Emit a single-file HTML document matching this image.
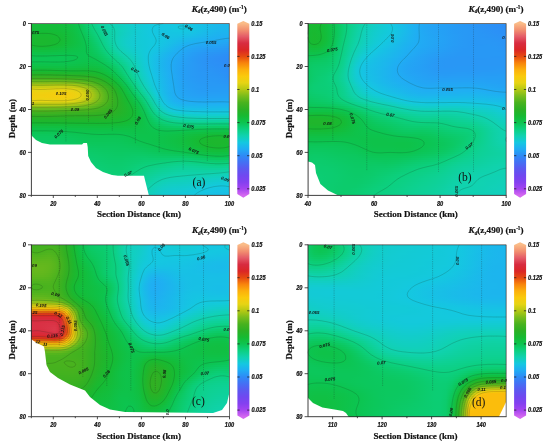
<!DOCTYPE html>
<html><head><meta charset="utf-8"><title>Kd(z,490) sections</title>
<style>
html,body{margin:0;padding:0;background:#fff}
#fig{position:relative;width:550px;height:445px;background:#fff;overflow:hidden}
.f{position:absolute;overflow:hidden}
.f i{display:block;height:2px}
svg{position:absolute;left:0;top:0}
.ct{fill:none;stroke:#143014;stroke-width:.45;stroke-opacity:.42}
.st{fill:none;stroke:#222;stroke-width:.5;stroke-dasharray:.8 1;stroke-opacity:.6}
.fr{fill:none;stroke:#333;stroke-width:.7}
.ax{fill:none;stroke:#2a2a2a;stroke-width:.9}
.tk{fill:none;stroke:#222;stroke-width:.8}
.tl{font:italic bold 6.5px "Liberation Sans",sans-serif;fill:#111;stroke:#111;stroke-width:.2px}
.cl{font:italic bold 4.3px "Liberation Sans",sans-serif;fill:#111}
.al{font:bold 9.0px "Liberation Serif",serif;fill:#111;stroke:#111;stroke-width:.2px}
.ti{font:bold 9.1px "Liberation Serif",serif;fill:#111;stroke:#111;stroke-width:.2px}
.pl{font:11.5px "Liberation Serif",serif;fill:#111}
</style></head><body>
<div id="fig">
<div class="f" style="left:31.3px;top:23.5px;width:198.1px;height:171.9px"><i style="background:linear-gradient(90deg,#14bc39,#14bc39,#14bc39,#14bc38,#14bc39,#13bd3b,#12be3f,#0fc147,#0cc452,#0cca67,#0ccf7d,#0dd191,#0fd1a1,#10d2ad,#11d1b7,#11cfbf,#12cdc7,#13ccce,#13cad4,#13c9d9,#14c9dd,#14c8e0,#14c7e1,#14c7e1,#14c7e1,#14c7e1,#15c6e1,#16c4e3,#17c1e5,#18bee7,#19bbe9,#1ab9eb,#1bb7ec,#1bb7ec)"></i><i style="background:linear-gradient(90deg,#14bc39,#14bc39,#14bc39,#14bc39,#14bc39,#13bd3b,#12be3f,#0fc146,#0cc450,#0cc964,#0ccf7a,#0dd18e,#0ed19e,#0fd2aa,#10d1b4,#11cfbd,#12cec5,#12cccd,#13cbd4,#13c9da,#14c8df,#14c7e1,#15c6e1,#15c7e1,#14c8e0,#14c8e0,#14c8e0,#15c5e2,#17c2e4,#18bee7,#1abbe9,#1bb8eb,#1bb7ec,#1bb8ec)"></i><i style="background:linear-gradient(90deg,#14bc38,#14bc38,#14bc38,#14bc38,#14bc38,#13bd3a,#12be3e,#10c045,#0cc44f,#0cc862,#0cce77,#0dd08a,#0ed19a,#0fd2a7,#10d2b2,#11d0bc,#12cec4,#12cccd,#13cbd4,#14c9da,#14c8df,#15c6e1,#15c6e2,#15c6e1,#14c7e0,#14c8e0,#14c8e0,#15c5e2,#17c2e5,#18bee7,#1abaea,#1bb7ec,#1cb6ed,#1bb7ec)"></i><i style="background:linear-gradient(90deg,#15bb36,#15bb36,#15bb36,#15bb36,#14bc37,#14bc39,#12be3d,#10c043,#0dc34d,#0cc85f,#0ccd73,#0dd087,#0ed197,#0fd2a5,#10d2b1,#11d0bc,#12cec5,#12cccd,#13cbd4,#14c9da,#14c8df,#15c6e1,#15c5e2,#15c6e2,#15c7e1,#14c7e1,#15c6e1,#16c4e3,#17c0e5,#19bce8,#1bb9eb,#1cb6ed,#1cb5ee,#1cb5ed)"></i><i style="background:linear-gradient(90deg,#15bb34,#15bb34,#16ba33,#16ba33,#15bb34,#14bc37,#13bd3b,#11bf42,#0dc34c,#0cc75c,#0ccc70,#0cd083,#0ed195,#0fd1a4,#10d2b1,#11cfbc,#12cdc6,#12cccd,#13cad4,#14c9da,#14c8df,#15c6e1,#15c5e2,#15c5e2,#15c5e2,#15c5e2,#16c4e3,#17c2e4,#18bee7,#1abaea,#1bb7ec,#1cb4ee,#1db3ef,#1db4ef)"></i><i style="background:linear-gradient(90deg,#16ba32,#17ba31,#17b931,#17ba31,#16ba32,#15bb35,#13bd3a,#11bf41,#0ec24a,#0cc659,#0ccb6c,#0cd080,#0dd192,#0fd1a3,#10d2b1,#11cfbd,#12cdc7,#13ccce,#13cad5,#13c9da,#14c8df,#15c7e1,#15c5e2,#16c4e3,#16c4e3,#16c3e4,#17c1e5,#18bfe7,#19bbe9,#1bb8eb,#1cb5ee,#1db2ef,#1eb1f0,#1eb1f0)"></i><i style="background:linear-gradient(90deg,#18b931,#19b930,#19b930,#19b930,#17ba31,#15bb34,#14bc39,#11bf40,#0ec249,#0cc556,#0cca68,#0ccf7c,#0dd18f,#0fd1a2,#10d2b2,#11cfbf,#12cdc8,#13cbd0,#13cad5,#13c9da,#14c8de,#14c7e1,#15c5e2,#16c4e3,#17c2e4,#17c0e6,#18bee7,#1abbe9,#1bb8eb,#1cb5ed,#1db2ef,#1eb0f1,#1faff2,#1faff2)"></i><i style="background:linear-gradient(90deg,#19b930,#1ab82f,#1ab82f,#1ab830,#18b931,#16ba33,#14bc39,#11bf40,#0fc148,#0cc553,#0cc965,#0cce78,#0dd18c,#0fd1a0,#10d2b2,#11cfc0,#12cdca,#13cbd0,#13cad5,#13c9d9,#14c9dd,#14c7e0,#15c5e2,#16c2e4,#18c0e6,#19bde8,#1abaea,#1bb7ec,#1cb4ee,#1db2f0,#1eb0f1,#1faef3,#20acf4,#20abf4)"></i><i style="background:linear-gradient(90deg,#19b930,#1bb82f,#1bb82f,#1ab82f,#18b931,#16ba33,#14bc39,#11bf40,#0fc148,#0cc451,#0cc862,#0ccd75,#0dd08a,#0fd19e,#10d2b2,#11cfc0,#12cccb,#13cbd1,#13cad6,#13c9d9,#14c9dd,#14c7e0,#15c5e2,#17c1e5,#19bde8,#1ab9ea,#1cb6ed,#1db3ef,#1eb1f1,#1faff2,#20adf3,#20abf4,#21a9f4,#22a8f4)"></i><i style="background:linear-gradient(90deg,#18b930,#1ab82f,#1bb82f,#1ab830,#18b931,#15bb34,#13bd3a,#11bf40,#0fc147,#0cc450,#0cc85f,#0ccc71,#0dd086,#0ed19c,#10d2b0,#11cfc0,#12cccb,#13cbd1,#13cad6,#13c9d9,#14c9dd,#14c7e0,#16c4e3,#18c0e6,#1abbe9,#1cb6ed,#1db2f0,#1faff2,#20adf3,#20abf4,#21a9f4,#22a8f4,#23a6f4,#23a4f4)"></i><i style="background:linear-gradient(90deg,#17ba32,#19b930,#19b930,#18b931,#16ba32,#15bb36,#13bd3c,#11bf42,#0fc148,#0cc44f,#0cc75c,#0ccb6e,#0cd083,#0ed199,#10d2ae,#11cfbf,#12cdca,#13cbd1,#13cad5,#13c9d9,#14c9dd,#15c7e1,#16c3e4,#18bee7,#1bb8eb,#1db3ef,#1faef2,#20abf4,#21a8f4,#22a7f4,#23a5f4,#23a4f4,#24a2f5,#259ff5)"></i><i style="background:linear-gradient(90deg,#15bb35,#16ba33,#16ba33,#15bb34,#14bc37,#13bd3a,#12be3f,#10c044,#0ec249,#0cc44f,#0cc75a,#0ccb6a,#0cd07f,#0ed195,#10d2ab,#11cfbc,#12cdc8,#13cbcf,#13cad5,#13c9d9,#14c8de,#15c6e2,#17c1e5,#19bce9,#1cb5ed,#1eb0f1,#20abf4,#22a7f4,#23a4f4,#24a3f5,#24a1f5,#25a0f5,#269ef5,#279bf5)"></i><i style="background:linear-gradient(90deg,#13bd3b,#14bc39,#14bc39,#13bd3a,#13bd3c,#12be3f,#10c043,#0fc147,#0ec24b,#0cc44f,#0cc658,#0cca67,#0ccf7a,#0dd191,#0fd2a7,#11d0b8,#12cec5,#12cccd,#13cbd4,#13c9d9,#14c8e0,#16c4e3,#18bfe6,#1ab9eb,#1db3ef,#20adf3,#22a8f4,#23a4f4,#25a1f5,#259ff5,#269df5,#279cf5,#279af5,#2897f5)"></i><i style="background:linear-gradient(90deg,#11bf42,#11bf40,#11bf40,#11bf41,#11bf42,#10c045,#0fc147,#0ec24a,#0dc34c,#0cc44f,#0cc657,#0cc963,#0ccd76,#0dd08b,#0fd1a1,#10d1b3,#11cfc1,#12cdca,#13cbd2,#13c9da,#14c7e1,#16c2e4,#19bde8,#1bb7ec,#1eb1f1,#21abf4,#23a5f4,#25a1f5,#269ef5,#279bf5,#289af5,#2898f5,#2996f5,#2a94f5)"></i><i style="background:linear-gradient(90deg,#0fc148,#0fc147,#0fc147,#0fc147,#0ec249,#0ec24a,#0ec24b,#0dc34d,#0dc34e,#0cc450,#0cc555,#0cc860,#0ccc71,#0cd085,#0ed19b,#10d2ae,#11d0bc,#12cdc7,#13cbd1,#13c9da,#15c6e1,#17c0e5,#1abaea,#1cb4ee,#1faef2,#22a8f4,#24a3f5,#269ef5,#279bf5,#2898f5,#2996f5,#2a95f5,#2a93f5,#2b91f6)"></i><i style="background:linear-gradient(90deg,#0dc34e,#0dc34d,#0dc34d,#0dc34d,#0dc34e,#0dc34e,#0cc44f,#0cc44f,#0cc44f,#0cc450,#0cc553,#0cc75c,#0ccb6b,#0cd07f,#0ed194,#0fd2a7,#11d1b6,#12cec3,#13cccf,#13c9da,#15c5e2,#18bfe7,#1bb8eb,#1db2f0,#20adf4,#22a6f4,#25a1f5,#269df5,#2899f5,#2996f5,#2a94f5,#2b92f6,#2b90f6,#2c8ef6)"></i><i style="background:linear-gradient(90deg,#0cc452,#0cc451,#0cc451,#0cc452,#0cc452,#0cc552,#0cc452,#0cc451,#0cc450,#0cc44f,#0cc451,#0cc658,#0cca66,#0cce79,#0dd18d,#0fd1a0,#10d2b1,#11cfbf,#12cccd,#13c9da,#16c4e3,#19bde8,#1bb7ec,#1eb1f1,#21abf4,#23a5f4,#25a0f5,#279bf5,#2898f5,#2a95f5,#2b92f6,#2c90f6,#2c8ef6,#2d8df6)"></i><i style="background:linear-gradient(90deg,#0cc554,#0cc554,#0cc554,#0cc554,#0cc554,#0cc554,#0cc553,#0cc452,#0cc44f,#0dc34e,#0cc44f,#0cc554,#0cc861,#0ccc72,#0cd086,#0ed199,#10d2ab,#11d0bb,#12cccb,#13c9d9,#16c4e3,#19bce8,#1cb5ed,#1faff2,#21a9f4,#23a4f4,#259ff5,#279af5,#2997f5,#2a94f5,#2b91f6,#2c8ff6,#2d8df6,#2d8cf6)"></i><i style="background:linear-gradient(90deg,#0cc553,#0cc553,#0cc553,#0cc553,#0cc553,#0cc553,#0cc452,#0cc450,#0dc34e,#0dc34d,#0dc34d,#0cc450,#0cc75b,#0ccb6b,#0cd07e,#0dd192,#0fd2a5,#11d1b7,#12cdc8,#13cad8,#16c4e3,#19bce9,#1cb5ee,#1faef2,#21a8f4,#24a3f5,#269ef5,#279af5,#2996f5,#2a94f5,#2b91f6,#2c8ff6,#2d8df6,#2d8cf6)"></i><i style="background:linear-gradient(90deg,#0cc44f,#0cc44f,#0cc44f,#0cc44f,#0cc44f,#0cc44f,#0cc44f,#0dc34e,#0dc34c,#0ec24a,#0ec24a,#0dc34c,#0cc555,#0cc964,#0cce77,#0dd08b,#0fd19f,#10d1b3,#12cdc6,#13cad7,#16c4e3,#19bce9,#1cb4ee,#1faef3,#22a8f4,#24a2f5,#269ef5,#289af5,#2996f5,#2a94f5,#2b91f6,#2c90f6,#2c8ef6,#2d8cf6)"></i><i style="background:linear-gradient(90deg,#0ec24a,#0ec24a,#0ec24a,#0ec24a,#0ec24b,#0ec24b,#0ec24b,#0ec24a,#0fc148,#0fc146,#0fc146,#0ec249,#0cc44f,#0cc75d,#0ccc6f,#0cd084,#0ed19a,#10d2af,#12cec4,#13cad6,#16c4e3,#19bce9,#1cb4ee,#1faef3,#22a7f4,#24a2f5,#269df5,#289af5,#2997f5,#2a94f5,#2b92f6,#2b90f6,#2c8ff6,#2d8df6)"></i><i style="background:linear-gradient(90deg,#10c044,#10c043,#10c043,#10c044,#10c044,#10c045,#10c045,#10c044,#10c043,#11bf42,#11bf41,#10c044,#0ec24a,#0cc555,#0cca68,#0ccf7e,#0ed194,#10d2ab,#11cec1,#13cad5,#15c5e2,#19bce9,#1cb4ee,#1faef3,#22a7f4,#24a2f5,#269df5,#289af5,#2997f5,#2a95f5,#2a93f5,#2b91f6,#2c90f6,#2d8df6)"></i><i style="background:linear-gradient(90deg,#13bd3c,#13bd3b,#13bd3b,#13bd3b,#13bd3c,#12be3d,#12be3d,#12be3d,#13bd3c,#13bd3b,#13bd3c,#12be3e,#10c045,#0cc44f,#0cc861,#0cce78,#0dd190,#0fd2a8,#11cfbf,#13cbd3,#15c5e2,#19bce8,#1cb5ee,#1faef3,#22a7f4,#24a1f5,#269df5,#289af5,#2997f5,#2995f5,#2a94f5,#2b92f6,#2b91f6,#2c8ef6)"></i><i style="background:linear-gradient(90deg,#16ba32,#17b931,#17b931,#17ba31,#16ba32,#16ba33,#15bb34,#15bb34,#15bb34,#16ba33,#15bb34,#14bc38,#12be3f,#0ec249,#0cc75a,#0ccc72,#0dd08b,#0fd2a4,#11cfbc,#13cbd1,#15c6e1,#19bde8,#1cb5ed,#1faef2,#22a7f4,#24a1f5,#269df5,#289af5,#2897f5,#2996f5,#2a95f5,#2a93f5,#2b91f6,#2c8ef6)"></i><i style="background:linear-gradient(90deg,#1fb62c,#20b52c,#20b52c,#20b62c,#1fb62c,#1eb62d,#1db72e,#1cb72e,#1cb72e,#1cb72e,#1bb82f,#17b931,#14bc38,#10c044,#0cc553,#0ccb6c,#0dd086,#0fd1a0,#11d0b9,#13cccf,#14c7e1,#18bee7,#1cb6ed,#1faff2,#22a7f4,#24a1f5,#269df5,#289af5,#2898f5,#2997f5,#2996f5,#2a94f5,#2b92f6,#2c8ff6)"></i><i style="background:linear-gradient(90deg,#29b126,#2ab125,#2ab125,#2ab125,#29b126,#28b227,#27b227,#26b328,#25b328,#24b429,#22b52b,#1eb72d,#17ba32,#12be3d,#0dc34c,#0cc965,#0cd081,#0ed19c,#11d1b6,#12cccd,#14c8e0,#18bfe7,#1cb6ed,#1faff2,#22a8f4,#24a1f5,#269df5,#289af5,#2898f5,#2997f5,#2996f5,#2995f5,#2a93f5,#2c8ff6)"></i><i style="background:linear-gradient(90deg,#37b122,#38b121,#38b121,#38b122,#37b122,#36b122,#34b122,#32b023,#30b023,#2eb024,#2ab125,#25b329,#1db72e,#15bb36,#0fc146,#0cc75d,#0ccf7a,#0ed198,#10d1b3,#12cdca,#14c8de,#18c0e6,#1bb7ec,#1faff2,#22a8f4,#24a2f5,#269df5,#279af5,#2898f5,#2898f5,#2997f5,#2996f5,#2a94f5,#2b90f6)"></i><i style="background:linear-gradient(90deg,#47b21e,#48b21e,#48b21e,#48b21e,#47b21e,#46b21e,#45b21f,#43b21f,#40b120,#3cb121,#36b122,#2db024,#24b429,#19b930,#11bf40,#0cc554,#0ccd73,#0dd192,#10d2ae,#12cdc7,#14c9dc,#17c0e6,#1bb8ec,#1eb0f1,#21a8f4,#24a2f5,#269df5,#279bf5,#2899f5,#2898f5,#2898f5,#2997f5,#2a95f5,#2b92f6)"></i><i style="background:linear-gradient(90deg,#65b81d,#65b81d,#65b81d,#65b81d,#65b81d,#64b81d,#62b71d,#5db61d,#56b51d,#4cb31e,#43b21f,#38b121,#2bb024,#1fb62c,#14bc38,#0dc34c,#0ccb6b,#0dd08c,#0fd2aa,#12cec4,#13c9da,#17c1e5,#1bb8eb,#1eb0f1,#21a9f4,#24a3f5,#269ef5,#279bf5,#2899f5,#2899f5,#2898f5,#2897f5,#2996f5,#2a94f5)"></i><i style="background:linear-gradient(90deg,#87bf1a,#85bf1a,#85bf1a,#86bf1a,#87bf1a,#87bf1a,#84be1a,#7ebd1b,#74bb1c,#67b81d,#55b51d,#43b21f,#35b122,#26b328,#17b931,#10c045,#0cc862,#0cd084,#0fd2a4,#11cfc0,#13cad7,#17c2e4,#1bb8eb,#1eb0f1,#21a9f4,#24a3f5,#259ff5,#279cf5,#279af5,#2899f5,#2899f5,#2898f5,#2997f5,#2996f5)"></i><i style="background:linear-gradient(90deg,#acc615,#a8c616,#a8c616,#aac615,#adc715,#adc715,#abc615,#a4c516,#96c218,#82be1b,#6bb91d,#53b41e,#3eb120,#2cb024,#1db72e,#12be3f,#0cc659,#0ccf7d,#0fd19e,#11d0bb,#13cad4,#16c3e4,#1ab9eb,#1eb1f1,#21aaf4,#23a4f4,#259ff5,#269df5,#279bf5,#279af5,#2899f5,#2899f5,#2899f5,#2898f5)"></i><i style="background:linear-gradient(90deg,#cacd14,#c6cc14,#c6cc14,#c8cd14,#cbcd14,#ccce14,#cacd14,#c3cc14,#b6c914,#9fc417,#81be1b,#64b81d,#47b21e,#34b122,#22b42a,#14bc38,#0cc450,#0ccd74,#0ed197,#11d1b6,#13cbd1,#16c4e3,#1ab9ea,#1eb1f0,#21aaf4,#23a4f4,#25a0f5,#269df5,#279cf5,#279bf5,#279af5,#279af5,#279af5,#289af5)"></i><i style="background:linear-gradient(90deg,#e2d314,#ddd214,#ddd214,#e0d314,#e3d314,#e5d414,#e3d314,#dcd214,#cdce14,#b7c914,#96c218,#72bb1c,#52b41e,#3ab121,#27b227,#16ba32,#0ec24a,#0ccb6c,#0dd190,#10d2b0,#12cccc,#15c6e2,#1abaea,#1eb1f0,#21abf4,#23a5f4,#25a1f5,#269ef5,#269cf5,#279bf5,#279bf5,#279bf5,#279bf5,#279bf5)"></i><i style="background:linear-gradient(90deg,#ecd112,#ead212,#ead212,#ebd112,#ecd111,#edd011,#edd111,#e9d213,#ded214,#c6cc14,#a6c516,#7ebd1b,#5bb61d,#3fb120,#2ab125,#19b830,#10c045,#0cc963,#0dd087,#0fd2a8,#12cdc7,#14c8e0,#19bbe9,#1eb2f0,#20abf4,#23a5f4,#24a1f5,#259ff5,#269df5,#269cf5,#269cf5,#269cf5,#269df5,#269df5)"></i><i style="background:linear-gradient(90deg,#f1ce10,#efd010,#efd010,#f0cf10,#f2ce0f,#f2ce0f,#f2ce0f,#eed011,#e7d313,#d0cf14,#b0c715,#86bf1a,#61b71d,#42b21f,#2db024,#1cb72e,#11bf40,#0cc75b,#0cd07e,#0fd1a0,#11cfc0,#14c9dd,#19bce8,#1db2ef,#20abf4,#23a6f4,#24a2f5,#25a0f5,#269ef5,#269ef5,#269ef5,#269ef5,#269ef5,#269ef5)"></i><i style="background:linear-gradient(90deg,#f3cd0f,#f1ce0f,#f1ce0f,#f2ce0f,#f4cd0e,#f5cd0e,#f4cd0f,#f0cf10,#e9d213,#d4d014,#b4c814,#8bc01a,#64b81d,#44b21f,#30b023,#1fb62c,#13bd3b,#0cc452,#0ccd75,#0ed198,#11d0b9,#13cad8,#18bee7,#1db3ef,#20acf4,#22a7f4,#24a3f5,#25a1f5,#25a0f5,#259ff5,#25a0f5,#25a0f5,#25a0f5,#25a0f5)"></i><i style="background:linear-gradient(90deg,#f3ce0f,#f1cf10,#f1cf10,#f2ce0f,#f3cd0f,#f4cd0f,#f3ce0f,#efd010,#e8d313,#d2cf14,#b3c814,#8ac01a,#65b81d,#45b21f,#32b023,#21b52b,#14bc37,#0dc34c,#0ccb6b,#0dd18f,#10d2b2,#13cbd3,#17c0e6,#1cb5ee,#1fadf3,#22a8f4,#23a5f4,#24a3f5,#24a2f5,#24a2f5,#24a2f5,#24a2f5,#24a2f5,#24a2f5)"></i><i style="background:linear-gradient(90deg,#efd011,#edd111,#edd111,#eed011,#efd010,#efcf10,#eed011,#ead212,#e1d314,#c9cd14,#abc615,#85bf1a,#63b81d,#45b21f,#32b023,#23b42a,#15bb34,#0fc147,#0cc962,#0cd086,#10d2ab,#12cccd,#17c2e4,#1cb6ed,#1faff2,#21aaf4,#22a7f4,#23a6f4,#23a5f4,#23a5f4,#23a5f4,#23a5f4,#23a5f4,#23a5f4)"></i><i style="background:linear-gradient(90deg,#e7d414,#e5d414,#e5d414,#e6d414,#e7d314,#e7d314,#e6d414,#ded214,#cfce14,#bac914,#9dc317,#7bbd1c,#5eb71d,#44b21f,#33b023,#24b429,#17b931,#11bf42,#0cc659,#0ccf7d,#0fd1a3,#12cdc7,#15c5e2,#1ab9eb,#1eb1f0,#1fadf3,#20abf4,#21a9f4,#21a9f4,#21a9f4,#21a9f4,#21a9f4,#21a9f4,#21a9f4)"></i><i style="background:linear-gradient(90deg,#cece14,#ccce14,#cdce14,#cece14,#cfce14,#cece14,#cbcd14,#c3cc14,#b7c914,#a3c516,#8ac01a,#6fba1c,#56b51d,#41b21f,#32b023,#25b328,#1ab830,#12be3e,#0cc451,#0ccd75,#0ed19c,#11cec1,#14c8e0,#19bce9,#1cb5ee,#1eb1f1,#1faff2,#1faef3,#1fadf3,#20adf3,#20adf3,#1fadf3,#1fadf3,#20adf3)"></i><i style="background:linear-gradient(90deg,#afc715,#aec715,#afc715,#afc715,#afc715,#aec715,#aac615,#a2c416,#97c218,#87bf1a,#74bb1c,#62b71d,#4eb31e,#3eb120,#31b023,#26b328,#1bb82f,#13bd3a,#0dc34c,#0ccb6d,#0ed194,#11d0ba,#13c9d9,#17c0e6,#1bb9eb,#1cb5ed,#1db3ef,#1db2ef,#1eb2f0,#1eb2f0,#1eb2f0,#1eb2f0,#1eb2f0,#1eb1f0)"></i><i style="background:linear-gradient(90deg,#89bf1a,#8ac01a,#8ac01a,#8ac01a,#89bf1a,#86bf1a,#82be1b,#7dbd1b,#75bb1c,#6dba1c,#61b71d,#54b41e,#45b21f,#3bb121,#30b023,#26b328,#1db72e,#14bc37,#0fc148,#0cca66,#0dd18d,#10d2b2,#13cbd1,#15c5e2,#18bee7,#1abaea,#1bb9eb,#1bb8ec,#1bb7ec,#1bb7ec,#1bb7ec,#1bb7ec,#1bb7ec,#1bb7ec)"></i><i style="background:linear-gradient(90deg,#68b91d,#69b91d,#6ab91d,#69b91d,#68b91d,#65b81d,#63b81d,#5fb71d,#5bb61d,#56b51d,#4fb31e,#46b21e,#3fb120,#37b122,#2db024,#26b328,#1db72d,#15bb35,#10c045,#0cc860,#0cd085,#0fd2aa,#12cdc8,#14c9dc,#16c4e3,#17c0e5,#18bfe7,#18bee7,#19bde8,#19bde8,#19bce8,#19bce8,#19bde8,#19bde8)"></i><i style="background:linear-gradient(90deg,#4eb31e,#50b41e,#50b41e,#4fb31e,#4db31e,#4bb31e,#49b21e,#47b21e,#46b21f,#44b21f,#42b21f,#3eb120,#39b121,#33b023,#2bb025,#25b329,#1eb72d,#16ba33,#10c043,#0cc65a,#0ccf7d,#0fd1a0,#11cfbd,#13cbd1,#14c9dc,#14c7e1,#15c6e2,#16c4e3,#16c4e3,#16c3e3,#16c3e4,#16c3e4,#16c3e4,#16c3e3)"></i><i style="background:linear-gradient(90deg,#3fb120,#40b120,#40b120,#3fb120,#3fb120,#3db120,#3cb121,#3bb121,#3ab121,#3ab121,#39b121,#36b122,#33b023,#2eb024,#29b126,#23b429,#1db72d,#16ba33,#11bf41,#0cc555,#0ccd76,#0ed196,#10d2b1,#12cec4,#13cccf,#13cad4,#13cad8,#13c9da,#14c9db,#14c9dc,#14c9dc,#14c9dc,#14c9dc,#14c9dc)"></i><i style="background:linear-gradient(90deg,#34b122,#35b122,#35b122,#35b122,#34b122,#33b023,#32b023,#31b023,#31b023,#31b023,#30b023,#2fb023,#2db024,#2ab125,#26b328,#22b52b,#1cb72e,#16ba33,#11bf40,#0cc450,#0ccc6e,#0dd08c,#0fd2a5,#10d1b6,#11cfc0,#12cdc6,#12cdca,#12cccc,#12ccce,#13ccce,#13cccf,#13cccf,#13cccf,#13cccf)"></i><i style="background:linear-gradient(90deg,#2bb025,#2bb024,#2bb024,#2bb024,#2bb125,#2ab125,#2ab125,#2ab125,#2ab126,#2ab126,#2ab126,#29b126,#28b227,#26b328,#23b42a,#1fb62c,#1bb82f,#15bb34,#11bf40,#0dc34e,#0cca67,#0cd081,#0ed198,#0fd2a7,#10d2b1,#11d0b7,#11d0bb,#11cfbe,#11cfbf,#11cfc0,#11cfc0,#11cfc0,#11cfc0,#11cfc0)"></i><i style="background:linear-gradient(90deg,#24b329,#25b329,#25b329,#24b329,#24b429,#24b429,#24b429,#24b429,#24b429,#24b429,#24b429,#23b429,#23b42a,#21b52b,#1fb62c,#1cb72e,#18b931,#15bb36,#11bf40,#0dc34c,#0cc861,#0cce77,#0dd08b,#0ed199,#0fd1a2,#0fd2a8,#10d2ac,#10d2ae,#10d2af,#10d2b0,#10d2b0,#10d2b0,#10d2b0,#10d2b0)"></i><i style="background:linear-gradient(90deg,#1eb62d,#1eb62d,#1eb62d,#1eb62d,#1eb62d,#1eb62d,#1eb62d,#1eb62d,#1eb62d,#1eb62d,#1eb62d,#1eb62d,#1eb72d,#1db72e,#1bb82f,#19b930,#16ba32,#14bc39,#11bf41,#0ec24b,#0cc75b,#0ccb6e,#0cd07e,#0dd08a,#0ed192,#0ed198,#0ed19b,#0ed19d,#0fd19e,#0fd19f,#0fd19f,#0fd19f,#0fd19f,#0fd19f)"></i><i style="background:linear-gradient(90deg,#17b931,#17b931,#17b931,#17b931,#17b931,#17b931,#18b931,#18b931,#18b931,#18b931,#18b931,#18b931,#18b931,#18b931,#17ba32,#16ba33,#14bc37,#13bd3c,#11bf42,#0ec24b,#0cc656,#0cc966,#0ccd73,#0ccf7d,#0cd083,#0dd088,#0dd08a,#0dd08c,#0dd18d,#0dd18d,#0dd18d,#0dd18c,#0dd18c,#0dd18d)"></i><i style="background:linear-gradient(90deg,#14bc39,#14bc39,#14bc39,#14bc39,#14bc39,#14bc39,#14bc38,#14bc38,#14bc37,#14bc37,#15bb36,#15bb36,#15bb36,#14bc37,#14bc37,#14bc39,#13bd3b,#12be3f,#10c044,#0ec24a,#0cc553,#0cc85e,#0cca68,#0ccc70,#0ccd75,#0cce78,#0cce79,#0ccf7a,#0ccf7a,#0ccf7a,#0cce7a,#0cce79,#0cce79,#0cce7a)"></i><i style="background:linear-gradient(90deg,#11bf41,#11bf42,#11bf42,#11bf42,#11bf41,#11bf41,#11bf40,#12be3f,#12be3f,#12be3e,#12be3e,#12be3d,#12be3d,#12be3d,#12be3e,#12be3f,#11bf40,#11bf42,#0fc146,#0ec24a,#0cc450,#0cc658,#0cc85f,#0cc964,#0cca67,#0cca69,#0cca69,#0cca69,#0cca68,#0cca67,#0cca67,#0cca66,#0cca67,#0cca67)"></i><i style="background:linear-gradient(90deg,#0ec249,#0ec249,#0ec249,#0ec249,#0ec249,#0fc148,#0fc147,#0fc146,#0fc146,#10c045,#10c044,#10c044,#10c044,#10c044,#10c044,#10c044,#10c045,#0fc146,#0fc148,#0ec24b,#0dc34e,#0cc553,#0cc658,#0cc75a,#0cc75b,#0cc75b,#0cc65a,#0cc659,#0cc657,#0cc556,#0cc555,#0cc554,#0cc554,#0cc555)"></i><i style="background:linear-gradient(90deg,#0cc44f,#0cc44f,#0cc44f,#0cc44f,#0cc44f,#0dc34e,#0dc34d,#0dc34c,#0ec24b,#0ec24a,#0ec249,#0ec249,#0ec249,#0ec249,#0ec249,#0ec249,#0ec249,#0ec249,#0ec249,#0ec24b,#0dc34d,#0cc44f,#0cc451,#0cc452,#0cc451,#0cc450,#0dc34e,#0dc34c,#0ec24b,#0ec249,#0fc148,#0fc148,#0fc148,#0ec249)"></i><i style="background:linear-gradient(90deg,#0cc556,#0cc656,#0cc656,#0cc656,#0cc555,#0cc554,#0cc553,#0cc451,#0cc450,#0dc34e,#0dc34e,#0dc34d,#0dc34d,#0dc34d,#0dc34d,#0dc34d,#0dc34c,#0ec24b,#0ec24b,#0ec24b,#0dc34c,#0dc34d,#0dc34e,#0dc34d,#0dc34c,#0ec24a,#0fc147,#10c045,#10c043,#11bf41,#12be3f,#12be3e,#12be3f,#11bf40)"></i><i style="background:linear-gradient(90deg,#0cc75b,#0cc75c,#0cc75c,#0cc75b,#0cc75a,#0cc659,#0cc658,#0cc556,#0cc554,#0cc552,#0cc451,#0cc450,#0cc450,#0cc450,#0cc450,#0cc450,#0cc44f,#0dc34d,#0dc34c,#0dc34c,#0dc34c,#0dc34c,#0dc34c,#0ec24a,#0fc148,#0fc146,#11bf42,#12be3f,#13bd3c,#14bc39,#14bc37,#15bb36,#14bc37,#14bc39)"></i><i style="background:linear-gradient(90deg,#0cc85e,#0cc85f,#0cc85f,#0cc85f,#0cc75e,#0cc75d,#0cc75b,#0cc659,#0cc657,#0cc556,#0cc554,#0cc553,#0cc554,#0cc554,#0cc554,#0cc553,#0cc451,#0cc44f,#0dc34d,#0dc34c,#0dc34c,#0ec24b,#0ec24a,#0fc148,#0fc146,#10c043,#12be3f,#13bd3b,#14bc37,#15bb34,#17ba32,#18b931,#17b931,#16ba33)"></i><i style="background:linear-gradient(90deg,#0cc861,#0cc861,#0cc862,#0cc861,#0cc860,#0cc85f,#0cc75e,#0cc75c,#0cc65a,#0cc658,#0cc657,#0cc656,#0cc656,#0cc657,#0cc657,#0cc556,#0cc553,#0cc450,#0dc34e,#0dc34d,#0dc34c,#0ec24b,#0ec24a,#0fc147,#10c045,#11bf41,#12be3d,#14bc38,#15bb34,#18b931,#1ab82f,#1bb82f,#1bb82f,#19b930)"></i><i style="background:linear-gradient(90deg,#0cc962,#0cc963,#0cc963,#0cc963,#0cc862,#0cc861,#0cc85f,#0cc75e,#0cc75c,#0cc75a,#0cc659,#0cc658,#0cc658,#0cc659,#0cc659,#0cc658,#0cc556,#0cc553,#0cc450,#0dc34e,#0dc34d,#0ec24b,#0ec24a,#0fc147,#10c044,#11bf41,#13bd3c,#14bc37,#16ba32,#19b930,#1cb72e,#1db72e,#1db72e,#1ab82f)"></i><i style="background:linear-gradient(90deg,#0cc964,#0cc964,#0cc965,#0cc964,#0cc964,#0cc963,#0cc861,#0cc860,#0cc85e,#0cc75d,#0cc75b,#0cc75b,#0cc75b,#0cc75b,#0cc75b,#0cc65a,#0cc658,#0cc555,#0cc552,#0cc450,#0dc34e,#0dc34c,#0ec24a,#0fc148,#10c045,#11bf41,#12be3d,#14bc38,#16ba32,#19b930,#1cb72e,#1db72d,#1db72e,#1ab82f)"></i><i style="background:linear-gradient(90deg,#0cc966,#0cc966,#0cca66,#0cc966,#0cc965,#0cc965,#0cc964,#0cc962,#0cc861,#0cc85f,#0cc85e,#0cc75d,#0cc75d,#0cc75d,#0cc75d,#0cc75c,#0cc75a,#0cc658,#0cc555,#0cc552,#0cc450,#0dc34e,#0dc34c,#0ec249,#0fc146,#10c043,#12be3e,#14bc39,#15bb34,#18b931,#1ab82f,#1cb72e,#1bb82f,#19b930)"></i><i style="background:linear-gradient(90deg,#0cca67,#0cca67,#0cca68,#0cca67,#0cca67,#0cca67,#0cca66,#0cc965,#0cc964,#0cc962,#0cc861,#0cc860,#0cc85f,#0cc85f,#0cc85e,#0cc75e,#0cc75c,#0cc75b,#0cc659,#0cc556,#0cc553,#0cc450,#0dc34d,#0ec24b,#0fc148,#10c045,#11bf41,#13bd3c,#14bc37,#16ba33,#18b931,#19b930,#19b930,#16ba32)"></i><i style="background:linear-gradient(90deg,#0cca69,#0cca69,#0cca69,#0cca69,#0cca69,#0cca69,#0cca69,#0cca68,#0cca67,#0cc966,#0cc964,#0cc963,#0cc862,#0cc861,#0cc860,#0cc85f,#0cc85f,#0cc75e,#0cc75c,#0cc65a,#0cc657,#0cc553,#0cc450,#0dc34e,#0ec24b,#0fc148,#10c045,#11bf41,#13bd3c,#14bc38,#15bb35,#16ba33,#15bb34,#14bc37)"></i><i style="background:linear-gradient(90deg,#0ccb6b,#0ccb6b,#0ccb6b,#0ccb6b,#0ccb6b,#0ccb6b,#0ccb6b,#0ccb6b,#0cca6a,#0cca69,#0cca67,#0cc966,#0cc964,#0cc963,#0cc862,#0cc861,#0cc861,#0cc861,#0cc860,#0cc75e,#0cc75b,#0cc658,#0cc554,#0cc451,#0cc44f,#0dc34d,#0ec24a,#0fc146,#11bf42,#12be3e,#13bd3b,#13bd3a,#13bd3a,#12be3d)"></i><i style="background:linear-gradient(90deg,#0ccb6d,#0ccb6c,#0ccb6c,#0ccb6d,#0ccb6d,#0ccb6d,#0ccb6d,#0ccb6d,#0ccb6c,#0ccb6b,#0cca6a,#0cca68,#0cca66,#0cc965,#0cc964,#0cc963,#0cc964,#0cc964,#0cc964,#0cc962,#0cc860,#0cc75d,#0cc65a,#0cc658,#0cc555,#0cc553,#0cc44f,#0dc34c,#0ec249,#10c045,#10c043,#11bf41,#11bf42,#10c044)"></i><i style="background:linear-gradient(90deg,#0ccc6f,#0ccc6e,#0ccc6e,#0ccc6e,#0ccc6f,#0ccc6f,#0ccc6f,#0ccc6f,#0ccc6f,#0ccb6d,#0ccb6c,#0ccb6a,#0cca68,#0cca67,#0cc965,#0cc965,#0cc966,#0cca67,#0cca67,#0cca66,#0cc965,#0cc962,#0cc860,#0cc85f,#0cc75e,#0cc75c,#0cc659,#0cc555,#0cc450,#0dc34d,#0ec24a,#0ec249,#0ec249,#0dc34c)"></i><i style="background:linear-gradient(90deg,#0ccc70,#0ccc70,#0ccc70,#0ccc70,#0ccc70,#0ccc71,#0ccc71,#0ccc71,#0ccc70,#0ccc6f,#0ccb6e,#0ccb6c,#0ccb6a,#0cca68,#0cca67,#0cca67,#0cca68,#0cca6a,#0ccb6b,#0ccb6b,#0cca69,#0cca68,#0cca67,#0cca67,#0cca67,#0cca67,#0cc965,#0cc861,#0cc75d,#0cc658,#0cc554,#0cc452,#0cc552,#0cc556)"></i><i style="background:linear-gradient(90deg,#0ccd72,#0ccc72,#0ccc72,#0ccc72,#0ccd72,#0ccd73,#0ccd73,#0ccd73,#0ccd72,#0ccc71,#0ccc70,#0ccb6e,#0ccb6c,#0cca6a,#0cca69,#0cca69,#0ccb6a,#0ccb6c,#0ccb6e,#0ccc6f,#0ccc6f,#0ccc6e,#0ccc6f,#0ccc70,#0ccc71,#0ccc72,#0ccc71,#0ccb6d,#0cca69,#0cc965,#0cc861,#0cc85f,#0cc85f,#0cc962)"></i><i style="background:linear-gradient(90deg,#0ccd74,#0ccd73,#0ccd73,#0ccd74,#0ccd74,#0ccd74,#0ccd74,#0ccd74,#0ccd74,#0ccd73,#0ccc71,#0ccc6f,#0ccb6d,#0ccb6c,#0ccb6b,#0ccb6b,#0ccb6d,#0ccc6f,#0ccc71,#0ccd73,#0ccd74,#0ccd75,#0cce76,#0cce78,#0ccf7b,#0ccf7c,#0ccf7c,#0cce79,#0ccd76,#0ccc71,#0ccb6e,#0ccb6c,#0ccb6c,#0ccc6f)"></i><i style="background:linear-gradient(90deg,#0ccd76,#0ccd75,#0ccd75,#0ccd76,#0ccd76,#0cce76,#0cce76,#0ccd76,#0ccd75,#0ccd74,#0ccd73,#0ccc71,#0ccc6f,#0ccb6d,#0ccb6c,#0ccb6d,#0ccc6f,#0ccc71,#0ccd74,#0cce77,#0cce79,#0ccf7b,#0ccf7e,#0cd081,#0cd084,#0dd086,#0dd086,#0cd084,#0cd081,#0ccf7d,#0ccf7a,#0cce78,#0cce78,#0ccf7c)"></i><i style="background:linear-gradient(90deg,#0cce78,#0cce77,#0cce77,#0cce78,#0cce78,#0cce78,#0cce78,#0cce78,#0cce77,#0cce76,#0ccd75,#0ccd73,#0ccc71,#0ccc6f,#0ccb6e,#0ccc6e,#0ccc70,#0ccd74,#0cce78,#0ccf7b,#0cd07e,#0cd081,#0cd085,#0dd088,#0dd18c,#0dd18f,#0dd18f,#0dd18e,#0dd08b,#0dd088,#0cd085,#0cd084,#0cd085,#0dd088)"></i><i style="background:linear-gradient(90deg,#0cce7a,#0cce7a,#0cce7a,#0cce7a,#0cce7a,#0ccf7a,#0ccf7a,#0cce7a,#0cce79,#0cce78,#0cce77,#0ccd75,#0ccd72,#0ccc70,#0ccc6f,#0ccc70,#0ccd72,#0cce76,#0ccf7b,#0cd07f,#0cd083,#0dd087,#0dd08b,#0dd18f,#0ed193,#0ed196,#0ed197,#0ed196,#0ed194,#0dd192,#0dd190,#0dd18f,#0dd190,#0ed194)"></i><i style="background:linear-gradient(90deg,#0ccf7c,#0ccf7c,#0ccf7c,#0ccf7c,#0ccf7c,#0ccf7c,#0ccf7c,#0ccf7c,#0ccf7b,#0ccf7a,#0cce79,#0cce77,#0ccd74,#0ccc72,#0ccc71,#0ccc71,#0ccd74,#0cce79,#0cd07e,#0cd083,#0dd088,#0dd18d,#0dd192,#0ed196,#0ed199,#0ed19c,#0ed19d,#0ed19d,#0ed19c,#0ed19a,#0ed19a,#0ed19a,#0ed19b,#0fd19f)"></i><i style="background:linear-gradient(90deg,#0ccf7e,#0ccf7d,#0ccf7d,#0ccf7e,#0ccf7e,#0ccf7e,#0ccf7e,#0ccf7e,#0ccf7d,#0ccf7c,#0ccf7b,#0cce78,#0ccd76,#0ccd73,#0ccd72,#0ccd73,#0cce76,#0ccf7b,#0cd081,#0dd088,#0dd18d,#0ed193,#0ed198,#0ed19c,#0fd19f,#0fd1a1,#0fd1a3,#0fd1a3,#0fd1a3,#0fd1a3,#0fd1a3,#0fd1a4,#0fd2a6,#0fd2aa)"></i><i style="background:linear-gradient(90deg,#0cd07f,#0cd07f,#0cd07f,#0cd07f,#0cd07f,#0cd07f,#0cd07f,#0cd07f,#0cd07f,#0ccf7e,#0ccf7c,#0ccf7a,#0cce78,#0ccd75,#0ccd74,#0ccd75,#0cce79,#0cd07e,#0cd085,#0dd08c,#0ed192,#0ed198,#0ed19e,#0fd1a2,#0fd2a5,#0fd2a7,#0fd2a8,#0fd2a9,#0fd2a9,#10d2aa,#10d2ab,#10d2ad,#10d2b0,#10d1b3)"></i><i style="background:linear-gradient(90deg,#0cd080,#0cd080,#0cd080,#0cd080,#0cd080,#0cd081,#0cd081,#0cd080,#0cd080,#0cd07f,#0ccf7d,#0ccf7c,#0cce79,#0cce77,#0cce77,#0cce78,#0ccf7c,#0cd081,#0dd088,#0dd190,#0ed197,#0ed19e,#0fd1a3,#0fd2a7,#0fd2aa,#10d2ac,#10d2ad,#10d2af,#10d2b0,#10d2b2,#10d1b4,#10d1b6,#11d0b9,#11cfbc)"></i><i style="background:linear-gradient(90deg,#0cd081,#0cd081,#0cd081,#0cd081,#0cd081,#0cd081,#0cd081,#0cd081,#0cd080,#0cd080,#0cd07e,#0ccf7d,#0ccf7b,#0cce7a,#0cce7a,#0ccf7b,#0cd07f,#0cd085,#0dd08c,#0ed194,#0ed19c,#0fd1a3,#0fd2a9,#10d2ad,#10d2af,#10d2b1,#10d1b3,#10d1b5,#11d1b7,#11d0b9,#11d0bc,#11cfbe,#11cec1,#12cec4)"></i><i style="background:linear-gradient(90deg,#0cd081,#0cd081,#0cd081,#0cd081,#0cd081,#0cd081,#0cd081,#0cd081,#0cd081,#0cd080,#0cd07f,#0ccf7e,#0ccf7d,#0ccf7c,#0ccf7d,#0cd07f,#0cd083,#0dd088,#0dd18f,#0ed197,#0fd1a0,#0fd2a8,#10d2af,#10d1b3,#10d1b5,#11d1b7,#11d0b8,#11d0bb,#11cfbd,#11cfc1,#12cec4,#12cdc6,#12cdc9,#12ccca)"></i><i style="background:linear-gradient(90deg,#0cd081,#0cd081,#0cd081,#0cd081,#0cd081,#0cd081,#0cd081,#0cd081,#0cd080,#0cd080,#0cd07f,#0cd07e,#0cd07e,#0cd07f,#0cd080,#0cd083,#0dd087,#0dd08c,#0ed193,#0ed19b,#0fd2a4,#10d2ad,#10d1b4,#11d0b8,#11d0ba,#11d0bc,#11cfbe,#11cfc1,#12cec4,#12cdc8,#12cccb,#12ccce,#13cbd0,#13cbd0)"></i><i style="background:linear-gradient(90deg,#0cd080,#0cd080,#0cd080,#0cd080,#0cd081,#0cd081,#0cd081,#0cd081,#0cd080,#0cd080,#0cd07f,#0cd07f,#0cd080,#0cd081,#0cd084,#0dd087,#0dd08b,#0dd190,#0ed196,#0fd19f,#0fd2a9,#10d2b2,#11d0b9,#11cfbe,#11cfc0,#11cec1,#12cec3,#12cdc6,#12cdca,#13ccce,#13cbd2,#13cad5,#13cad6,#13cad6)"></i><i style="background:linear-gradient(90deg,#0cd080,#0cd080,#0cd080,#0cd080,#0cd080,#0cd080,#0cd080,#0cd080,#0cd080,#0cd07f,#0cd07f,#0cd080,#0cd082,#0cd084,#0dd087,#0dd08a,#0dd18e,#0ed193,#0ed19a,#0fd1a3,#10d2ad,#11d1b6,#11cfbe,#12cec3,#12cec5,#12cdc6,#12cdc8,#12cccc,#13cbd0,#13cad5,#13cad8,#14c9db,#14c9dc,#14c9db)"></i><i style="background:linear-gradient(90deg,#0cd080,#0cd07f,#0cd07f,#0cd080,#0cd080,#0cd080,#0cd080,#0cd080,#0cd07f,#0cd07f,#0cd080,#0cd081,#0cd083,#0dd086,#0dd08a,#0dd18e,#0dd192,#0ed197,#0ed19d,#0fd2a6,#10d2b1,#11d0bb,#12cec3,#12cdc7,#12cdca,#12cccb,#12cccd,#13cbd1,#13cad6,#14c9da,#14c8de,#14c8e0,#14c7e1,#14c8df)"></i><i style="background:linear-gradient(90deg,#0cd07f,#0cd07f,#0cd07f,#0cd07f,#0cd07f,#0cd07f,#0cd07f,#0cd07f,#0cd07f,#0cd07f,#0cd080,#0cd082,#0cd085,#0dd089,#0dd18d,#0dd191,#0ed195,#0ed19a,#0fd1a1,#0fd2aa,#10d1b4,#11cfbf,#12cdc7,#12cccc,#12ccce,#13cbcf,#13cbd2,#13cad6,#14c9da,#14c8df,#15c6e1,#15c5e2,#16c4e3,#15c6e2)"></i><i style="background:linear-gradient(90deg,#0cd07f,#0cd07f,#0cd07f,#0cd07f,#0cd07f,#0cd07f,#0cd07f,#0cd07f,#0cd07f,#0cd080,#0cd081,#0cd084,#0dd087,#0dd08b,#0dd18f,#0ed193,#0ed198,#0ed19d,#0fd2a4,#10d2ae,#11d0b8,#12cec2,#12cccb,#13cbcf,#13cbd2,#13cbd3,#13cad6,#13c9da,#14c8de,#15c6e1,#16c4e3,#16c2e4,#17c2e4,#16c3e3)"></i><i style="background:linear-gradient(90deg,#0cd07f,#0cd080,#0cd080,#0cd07f,#0cd07f,#0cd07f,#0cd07f,#0cd07f,#0cd080,#0cd081,#0cd083,#0cd086,#0dd089,#0dd18c,#0dd190,#0ed195,#0ed19a,#0fd1a0,#0fd2a8,#10d2b1,#11d0bc,#12cdc6,#12ccce,#13cbd2,#13cad5,#13cad7,#13c9d9,#14c9dd,#14c7e0,#15c5e2,#17c2e4,#17c0e5,#18c0e6,#17c1e5)"></i><i style="background:linear-gradient(90deg,#0cd080,#0cd080,#0cd080,#0cd080,#0cd07f,#0cd07f,#0cd07f,#0cd07f,#0cd081,#0cd083,#0cd086,#0dd088,#0dd08b,#0dd18d,#0dd191,#0ed195,#0ed19b,#0fd1a2,#10d2ab,#10d1b5,#11cfc0,#12cdc9,#13cbd1,#13cad5,#13cad7,#13c9d9,#14c9db,#14c8df,#15c6e1,#16c4e3,#17c1e5,#18bfe6,#18bee7,#18bee7)"></i></div>
<div class="f" style="left:308.0px;top:23.5px;width:198.2px;height:171.9px"><i style="background:linear-gradient(90deg,#16ba32,#1ab830,#17ba31,#13bd3c,#0ec24a,#0cc860,#0cce77,#0dd08a,#0ed19a,#0fd2aa,#11d0b8,#12cec5,#13cccf,#13cad8,#14c7e1,#17c1e5,#1abbe9,#1cb5ee,#1faff2,#21a9f4,#23a6f4,#24a3f5,#24a1f5,#259ff5,#269df5,#279af5,#2898f5,#2996f5,#2a94f5,#2a93f5,#2b91f6,#2b90f6,#2c8ff6,#2c8ef6)"></i><i style="background:linear-gradient(90deg,#16ba33,#19b930,#16ba32,#13bd3c,#0ec24a,#0cc85f,#0cce76,#0dd08a,#0ed19c,#10d2ac,#11d0bb,#12cdc7,#13cbd0,#13cad8,#14c8e0,#16c2e4,#19bce9,#1cb5ee,#1faff2,#21a9f4,#23a5f4,#24a3f5,#24a1f5,#259ff5,#269cf5,#279af5,#2898f5,#2997f5,#2995f5,#2a93f5,#2b92f6,#2b90f6,#2c8ff6,#2c8ef6)"></i><i style="background:linear-gradient(90deg,#16ba33,#19b930,#16ba32,#13bd3c,#0ec24a,#0cc85f,#0cce76,#0dd08b,#0ed19e,#10d2af,#11cfbd,#12cdc9,#13cbd1,#13cad8,#14c8df,#16c3e4,#19bce9,#1cb5ee,#1faff2,#21a9f4,#23a5f4,#24a3f5,#24a1f5,#259ff5,#269cf5,#279af5,#2899f5,#2997f5,#2996f5,#2a94f5,#2b92f6,#2b91f6,#2c90f6,#2c8ff6)"></i><i style="background:linear-gradient(90deg,#16ba33,#19b930,#16ba32,#13bd3c,#0ec24a,#0cc85f,#0cce77,#0dd18c,#0fd19f,#10d2b0,#11cfbf,#12ccca,#13cbd2,#13cad8,#14c8e0,#16c2e4,#19bce9,#1cb5ee,#1faff2,#21a9f4,#23a5f4,#24a3f5,#24a1f5,#259ff5,#269cf5,#279af5,#2899f5,#2898f5,#2996f5,#2a95f5,#2a93f5,#2b92f6,#2b90f6,#2c90f6)"></i><i style="background:linear-gradient(90deg,#16ba32,#19b830,#17ba32,#13bd3b,#0ec24a,#0cc85f,#0cce78,#0dd18d,#0fd1a1,#10d2b2,#11cfc1,#12cccc,#13cbd3,#13c9d9,#14c8e0,#17c2e4,#1abbe9,#1cb5ee,#1faff2,#21a9f4,#23a6f4,#24a3f5,#24a1f5,#259ff5,#269cf5,#279af5,#2899f5,#2898f5,#2997f5,#2995f5,#2a94f5,#2b92f6,#2b91f6,#2b90f6)"></i><i style="background:linear-gradient(90deg,#16ba32,#1ab830,#17ba31,#13bd3b,#0ec24a,#0cc860,#0cce79,#0dd18f,#0fd1a2,#10d1b3,#11cec2,#12cccd,#13cad5,#14c9db,#15c7e1,#17c1e5,#1abaea,#1db4ee,#1faef2,#21aaf4,#22a6f4,#23a4f4,#24a2f5,#259ff5,#269df5,#279bf5,#2899f5,#2898f5,#2997f5,#2996f5,#2a95f5,#2a93f5,#2b92f6,#2b91f6)"></i><i style="background:linear-gradient(90deg,#16ba32,#1ab82f,#17b931,#13bd3b,#0ec24a,#0cc861,#0ccf7b,#0dd190,#0fd1a4,#10d1b4,#12cec3,#13ccce,#13cad6,#14c9dd,#15c5e2,#18c0e6,#1ab9eb,#1db3ef,#1faef2,#21aaf4,#22a7f4,#23a4f4,#24a2f5,#25a0f5,#269df5,#279bf5,#2899f5,#2898f5,#2997f5,#2996f5,#2995f5,#2a94f5,#2a93f5,#2b91f6)"></i><i style="background:linear-gradient(90deg,#16ba32,#1ab82f,#17b931,#13bd3b,#0ec24b,#0cc963,#0ccf7c,#0ed192,#0fd2a5,#10d1b6,#12cec4,#13cbd0,#13cad8,#14c8df,#16c4e3,#18bee7,#1bb8eb,#1db3ef,#1faef3,#21aaf4,#22a7f4,#23a5f4,#24a2f5,#25a0f5,#269df5,#279bf5,#2899f5,#2898f5,#2897f5,#2997f5,#2996f5,#2995f5,#2a94f5,#2b92f6)"></i><i style="background:linear-gradient(90deg,#16ba33,#19b830,#17ba32,#13bd3c,#0dc34c,#0cc965,#0cd07e,#0ed194,#0fd2a7,#11d0b7,#12cec6,#13cbd1,#14c9da,#14c7e1,#16c2e4,#19bde8,#1bb7ec,#1eb2f0,#1faef3,#21aaf4,#22a7f4,#23a5f4,#24a3f5,#25a0f5,#269df5,#279bf5,#2899f5,#2898f5,#2897f5,#2997f5,#2997f5,#2996f5,#2a95f5,#2a93f5)"></i><i style="background:linear-gradient(90deg,#15bb35,#18b931,#16ba33,#12be3e,#0dc34d,#0cca67,#0cd080,#0ed196,#0fd2a9,#11d0b9,#12cdc7,#13cbd3,#14c9dc,#15c5e2,#17c0e5,#1abbe9,#1cb5ed,#1eb1f1,#20adf3,#21aaf4,#22a7f4,#23a5f4,#24a2f5,#25a0f5,#269df5,#279bf5,#2899f5,#2898f5,#2897f5,#2997f5,#2997f5,#2997f5,#2996f5,#2a93f5)"></i><i style="background:linear-gradient(90deg,#14bc37,#16ba32,#15bb36,#11bf40,#0cc44f,#0cca69,#0cd082,#0ed198,#10d2ab,#11d0bc,#12cdca,#13cad6,#14c8df,#16c4e3,#18bfe7,#1ab9ea,#1cb4ee,#1eb0f1,#20adf4,#21a9f4,#22a7f4,#23a4f4,#24a2f5,#259ff5,#269df5,#279bf5,#2899f5,#2898f5,#2897f5,#2897f5,#2898f5,#2997f5,#2996f5,#2a94f5)"></i><i style="background:linear-gradient(90deg,#13bd3b,#15bb36,#13bd3a,#10c044,#0cc552,#0ccb6b,#0cd084,#0ed19a,#10d2ae,#11cfbf,#12cccd,#13c9d9,#15c7e1,#17c2e4,#19bde8,#1bb8eb,#1db3ef,#1faff2,#20acf4,#21a9f4,#22a6f4,#23a4f4,#24a1f5,#269ff5,#269cf5,#279af5,#2899f5,#2898f5,#2898f5,#2898f5,#2898f5,#2898f5,#2997f5,#2a95f5)"></i><i style="background:linear-gradient(90deg,#12be3f,#13bd3c,#12be3f,#0fc148,#0cc657,#0ccb6e,#0cd086,#0ed19c,#10d2b1,#12cec2,#13cbd1,#14c9dc,#15c5e2,#17c0e6,#19bbe9,#1bb7ec,#1db2f0,#1faef3,#21abf4,#22a7f4,#23a5f4,#24a2f5,#25a0f5,#269ef5,#279bf5,#289af5,#2898f5,#2898f5,#2898f5,#2898f5,#2898f5,#2898f5,#2997f5,#2996f5)"></i><i style="background:linear-gradient(90deg,#10c044,#11bf42,#10c045,#0dc34c,#0cc75b,#0ccc70,#0dd087,#0fd19e,#10d1b4,#12cdc6,#13cad5,#14c8e0,#16c3e4,#18bee7,#1abaea,#1cb5ed,#1eb1f1,#20adf3,#21a9f4,#22a6f4,#24a3f5,#25a1f5,#259ff5,#269cf5,#279bf5,#2899f5,#2898f5,#2898f5,#2898f5,#2898f5,#2898f5,#2898f5,#2897f5,#2996f5)"></i><i style="background:linear-gradient(90deg,#0ec249,#0fc148,#0ec24b,#0cc451,#0cc860,#0ccd73,#0dd089,#0fd1a1,#11d0b8,#12cdca,#13c9d9,#15c6e2,#17c1e5,#19bde8,#1bb8eb,#1db4ee,#1eb0f1,#20acf4,#22a8f4,#23a5f4,#24a2f5,#259ff5,#269df5,#279bf5,#289af5,#2898f5,#2898f5,#2898f5,#2898f5,#2898f5,#2898f5,#2898f5,#2898f5,#2997f5)"></i><i style="background:linear-gradient(90deg,#0dc34d,#0dc34e,#0cc450,#0cc658,#0cc964,#0ccd75,#0dd08a,#0fd1a3,#11d0bb,#13cccf,#14c9dd,#16c4e3,#18bfe7,#1abbe9,#1bb7ec,#1db3ef,#1faff2,#21abf4,#22a7f4,#24a3f5,#25a0f5,#269ef5,#279cf5,#279af5,#2899f5,#2898f5,#2898f5,#2898f5,#2898f5,#2898f5,#2898f5,#2898f5,#2898f5,#2897f5)"></i><i style="background:linear-gradient(90deg,#0cc552,#0cc554,#0cc658,#0cc75e,#0cca68,#0cce77,#0dd18c,#0fd2a6,#11cfbf,#13cbd3,#14c8e0,#17c2e4,#19bde8,#1abaea,#1cb6ed,#1eb2f0,#1fadf3,#21a9f4,#23a5f4,#24a2f5,#259ff5,#269df5,#279bf5,#2899f5,#2898f5,#2997f5,#2997f5,#2897f5,#2898f5,#2898f5,#2898f5,#2897f5,#2897f5,#2898f5)"></i><i style="background:linear-gradient(90deg,#0cc658,#0cc75b,#0cc75e,#0cc962,#0ccb6a,#0cce78,#0dd18e,#0fd2a9,#12cec3,#13cad7,#15c6e2,#17c0e6,#19bce9,#1bb8eb,#1cb4ee,#1eb0f1,#20acf4,#22a8f4,#23a4f4,#25a1f5,#269ef5,#279bf5,#2899f5,#2898f5,#2997f5,#2997f5,#2997f5,#2997f5,#2897f5,#2897f5,#2997f5,#2997f5,#2997f5,#2898f5)"></i><i style="background:linear-gradient(90deg,#0cc75c,#0cc860,#0cc963,#0cc966,#0ccb6d,#0ccf7a,#0dd190,#10d2ac,#12cdc7,#14c9db,#16c4e3,#18bfe6,#1abbe9,#1bb7ec,#1db3ef,#1faff2,#21abf4,#22a6f4,#24a3f5,#25a0f5,#269df5,#279bf5,#2898f5,#2997f5,#2997f5,#2997f5,#2997f5,#2997f5,#2997f5,#2997f5,#2997f5,#2997f5,#2997f5,#2997f5)"></i><i style="background:linear-gradient(90deg,#0cc860,#0cc964,#0cca66,#0cca69,#0ccc6f,#0ccf7c,#0dd192,#10d2af,#12cccb,#14c8de,#16c2e4,#18bee7,#1abaea,#1cb6ed,#1db2f0,#1faef3,#21a9f4,#23a5f4,#24a2f5,#25a0f5,#269df5,#279af5,#2898f5,#2997f5,#2997f5,#2997f5,#2997f5,#2997f5,#2997f5,#2997f5,#2997f5,#2997f5,#2997f5,#2997f5)"></i><i style="background:linear-gradient(90deg,#0cc862,#0cca67,#0cca69,#0ccb6b,#0ccc71,#0ccf7e,#0ed194,#10d2b2,#13ccce,#14c7e1,#17c1e5,#19bde8,#1abaea,#1cb6ed,#1eb1f0,#20adf3,#22a8f4,#23a4f4,#24a2f5,#259ff5,#269cf5,#289af5,#2898f5,#2997f5,#2997f5,#2997f5,#2997f5,#2997f5,#2997f5,#2997f5,#2997f5,#2997f5,#2997f5,#2997f5)"></i><i style="background:linear-gradient(90deg,#0cc963,#0cca69,#0ccb6b,#0ccb6e,#0ccd73,#0cd080,#0ed196,#10d1b4,#13cbd1,#15c6e1,#17c0e6,#19bde8,#1ab9eb,#1cb5ee,#1eb0f1,#20acf4,#22a7f4,#23a4f4,#24a1f5,#259ff5,#269cf5,#289af5,#2898f5,#2997f5,#2997f5,#2898f5,#2898f5,#2898f5,#2898f5,#2898f5,#2898f5,#2898f5,#2898f5,#2898f5)"></i><i style="background:linear-gradient(90deg,#0cc964,#0ccb6a,#0ccb6d,#0ccc70,#0ccd76,#0cd082,#0ed199,#11d1b6,#13cbd3,#15c5e2,#18c0e6,#19bce8,#1bb9eb,#1cb4ee,#1eb0f1,#20abf4,#22a7f4,#24a3f5,#24a1f5,#259ff5,#269df5,#279af5,#2898f5,#2898f5,#2898f5,#2898f5,#2898f5,#2898f5,#2898f5,#2898f5,#2898f5,#2898f5,#2899f5,#2898f5)"></i><i style="background:linear-gradient(90deg,#0cc963,#0ccb6b,#0ccc6f,#0ccd72,#0cce78,#0cd085,#0ed19b,#11d0b8,#13cbd4,#15c5e2,#18bfe6,#19bce9,#1bb8eb,#1db4ee,#1eb0f1,#20abf4,#22a7f4,#23a4f4,#24a1f5,#259ff5,#269df5,#279bf5,#2899f5,#2899f5,#2899f5,#2899f5,#2899f5,#2899f5,#2899f5,#2899f5,#2899f5,#289af5,#289af5,#289af5)"></i><i style="background:linear-gradient(90deg,#0cc963,#0ccb6c,#0ccc70,#0ccd74,#0ccf7b,#0dd087,#0ed19d,#11d0b9,#13cbd4,#15c5e2,#18bfe6,#19bce9,#1bb8eb,#1db4ee,#1eb0f1,#20acf4,#22a8f4,#23a4f4,#24a2f5,#25a0f5,#269ef5,#279cf5,#279af5,#279af5,#279af5,#279bf5,#279bf5,#279af5,#279af5,#279bf5,#279bf5,#279bf5,#279bf5,#279bf5)"></i><i style="background:linear-gradient(90deg,#0cc963,#0ccb6c,#0ccc71,#0ccd76,#0ccf7d,#0dd089,#0fd19e,#11d0b9,#13cbd3,#15c5e2,#18c0e6,#19bce8,#1bb8eb,#1db4ee,#1eb0f1,#20acf4,#21a9f4,#23a5f4,#24a3f5,#25a1f5,#259ff5,#269df5,#279cf5,#279bf5,#279cf5,#279cf5,#279cf5,#279cf5,#279cf5,#279cf5,#269cf5,#269cf5,#269df5,#269df5)"></i><i style="background:linear-gradient(90deg,#0cc963,#0ccb6d,#0ccd73,#0cce77,#0cd07e,#0dd08a,#0fd19e,#11d0b9,#13cbd2,#15c6e1,#17c0e5,#19bde8,#1bb9eb,#1cb4ee,#1eb0f1,#20adf3,#21aaf4,#22a7f4,#23a4f4,#24a2f5,#25a0f5,#269ff5,#269ef5,#269df5,#269ef5,#269ef5,#269ef5,#269ef5,#269ef5,#269ef5,#269ef5,#269ef5,#269ef5,#269ef5)"></i><i style="background:linear-gradient(90deg,#0cc964,#0ccb6e,#0ccd74,#0cce78,#0cd07f,#0dd08a,#0ed19e,#11d1b7,#13cbd0,#14c7e0,#17c1e5,#19bde8,#1ab9eb,#1cb5ee,#1eb1f0,#1faef3,#20abf4,#22a8f4,#23a5f4,#24a3f5,#24a1f5,#25a0f5,#25a0f5,#25a0f5,#25a0f5,#25a0f5,#25a0f5,#25a0f5,#25a0f5,#25a0f5,#259ff5,#259ff5,#259ff5,#259ff5)"></i><i style="background:linear-gradient(90deg,#0cc966,#0ccc6f,#0ccd74,#0cce78,#0cd07e,#0dd089,#0ed19c,#10d1b5,#12cccd,#14c8de,#16c3e4,#18bee7,#1abaea,#1cb6ed,#1db2ef,#1faff2,#20adf4,#21aaf4,#22a7f4,#23a5f4,#24a3f5,#24a2f5,#24a2f5,#24a2f5,#24a2f5,#24a2f5,#24a2f5,#24a2f5,#24a2f5,#24a2f5,#24a1f5,#25a1f5,#25a0f5,#25a0f5)"></i><i style="background:linear-gradient(90deg,#0cca68,#0ccc71,#0ccd75,#0cce78,#0ccf7d,#0dd087,#0ed199,#10d2b1,#12cdc9,#14c9db,#15c5e2,#18c0e6,#19bbe9,#1bb7ec,#1db4ee,#1eb1f1,#1faef3,#20abf4,#21a9f4,#22a6f4,#23a5f4,#23a5f4,#23a5f4,#23a5f4,#23a5f4,#23a5f4,#23a5f4,#23a5f4,#23a4f4,#23a4f4,#24a3f5,#24a2f5,#24a1f5,#25a1f5)"></i><i style="background:linear-gradient(90deg,#0ccb6a,#0ccd72,#0ccd76,#0cce78,#0ccf7c,#0cd086,#0ed197,#10d2ae,#12cec5,#13cad7,#15c7e1,#17c2e5,#19bde8,#1ab9eb,#1cb5ed,#1db2ef,#1eb0f1,#20adf3,#21abf4,#21a8f4,#22a7f4,#22a7f4,#22a7f4,#22a7f4,#22a7f4,#22a7f4,#22a7f4,#22a7f4,#22a7f4,#22a6f4,#23a5f4,#23a4f4,#24a3f5,#24a2f5)"></i><i style="background:linear-gradient(90deg,#0ccb6c,#0ccd73,#0ccd76,#0cce77,#0ccf7b,#0cd084,#0ed194,#10d2aa,#11cec1,#13cbd3,#14c8df,#16c4e3,#18bfe6,#1abbe9,#1bb7ec,#1cb4ee,#1eb2f0,#1faff2,#20adf4,#21abf4,#21aaf4,#21aaf4,#21aaf4,#21aaf4,#21aaf4,#21aaf4,#21aaf4,#21aaf4,#21aaf4,#21a9f4,#22a7f4,#23a6f4,#23a4f4,#23a4f4)"></i><i style="background:linear-gradient(90deg,#0ccb6d,#0ccd73,#0ccd75,#0cce77,#0ccf7a,#0cd082,#0ed192,#0fd2a7,#11cfbd,#13ccce,#14c9db,#15c6e2,#17c1e5,#19bde8,#1abaea,#1bb7ec,#1db4ef,#1eb1f1,#1faef2,#20adf3,#20acf4,#20acf4,#20adf4,#20adf4,#20adf4,#20adf4,#20adf3,#20adf3,#20acf4,#20abf4,#21aaf4,#22a8f4,#22a7f4,#23a6f4)"></i><i style="background:linear-gradient(90deg,#0ccb6c,#0ccc72,#0ccd74,#0ccd76,#0cce7a,#0cd082,#0dd191,#0fd2a5,#11d0b9,#12cdca,#13cad6,#14c8df,#16c4e3,#17c0e6,#19bce8,#1ab9eb,#1cb6ed,#1db3ef,#1eb1f1,#1faff2,#1faef2,#1faff2,#1faff2,#1faff2,#1faff2,#1faff2,#1faff2,#1faff2,#1faff2,#1faef3,#20acf4,#20abf4,#21aaf4,#21a9f4)"></i><i style="background:linear-gradient(90deg,#0ccb6b,#0ccc70,#0ccd73,#0ccd75,#0cce79,#0cd081,#0dd18f,#0fd1a2,#10d1b5,#12cec5,#13cbd1,#13c9da,#14c7e1,#16c3e3,#18bfe6,#19bce9,#1bb8eb,#1cb5ed,#1db3ef,#1eb1f0,#1eb1f0,#1eb1f0,#1eb1f0,#1eb1f0,#1eb1f0,#1eb1f0,#1eb2f0,#1db2f0,#1eb2f0,#1eb1f1,#1faff2,#1faef3,#20adf3,#20adf4)"></i><i style="background:linear-gradient(90deg,#0cca69,#0ccb6d,#0ccc70,#0ccd73,#0cce78,#0cd080,#0dd18e,#0fd19f,#10d2b1,#11cfbf,#12cccb,#13cbd4,#14c9db,#14c7e1,#16c3e4,#18bfe6,#19bce9,#1bb8eb,#1cb6ed,#1cb4ee,#1db4ee,#1db4ee,#1cb4ee,#1cb4ee,#1cb4ee,#1cb4ee,#1cb5ee,#1cb5ee,#1cb5ee,#1db4ef,#1db2ef,#1eb1f0,#1eb0f1,#1eb0f1)"></i><i style="background:linear-gradient(90deg,#0cca66,#0ccb6b,#0ccb6e,#0ccc71,#0cce76,#0cd07f,#0dd08b,#0ed19b,#10d2ab,#11d0b9,#12cec4,#12cccd,#13cbd4,#14c9db,#14c7e1,#16c3e3,#18bfe6,#19bce9,#1abaea,#1bb8eb,#1bb8ec,#1bb8ec,#1bb8eb,#1bb8eb,#1bb8ec,#1bb8ec,#1bb8eb,#1bb8eb,#1bb8eb,#1bb7ec,#1cb6ed,#1cb5ee,#1db4ef,#1db3ef)"></i><i style="background:linear-gradient(90deg,#0cc963,#0cca67,#0ccb6b,#0ccc6e,#0ccd73,#0ccf7b,#0dd087,#0ed195,#0fd1a4,#10d2b1,#11d0bb,#12cec4,#12cccc,#13cbd2,#13c9d9,#14c8e0,#16c4e3,#17c0e5,#18bee7,#19bde8,#19bce9,#19bce9,#19bce8,#19bce8,#19bce8,#19bce8,#19bce8,#19bce8,#19bce9,#1abbe9,#1abaea,#1bb9eb,#1bb8ec,#1bb7ec)"></i><i style="background:linear-gradient(90deg,#0cc861,#0cc964,#0cca67,#0ccb6a,#0ccc6f,#0cce76,#0cd080,#0dd18d,#0ed19b,#0fd2a7,#10d2b2,#11d0ba,#11cec2,#12cdc9,#13cbd0,#13cad7,#14c8de,#15c6e2,#16c3e3,#17c2e4,#17c1e5,#17c1e5,#17c2e5,#17c2e5,#17c2e4,#17c2e4,#17c2e5,#17c1e5,#17c1e5,#18c0e6,#18bee7,#19bde8,#19bce9,#1abaea)"></i><i style="background:linear-gradient(90deg,#0cc75d,#0cc860,#0cc962,#0cc965,#0cca69,#0ccc6f,#0cce78,#0cd084,#0dd191,#0ed19d,#0fd2a7,#10d2b0,#11d1b7,#11cfbe,#12cec5,#12cccd,#13cad4,#13c9da,#14c8de,#14c8e0,#14c7e0,#14c7e1,#14c8e0,#14c8e0,#14c8e0,#14c8e0,#14c7e0,#15c7e1,#15c6e2,#15c5e2,#16c3e3,#17c2e5,#18c0e6,#19bde8)"></i><i style="background:linear-gradient(90deg,#0cc659,#0cc75b,#0cc75c,#0cc85e,#0cc861,#0cca67,#0ccc6f,#0cce7a,#0cd086,#0dd191,#0ed19b,#0fd2a4,#10d2ac,#10d1b3,#11d0ba,#11cec2,#12cdc9,#13cccf,#13cbd3,#13cad5,#13cad6,#13cad6,#13cad6,#13cad5,#13cad5,#13cad5,#13cad7,#13cad9,#14c9db,#14c9dd,#14c8e0,#15c6e1,#16c4e3,#17c0e5)"></i><i style="background:linear-gradient(90deg,#0cc553,#0cc554,#0cc555,#0cc556,#0cc658,#0cc75d,#0cc965,#0ccc6f,#0ccf7a,#0cd086,#0dd190,#0ed199,#0fd1a1,#0fd2a8,#10d2af,#11d1b6,#11cfbe,#12cec3,#12cdc7,#12cdca,#12cccb,#12cccb,#12cdca,#12cdc9,#12cdc9,#12cdca,#12cccc,#13cccf,#13cbd2,#13cad4,#13cad7,#14c9db,#14c8e0,#16c3e3)"></i><i style="background:linear-gradient(90deg,#0dc34d,#0dc34d,#0dc34d,#0dc34d,#0cc44f,#0cc552,#0cc659,#0cc964,#0ccc6f,#0ccf7a,#0cd085,#0dd18e,#0ed196,#0ed19d,#0fd1a4,#10d2ab,#10d2b2,#11d0b8,#11d0bc,#11cfbe,#11cfbf,#11cfbf,#11cfbf,#11cfbe,#11cfbe,#11cfbf,#11cec2,#12cec6,#12cdc9,#12cccc,#13cbcf,#13cbd4,#13c9da,#15c7e1)"></i><i style="background:linear-gradient(90deg,#0fc146,#0fc146,#0fc146,#0fc146,#0fc147,#0ec24a,#0cc44f,#0cc659,#0cc964,#0ccc70,#0ccf7b,#0cd085,#0dd18c,#0ed193,#0ed199,#0fd1a0,#0fd2a7,#10d2ad,#10d2b1,#10d1b4,#10d1b5,#10d1b5,#10d1b4,#10d1b3,#10d1b4,#10d1b5,#11d0b9,#11cfbd,#11cfc1,#12cec4,#12cdc8,#12cccd,#13cbd4,#14c9dd)"></i><i style="background:linear-gradient(90deg,#12be3f,#12be3e,#12be3e,#12be3e,#11bf40,#10c043,#0fc148,#0cc44f,#0cc75b,#0cca67,#0ccd72,#0ccf7c,#0cd083,#0dd089,#0dd190,#0ed196,#0ed19d,#0fd1a3,#0fd2a7,#0fd2aa,#10d2ab,#10d2aa,#0fd2aa,#0fd2aa,#10d2ab,#10d2ad,#10d2b1,#10d1b5,#11d0b9,#11cfbd,#11cec2,#12cdc7,#13ccce,#13cad8)"></i><i style="background:linear-gradient(90deg,#15bb36,#15bb36,#15bb35,#15bb36,#14bc38,#13bd3c,#11bf42,#0ec249,#0cc552,#0cc85f,#0ccb6b,#0ccd74,#0ccf7b,#0cd081,#0dd087,#0dd18d,#0ed193,#0ed199,#0ed19e,#0fd1a1,#0fd1a2,#0fd1a1,#0fd1a0,#0fd1a1,#0fd1a3,#0fd2a6,#0fd2a9,#10d2ae,#10d2b2,#11d1b7,#11cfbc,#12cec2,#12cdca,#13cbd2)"></i><i style="background:linear-gradient(90deg,#18b931,#19b930,#19b930,#18b931,#17ba32,#15bb36,#13bd3c,#10c044,#0dc34d,#0cc659,#0cc964,#0ccb6d,#0ccd74,#0cce7a,#0cd07f,#0cd085,#0dd08b,#0dd191,#0ed195,#0ed198,#0ed199,#0ed198,#0ed198,#0ed199,#0ed19c,#0fd19f,#0fd1a3,#0fd2a7,#10d2ab,#10d2b1,#11d1b7,#11cfbe,#12cec5,#12cccd)"></i><i style="background:linear-gradient(90deg,#1db72e,#1db72d,#1db72d,#1cb72e,#1ab82f,#17ba32,#14bc38,#11bf41,#0ec24a,#0cc553,#0cc85f,#0cca68,#0ccc6e,#0ccd73,#0cce78,#0ccf7d,#0cd083,#0dd089,#0dd18d,#0dd190,#0dd191,#0dd190,#0dd190,#0dd192,#0ed195,#0ed199,#0ed19c,#0fd1a0,#0fd2a5,#10d2ab,#10d2b2,#11d0b9,#11cfc1,#12cdc8)"></i><i style="background:linear-gradient(90deg,#1fb62c,#20b62c,#20b62c,#1fb62d,#1cb72e,#19b930,#15bb36,#12be3e,#0fc148,#0cc450,#0cc75a,#0cc962,#0cca69,#0ccb6d,#0ccc72,#0cce77,#0ccf7c,#0cd081,#0cd086,#0dd088,#0dd089,#0dd088,#0dd089,#0dd08b,#0dd18f,#0ed193,#0ed196,#0ed19a,#0fd19f,#0fd2a5,#10d2ad,#10d1b5,#11cfbd,#12cec2)"></i><i style="background:linear-gradient(90deg,#1fb62c,#20b52c,#20b62c,#1fb62c,#1cb72e,#19b930,#15bb35,#12be3e,#0fc147,#0dc34e,#0cc657,#0cc75e,#0cc964,#0cca68,#0ccb6d,#0ccc72,#0cce77,#0ccf7b,#0cd07e,#0cd080,#0cd081,#0cd081,#0cd082,#0cd085,#0dd08a,#0dd18d,#0dd190,#0ed193,#0ed198,#0fd1a0,#0fd2a9,#10d2b1,#11d0b9,#11cfbe)"></i><i style="background:linear-gradient(90deg,#1eb72d,#1eb62d,#1eb62d,#1db72d,#1bb82f,#18b931,#15bb36,#12be3e,#0fc146,#0dc34d,#0cc554,#0cc75a,#0cc85f,#0cc964,#0cca68,#0ccb6d,#0ccc72,#0ccd75,#0cce77,#0cce79,#0cce79,#0ccf7a,#0ccf7d,#0cd080,#0cd084,#0dd088,#0dd08a,#0dd18d,#0ed192,#0ed19b,#0fd2a4,#10d2ad,#10d1b5,#11d0b9)"></i><i style="background:linear-gradient(90deg,#1bb82f,#1bb82f,#1bb82f,#1ab82f,#18b931,#16ba33,#14bc39,#11bf40,#0fc147,#0dc34d,#0cc451,#0cc657,#0cc75b,#0cc85f,#0cc964,#0cca69,#0ccb6d,#0ccc70,#0ccc71,#0ccc71,#0ccd72,#0ccd74,#0cce77,#0ccf7b,#0cd07f,#0cd082,#0cd084,#0dd087,#0dd18d,#0ed196,#0fd1a0,#10d2aa,#10d2b2,#10d1b5)"></i><i style="background:linear-gradient(90deg,#17ba32,#17ba31,#17ba31,#16ba32,#16ba33,#14bc37,#13bd3c,#11bf42,#0fc148,#0dc34c,#0cc450,#0cc553,#0cc657,#0cc75b,#0cc860,#0cc965,#0cca69,#0ccb6a,#0ccb6b,#0ccb6b,#0ccb6c,#0ccc6f,#0ccd73,#0cce77,#0ccf7a,#0ccf7d,#0cd07f,#0cd082,#0dd088,#0dd192,#0ed19d,#0fd2a7,#10d2af,#10d2b2)"></i><i style="background:linear-gradient(90deg,#14bc37,#15bb36,#15bb36,#14bc37,#14bc39,#13bd3b,#12be3f,#10c044,#0ec249,#0dc34c,#0cc44f,#0cc451,#0cc554,#0cc657,#0cc75c,#0cc860,#0cc963,#0cc965,#0cc964,#0cc964,#0cca66,#0cca6a,#0ccb6e,#0ccc72,#0ccd75,#0cce78,#0ccf7a,#0ccf7e,#0cd085,#0dd18f,#0ed19a,#0fd2a5,#10d2ad,#10d2b0)"></i><i style="background:linear-gradient(90deg,#13bd3c,#13bd3c,#13bd3c,#13bd3c,#12be3e,#11bf40,#10c043,#0fc146,#0ec24a,#0dc34c,#0dc34d,#0cc44f,#0cc450,#0cc553,#0cc657,#0cc75b,#0cc75e,#0cc85f,#0cc85e,#0cc85f,#0cc861,#0cc965,#0cca69,#0ccb6d,#0ccc71,#0ccd74,#0cce76,#0ccf7b,#0cd082,#0dd18d,#0ed199,#0fd1a4,#10d2ac,#10d2af)"></i><i style="background:linear-gradient(90deg,#11bf41,#11bf41,#11bf41,#11bf41,#11bf42,#10c044,#0fc146,#0fc148,#0ec24a,#0dc34c,#0dc34c,#0dc34d,#0dc34e,#0cc450,#0cc552,#0cc555,#0cc657,#0cc658,#0cc659,#0cc65a,#0cc75c,#0cc860,#0cc965,#0cca69,#0ccb6c,#0ccc70,#0ccd74,#0cce79,#0cd081,#0dd18d,#0ed199,#0fd1a4,#10d2ac,#10d2af)"></i><i style="background:linear-gradient(90deg,#0fc146,#0fc146,#0fc146,#0fc146,#0fc147,#0fc148,#0ec249,#0ec24a,#0ec24b,#0ec24b,#0dc34c,#0dc34c,#0dc34c,#0dc34e,#0cc44f,#0cc450,#0cc451,#0cc553,#0cc554,#0cc555,#0cc658,#0cc75c,#0cc861,#0cc965,#0cca69,#0ccb6d,#0ccc72,#0cce79,#0cd082,#0dd18d,#0ed199,#0fd1a4,#10d2ac,#10d2b0)"></i><i style="background:linear-gradient(90deg,#0ec24a,#0ec24a,#0ec24a,#0ec24a,#0ec24b,#0ec24b,#0dc34c,#0dc34c,#0dc34c,#0ec24b,#0ec24b,#0ec24b,#0ec24b,#0dc34c,#0dc34c,#0dc34d,#0dc34d,#0dc34e,#0cc450,#0cc552,#0cc555,#0cc659,#0cc75d,#0cc861,#0cc966,#0ccb6b,#0ccc71,#0cce79,#0cd083,#0dd18e,#0ed199,#0fd1a4,#10d2ac,#10d2b0)"></i><i style="background:linear-gradient(90deg,#0dc34e,#0dc34e,#0dc34e,#0dc34e,#0dc34e,#0cc44f,#0dc34e,#0dc34e,#0dc34d,#0dc34c,#0ec24b,#0ec24a,#0ec24a,#0ec24a,#0ec24b,#0ec24b,#0ec24b,#0dc34c,#0dc34e,#0cc450,#0cc553,#0cc657,#0cc75b,#0cc85f,#0cc964,#0cca6a,#0ccc71,#0ccf7a,#0cd084,#0dd18f,#0ed19a,#0fd1a4,#10d2ac,#10d2b0)"></i><i style="background:linear-gradient(90deg,#0cc552,#0cc452,#0cc452,#0cc552,#0cc552,#0cc452,#0cc451,#0cc44f,#0dc34e,#0dc34c,#0ec24b,#0ec24a,#0ec24a,#0ec24a,#0ec24a,#0ec249,#0ec249,#0ec24a,#0dc34c,#0cc44f,#0cc552,#0cc556,#0cc659,#0cc75e,#0cc963,#0cca6a,#0ccd72,#0ccf7c,#0dd086,#0dd190,#0ed19a,#0fd1a3,#10d2ab,#10d2b0)"></i><i style="background:linear-gradient(90deg,#0cc657,#0cc657,#0cc657,#0cc657,#0cc656,#0cc556,#0cc554,#0cc452,#0cc44f,#0dc34d,#0dc34c,#0ec24a,#0ec24a,#0ec24a,#0ec24a,#0ec249,#0ec249,#0ec24a,#0dc34c,#0cc44f,#0cc552,#0cc556,#0cc659,#0cc75e,#0cc963,#0ccb6b,#0ccd74,#0cd07e,#0dd088,#0dd192,#0ed19b,#0fd1a3,#0fd2a9,#10d2ae)"></i><i style="background:linear-gradient(90deg,#0cc75b,#0cc75b,#0cc75b,#0cc75a,#0cc65a,#0cc659,#0cc657,#0cc555,#0cc452,#0cc44f,#0dc34d,#0ec24b,#0ec24b,#0ec24b,#0ec24b,#0ec24a,#0ec249,#0ec24a,#0dc34d,#0cc450,#0cc553,#0cc657,#0cc75a,#0cc85f,#0cc965,#0ccb6d,#0cce77,#0cd081,#0dd08b,#0ed193,#0ed19b,#0fd1a1,#0fd2a7,#10d2ac)"></i><i style="background:linear-gradient(90deg,#0cc75e,#0cc85e,#0cc85e,#0cc75e,#0cc75c,#0cc75b,#0cc659,#0cc657,#0cc555,#0cc451,#0dc34e,#0dc34c,#0dc34c,#0dc34c,#0dc34c,#0ec24b,#0ec24b,#0dc34c,#0dc34e,#0cc452,#0cc555,#0cc659,#0cc75c,#0cc861,#0cca68,#0ccc70,#0ccf7a,#0cd084,#0dd18d,#0ed195,#0ed19b,#0fd1a0,#0fd2a5,#0fd2aa)"></i><i style="background:linear-gradient(90deg,#0cc861,#0cc862,#0cc861,#0cc860,#0cc85f,#0cc75d,#0cc75c,#0cc75a,#0cc658,#0cc554,#0cc450,#0dc34e,#0dc34e,#0dc34e,#0dc34e,#0dc34d,#0dc34d,#0dc34e,#0cc451,#0cc555,#0cc658,#0cc75c,#0cc85f,#0cc965,#0ccb6c,#0ccd74,#0ccf7e,#0dd087,#0dd190,#0ed196,#0ed19b,#0fd1a0,#0fd1a4,#0fd2a8)"></i><i style="background:linear-gradient(90deg,#0cc963,#0cc964,#0cc964,#0cc963,#0cc861,#0cc85f,#0cc75e,#0cc75c,#0cc75a,#0cc657,#0cc553,#0cc450,#0cc450,#0cc450,#0cc450,#0cc450,#0cc450,#0cc451,#0cc555,#0cc659,#0cc75c,#0cc85f,#0cc963,#0cca69,#0ccc70,#0cce79,#0cd082,#0dd08b,#0dd192,#0ed198,#0ed19c,#0fd19f,#0fd1a3,#0fd2a6)"></i><i style="background:linear-gradient(90deg,#0cc966,#0cca67,#0cca66,#0cc965,#0cc963,#0cc861,#0cc860,#0cc85f,#0cc75d,#0cc65a,#0cc656,#0cc554,#0cc553,#0cc553,#0cc554,#0cc554,#0cc554,#0cc656,#0cc65a,#0cc75e,#0cc861,#0cc964,#0cca68,#0ccc6e,#0ccd76,#0ccf7e,#0dd086,#0dd18e,#0ed194,#0ed199,#0ed19d,#0fd1a0,#0fd1a3,#0fd2a6)"></i><i style="background:linear-gradient(90deg,#0cca68,#0cca69,#0cca68,#0cca67,#0cc965,#0cc963,#0cc862,#0cc860,#0cc85f,#0cc75c,#0cc65a,#0cc657,#0cc657,#0cc657,#0cc657,#0cc658,#0cc65a,#0cc75c,#0cc860,#0cc963,#0cca66,#0cca69,#0ccb6e,#0ccd74,#0ccf7c,#0cd083,#0dd08b,#0dd191,#0ed196,#0ed19b,#0fd19f,#0fd1a2,#0fd2a4,#0fd2a6)"></i><i style="background:linear-gradient(90deg,#0cca69,#0ccb6a,#0ccb6a,#0cca69,#0cca67,#0cc965,#0cc963,#0cc862,#0cc860,#0cc85f,#0cc75d,#0cc75b,#0cc75a,#0cc75a,#0cc75b,#0cc75c,#0cc85f,#0cc862,#0cc965,#0cca69,#0ccb6c,#0ccc6f,#0ccd73,#0cce7a,#0cd082,#0dd089,#0dd18f,#0ed194,#0ed199,#0ed19d,#0fd1a1,#0fd1a4,#0fd2a6,#0fd2a7)"></i><i style="background:linear-gradient(90deg,#0ccb6b,#0ccb6c,#0ccb6c,#0ccb6b,#0cca69,#0cca67,#0cc965,#0cc963,#0cc862,#0cc861,#0cc860,#0cc85f,#0cc85e,#0cc75e,#0cc85f,#0cc861,#0cc964,#0cca68,#0ccb6b,#0ccc6f,#0ccc71,#0ccd74,#0cce79,#0cd080,#0dd087,#0dd18e,#0ed193,#0ed197,#0ed19b,#0fd19f,#0fd1a3,#0fd2a6,#0fd2a8,#0fd2a9)"></i><i style="background:linear-gradient(90deg,#0ccb6c,#0ccb6d,#0ccb6d,#0ccb6c,#0ccb6a,#0cca69,#0cca66,#0cc964,#0cc963,#0cc962,#0cc962,#0cc962,#0cc862,#0cc861,#0cc962,#0cc965,#0cca69,#0ccb6d,#0ccc71,#0ccd74,#0cce77,#0cce7a,#0cd07e,#0cd085,#0dd18d,#0ed193,#0ed197,#0ed19a,#0ed19e,#0fd1a1,#0fd2a5,#0fd2a8,#10d2aa,#10d2ab)"></i><i style="background:linear-gradient(90deg,#0ccb6e,#0ccc6e,#0ccc6e,#0ccb6d,#0ccb6c,#0cca6a,#0cca68,#0cc966,#0cc964,#0cc964,#0cc964,#0cc965,#0cc965,#0cc965,#0cca66,#0cca6a,#0ccb6e,#0ccc72,#0ccd76,#0cce79,#0ccf7c,#0cd07f,#0cd083,#0dd08a,#0dd191,#0ed197,#0ed19b,#0ed19d,#0fd1a0,#0fd1a4,#0fd2a7,#10d2aa,#10d2ac,#10d2ac)"></i><i style="background:linear-gradient(90deg,#0ccc6f,#0ccc6f,#0ccc6f,#0ccc6f,#0ccb6d,#0ccb6b,#0cca69,#0cca67,#0cc965,#0cc965,#0cca66,#0cca67,#0cca68,#0cca68,#0ccb6a,#0ccb6e,#0ccd72,#0cce76,#0cce7a,#0ccf7d,#0cd080,#0cd083,#0dd087,#0dd18e,#0ed195,#0ed19a,#0fd19e,#0fd1a0,#0fd1a3,#0fd2a6,#0fd2a9,#10d2ac,#10d2ae,#10d2ae)"></i><i style="background:linear-gradient(90deg,#0ccc70,#0ccc70,#0ccc70,#0ccc70,#0ccc6e,#0ccb6c,#0cca6a,#0cca68,#0cca66,#0cca66,#0cca67,#0cca69,#0ccb6a,#0ccb6c,#0ccc6e,#0ccc72,#0ccd76,#0cce7a,#0ccf7e,#0cd081,#0cd084,#0dd087,#0dd08b,#0dd191,#0ed198,#0ed19d,#0fd1a1,#0fd1a3,#0fd2a6,#0fd2a9,#10d2ab,#10d2ad,#10d2af,#10d2b0)"></i><i style="background:linear-gradient(90deg,#0ccc71,#0ccc71,#0ccc71,#0ccc70,#0ccc6f,#0ccb6d,#0ccb6b,#0cca68,#0cca67,#0cca67,#0cca68,#0ccb6a,#0ccb6d,#0ccc6f,#0ccc72,#0ccd75,#0cce79,#0ccf7d,#0cd081,#0cd084,#0dd087,#0dd08a,#0dd18f,#0ed194,#0ed19a,#0fd19f,#0fd1a3,#0fd2a6,#0fd2a9,#10d2ab,#10d2ad,#10d2af,#10d2b1,#10d2b2)"></i><i style="background:linear-gradient(90deg,#0ccc71,#0ccc72,#0ccc72,#0ccc71,#0ccc70,#0ccb6e,#0ccb6b,#0cca69,#0cca68,#0cca68,#0cca69,#0ccb6c,#0ccc6f,#0ccc72,#0ccd75,#0cce79,#0ccf7c,#0cd080,#0cd084,#0dd087,#0dd08a,#0dd18d,#0dd191,#0ed197,#0ed19c,#0fd1a1,#0fd2a5,#0fd2a8,#10d2ab,#10d2ad,#10d2af,#10d2b0,#10d2b2,#10d1b4)"></i><i style="background:linear-gradient(90deg,#0ccc72,#0ccd72,#0ccd72,#0ccc71,#0ccc70,#0ccc6e,#0ccb6c,#0cca6a,#0cca68,#0cca69,#0ccb6a,#0ccb6d,#0ccc71,#0ccd74,#0cce78,#0ccf7c,#0cd07f,#0cd082,#0dd086,#0dd089,#0dd18d,#0dd190,#0ed194,#0ed199,#0fd19e,#0fd1a3,#0fd2a7,#10d2aa,#10d2ad,#10d2af,#10d2b0,#10d2b1,#10d1b3,#10d1b5)"></i><i style="background:linear-gradient(90deg,#0ccc72,#0ccd73,#0ccd73,#0ccc72,#0ccc70,#0ccc6e,#0ccb6c,#0ccb6a,#0cca69,#0cca6a,#0ccb6c,#0ccc6f,#0ccd73,#0cce77,#0ccf7a,#0ccf7e,#0cd081,#0cd085,#0dd088,#0dd08c,#0dd18f,#0ed192,#0ed196,#0ed19b,#0fd1a0,#0fd2a5,#0fd2a9,#10d2ac,#10d2ae,#10d2b0,#10d2b1,#10d1b3,#10d1b4,#11d1b6)"></i><i style="background:linear-gradient(90deg,#0ccd72,#0ccd73,#0ccd73,#0ccc72,#0ccc70,#0ccc6e,#0ccb6c,#0ccb6a,#0cca6a,#0ccb6b,#0ccb6d,#0ccc71,#0ccd75,#0cce79,#0ccf7c,#0cd080,#0cd083,#0dd086,#0dd08a,#0dd18e,#0dd191,#0ed194,#0ed198,#0ed19d,#0fd1a2,#0fd2a7,#10d2ab,#10d2ad,#10d2af,#10d2b1,#10d2b2,#10d1b4,#10d1b5,#11d0b7)"></i><i style="background:linear-gradient(90deg,#0ccc72,#0ccd73,#0ccd73,#0ccc72,#0ccc70,#0ccc6e,#0ccb6c,#0ccb6b,#0ccb6a,#0ccb6c,#0ccc6f,#0ccd72,#0cce76,#0ccf7a,#0cd07e,#0cd081,#0cd085,#0dd088,#0dd08c,#0dd18f,#0ed192,#0ed196,#0ed19a,#0fd19f,#0fd2a4,#0fd2a9,#10d2ac,#10d2ae,#10d2b0,#10d2b1,#10d1b3,#10d1b4,#11d1b6,#11d0b8)"></i><i style="background:linear-gradient(90deg,#0ccc72,#0ccd73,#0ccd73,#0ccc71,#0ccc70,#0ccb6e,#0ccb6c,#0ccb6b,#0ccb6b,#0ccb6d,#0ccc70,#0ccd74,#0cce78,#0ccf7c,#0cd07f,#0cd083,#0dd086,#0dd08a,#0dd18d,#0dd191,#0ed194,#0ed197,#0ed19b,#0fd1a0,#0fd2a6,#10d2aa,#10d2ad,#10d2af,#10d2b0,#10d2b2,#10d1b4,#10d1b5,#11d1b7,#11d0b9)"></i><i style="background:linear-gradient(90deg,#0ccc72,#0ccd73,#0ccd72,#0ccc71,#0ccc6f,#0ccb6e,#0ccb6c,#0ccb6c,#0ccb6c,#0ccc6f,#0ccd72,#0cce76,#0cce7a,#0ccf7d,#0cd081,#0cd084,#0dd088,#0dd08b,#0dd18f,#0ed192,#0ed195,#0ed199,#0ed19d,#0fd1a2,#0fd2a8,#10d2ac,#10d2ae,#10d2af,#10d2b1,#10d2b2,#10d1b4,#11d1b6,#11d0b8,#11d0ba)"></i><i style="background:linear-gradient(90deg,#0ccc71,#0ccd73,#0ccd72,#0ccc71,#0ccc6f,#0ccb6d,#0ccb6c,#0ccb6c,#0ccb6d,#0ccc70,#0ccd74,#0cce78,#0ccf7c,#0cd07f,#0cd082,#0cd085,#0dd089,#0dd18d,#0dd190,#0ed194,#0ed197,#0ed19a,#0fd19e,#0fd1a4,#0fd2a9,#10d2ad,#10d2af,#10d2b0,#10d2b1,#10d1b3,#10d1b5,#11d1b7,#11d0b9,#11d0ba)"></i><i style="background:linear-gradient(90deg,#0ccc71,#0ccd73,#0ccd72,#0ccc71,#0ccc6f,#0ccb6d,#0ccb6c,#0ccb6d,#0ccc6f,#0ccd72,#0cce76,#0ccf7a,#0ccf7d,#0cd080,#0cd083,#0dd087,#0dd08b,#0dd18e,#0dd192,#0ed195,#0ed198,#0ed19c,#0fd1a0,#0fd2a5,#10d2ab,#10d2ae,#10d2b0,#10d2b1,#10d2b1,#10d1b3,#10d1b6,#11d0b8,#11d0ba,#11d0bb)"></i><i style="background:linear-gradient(90deg,#0ccc71,#0ccd73,#0ccd72,#0ccc71,#0ccc6f,#0ccb6d,#0ccb6c,#0ccb6e,#0ccc70,#0ccd74,#0cce78,#0ccf7c,#0cd07f,#0cd082,#0cd085,#0dd089,#0dd18c,#0dd190,#0ed194,#0ed197,#0ed19a,#0ed19d,#0fd1a1,#0fd2a7,#10d2ac,#10d2af,#10d2b1,#10d2b1,#10d2b2,#10d1b4,#11d1b6,#11d0b9,#11d0bb,#11d0bc)"></i><i style="background:linear-gradient(90deg,#0ccc71,#0ccd73,#0ccd73,#0ccc71,#0ccc6e,#0ccb6d,#0ccb6d,#0ccc6f,#0ccd72,#0ccd76,#0cce7a,#0ccf7e,#0cd081,#0cd084,#0dd087,#0dd08a,#0dd18e,#0dd192,#0ed195,#0ed199,#0ed19c,#0fd19f,#0fd1a3,#0fd2a8,#10d2ad,#10d2b0,#10d2b2,#10d2b2,#10d1b3,#10d1b5,#11d0b7,#11d0ba,#11d0bc,#11cfbd)"></i><i style="background:linear-gradient(90deg,#0ccc71,#0ccd74,#0ccd73,#0ccc71,#0ccc6e,#0ccb6d,#0ccb6d,#0ccc70,#0ccd74,#0cce78,#0ccf7c,#0cd07f,#0cd083,#0cd086,#0dd089,#0dd18d,#0dd190,#0ed194,#0ed197,#0ed19b,#0fd19e,#0fd1a2,#0fd2a5,#0fd2aa,#10d2ae,#10d2b1,#10d2b2,#10d1b3,#10d1b5,#11d1b7,#11d0b9,#11d0bb,#11cfbc,#11cfbe)"></i></div>
<div class="f" style="left:31.3px;top:244.8px;width:198.2px;height:171.9px"><i style="background:linear-gradient(90deg,#43b21f,#42b21f,#43b21f,#44b21f,#42b21f,#39b121,#29b126,#18b931,#10c045,#0cc657,#0cc965,#0ccb6c,#0ccc70,#0cce77,#0dd087,#0ed19c,#10d2b2,#11cfbf,#12cec5,#13cbd0,#14c9dc,#14c9dd,#13cad8,#13cad5,#13cbd3,#13cbd3,#13cbd4,#13cad8,#14c9dd,#14c7e1,#15c5e2,#15c5e2,#14c7e1,#13cad8)"></i><i style="background:linear-gradient(90deg,#44b21f,#43b21f,#45b21f,#47b21e,#44b21f,#3ab121,#29b126,#18b931,#10c044,#0cc656,#0cc964,#0ccb6a,#0ccc6e,#0cce76,#0dd087,#0ed19e,#10d1b4,#11cfc0,#12cdc6,#13cbd1,#14c8de,#14c8e0,#14c9db,#13cad8,#13cad6,#13cad6,#13cad6,#13cad9,#14c9dc,#14c8df,#14c7e1,#15c6e1,#14c7e0,#14c9dc)"></i><i style="background:linear-gradient(90deg,#46b21e,#44b21f,#47b21e,#49b21e,#46b21e,#3bb121,#2ab125,#19b930,#10c043,#0cc555,#0cc963,#0cca69,#0ccb6d,#0ccd76,#0dd087,#0fd19e,#10d1b4,#11cfc0,#12cdc6,#13cbd2,#14c8df,#14c7e0,#14c9dd,#14c9da,#13c9d9,#13c9d9,#13c9d9,#14c9da,#14c9dd,#14c8df,#14c7e0,#15c7e1,#14c7e1,#14c8e0)"></i><i style="background:linear-gradient(90deg,#49b21e,#47b21e,#4ab21e,#4db31e,#48b21e,#3db120,#2bb025,#1ab830,#11bf42,#0cc553,#0cc860,#0cca67,#0ccb6b,#0ccd75,#0dd087,#0ed19e,#10d1b3,#11cfc0,#12cdc7,#13cbd3,#14c8df,#14c7e1,#14c8de,#14c9dc,#14c9dc,#14c9dc,#14c9dc,#14c9dd,#14c8de,#14c8e0,#14c7e1,#15c6e1,#15c6e2,#15c6e1)"></i><i style="background:linear-gradient(90deg,#4eb31e,#4ab21e,#4eb31e,#51b41e,#4bb31e,#3eb120,#2cb024,#1bb82f,#11bf41,#0cc450,#0cc75e,#0cc965,#0ccb6a,#0ccd74,#0cd086,#0ed19c,#10d2b2,#11cfc0,#12cdc8,#13cbd4,#14c8df,#14c7e1,#14c8df,#14c8de,#14c8de,#14c8de,#14c8de,#14c8df,#14c8e0,#14c7e1,#15c6e2,#15c5e2,#16c4e3,#16c4e3)"></i><i style="background:linear-gradient(90deg,#52b41e,#4fb41e,#53b41e,#55b51d,#4eb31e,#40b120,#2db024,#1cb72e,#12be3f,#0dc34e,#0cc75b,#0cc963,#0cca6a,#0ccd74,#0cd085,#0ed19b,#10d2b1,#11cfc0,#12cdca,#13cad5,#14c8df,#14c7e1,#14c8e0,#14c8e0,#14c8e0,#14c8e0,#14c8e0,#14c7e1,#15c6e1,#15c5e2,#16c4e3,#16c3e3,#16c3e4,#16c2e4)"></i><i style="background:linear-gradient(90deg,#57b51d,#55b51d,#57b51d,#59b51d,#51b41e,#42b21f,#2fb023,#1cb72e,#12be3d,#0dc34c,#0cc658,#0cc861,#0cca69,#0ccd73,#0cd083,#0ed198,#10d2af,#11cfc0,#12cccb,#13cad6,#14c8df,#14c7e1,#14c7e0,#14c7e1,#15c7e1,#15c7e1,#15c6e1,#15c6e2,#15c5e2,#16c4e3,#16c2e4,#17c1e5,#17c1e5,#17c0e5)"></i><i style="background:linear-gradient(90deg,#5bb61d,#59b61d,#5cb61d,#5cb61d,#53b41e,#43b21f,#30b023,#1db72d,#13bd3c,#0ec249,#0cc554,#0cc85f,#0cca68,#0ccd73,#0cd082,#0ed196,#10d2ad,#11cfc0,#12cccd,#13cad7,#14c8df,#14c7e1,#15c7e1,#15c6e1,#15c6e2,#15c6e2,#15c5e2,#16c4e3,#16c3e4,#17c2e5,#17c0e5,#18bfe6,#18bfe7,#18bfe6)"></i><i style="background:linear-gradient(90deg,#5fb71d,#5eb71d,#5fb71d,#5eb71d,#55b51d,#44b21f,#31b023,#1eb62d,#13bd3a,#0fc147,#0cc451,#0cc75d,#0cca68,#0ccd73,#0cd081,#0ed194,#10d2ab,#11cfbf,#13ccce,#13cad9,#14c8df,#15c7e1,#15c6e2,#15c5e2,#15c5e2,#15c5e2,#16c4e3,#16c3e4,#17c2e5,#17c0e6,#18bee7,#19bde8,#19bde8,#18bee7)"></i><i style="background:linear-gradient(90deg,#62b71d,#62b71d,#62b71d,#60b71d,#57b51d,#45b21f,#32b023,#1fb62c,#14bc39,#10c045,#0cc44f,#0cc75c,#0cca68,#0ccd73,#0cd080,#0dd192,#0fd2a9,#11cfbf,#13cbd0,#14c9db,#14c8e0,#15c6e2,#15c5e2,#16c4e3,#16c4e3,#16c4e3,#16c3e3,#17c2e4,#17c0e6,#18bee7,#19bde8,#19bce9,#19bce9,#19bde8)"></i><i style="background:linear-gradient(90deg,#64b81d,#64b81d,#64b81d,#61b71d,#57b51d,#45b21f,#32b023,#1fb62c,#14bc37,#10c043,#0dc34d,#0cc65a,#0cca68,#0ccd73,#0cd07f,#0dd191,#0fd2a9,#11cfc0,#13cbd1,#14c9dd,#15c6e1,#16c4e3,#16c3e4,#16c3e4,#16c3e4,#16c3e4,#16c2e4,#17c1e5,#18bfe6,#19bde8,#19bce9,#1abbe9,#19bbe9,#19bde8)"></i><i style="background:linear-gradient(90deg,#65b81d,#66b81d,#65b81d,#61b71d,#57b51d,#45b21f,#32b023,#20b62c,#15bb36,#11bf41,#0ec24b,#0cc658,#0cca67,#0ccd74,#0cd07f,#0dd190,#0fd2a9,#11cfc0,#13cbd3,#14c8df,#16c4e3,#17c2e5,#17c1e5,#17c1e5,#17c2e5,#17c2e4,#17c2e5,#17c1e5,#18bfe7,#19bde8,#19bce9,#1abbe9,#19bbe9,#19bde8)"></i><i style="background:linear-gradient(90deg,#65b81d,#66b81d,#65b81d,#60b71d,#55b51d,#44b21f,#32b023,#20b52c,#15bb35,#11bf40,#0ec24a,#0cc657,#0cca67,#0ccd74,#0cd07f,#0dd190,#0fd2a9,#11cec1,#13cad4,#15c7e1,#17c1e5,#18bee7,#18bee7,#18bfe6,#17c1e5,#17c1e5,#17c1e5,#17c0e6,#18bfe7,#19bde8,#19bce8,#19bce9,#19bce9,#19bde8)"></i><i style="background:linear-gradient(90deg,#64b81d,#64b81d,#63b81d,#5fb71d,#54b41e,#43b21f,#31b023,#20b52c,#15bb34,#12be3e,#0fc148,#0cc555,#0cca66,#0ccd74,#0cd07f,#0dd190,#10d2aa,#12cec2,#13cad5,#15c5e2,#18bee7,#1abbe9,#19bbe9,#19bde8,#18bfe6,#17c1e5,#17c1e5,#17c0e6,#18bfe6,#18bee7,#19bde8,#19bce8,#19bde8,#18bee7)"></i><i style="background:linear-gradient(90deg,#61b71d,#62b71d,#61b71d,#5cb61d,#51b41e,#42b21f,#30b023,#20b62c,#15bb34,#12be3d,#0fc147,#0cc554,#0cc965,#0ccd73,#0cd07f,#0dd191,#10d2ab,#12cec3,#13cad7,#16c3e4,#1abaea,#1bb7ec,#1bb8eb,#19bbe9,#18bee7,#18c0e6,#17c0e5,#17c0e6,#18c0e6,#18bfe7,#18bee7,#18bee7,#18bee7,#18bfe7)"></i><i style="background:linear-gradient(90deg,#5eb71d,#5eb71d,#5eb71d,#5ab61d,#4fb31e,#40b120,#2fb023,#1fb62c,#15bb34,#12be3d,#0fc146,#0cc451,#0cc962,#0ccc71,#0cd07e,#0dd191,#10d2ac,#12cec5,#13cad8,#17c1e5,#1bb7ec,#1db4ee,#1cb6ed,#1ab9ea,#19bde8,#18bfe6,#17c0e6,#17c0e5,#17c0e6,#18bfe6,#18bfe7,#18bee7,#18bfe7,#18bfe6)"></i><i style="background:linear-gradient(90deg,#59b61d,#59b61d,#59b61d,#56b51d,#4cb31e,#3fb120,#2db024,#1eb62d,#15bb35,#12be3d,#10c045,#0cc44f,#0cc85f,#0ccb6e,#0ccf7c,#0dd191,#10d2ad,#12cec5,#13c9da,#18bfe6,#1cb4ee,#1eb1f0,#1db4ef,#1bb8ec,#19bce9,#18bee7,#18c0e6,#17c0e5,#17c0e5,#17c0e6,#18bfe6,#18bfe6,#18bfe6,#18c0e6)"></i><i style="background:linear-gradient(90deg,#54b51d,#53b41e,#54b51d,#53b41e,#49b21e,#3db120,#2bb024,#1cb72e,#15bb36,#12be3d,#10c044,#0dc34e,#0cc75a,#0cca69,#0ccf7a,#0dd191,#10d2ad,#12cdc6,#14c9dc,#19bde8,#1db2f0,#1faff2,#1db2f0,#1cb6ed,#1abbea,#18bee7,#18c0e6,#17c0e5,#17c0e5,#17c0e6,#18c0e6,#18bfe6,#18bfe6,#17c0e6)"></i><i style="background:linear-gradient(90deg,#4fb41e,#4db31e,#50b41e,#4fb41e,#47b21e,#3cb121,#2ab125,#1bb82f,#14bc38,#12be3d,#10c043,#0dc34c,#0cc556,#0cc964,#0cce77,#0dd190,#10d2ac,#12cdc7,#14c9de,#19bce9,#1eb1f1,#1faef3,#1eb1f1,#1cb5ed,#1abaea,#19bde8,#18bfe6,#17c0e5,#17c0e5,#17c0e6,#18bfe6,#18bfe6,#18bfe6,#17c0e6)"></i><i style="background:linear-gradient(90deg,#4bb31e,#49b21e,#4cb31e,#4db31e,#46b21e,#3bb121,#29b126,#19b930,#14bc39,#12be3d,#10c043,#0ec24a,#0cc451,#0cc85f,#0ccd74,#0dd18f,#10d2ac,#12cdc7,#14c8df,#1abaea,#1faff2,#20adf3,#1eb0f1,#1cb4ee,#1bb9eb,#19bce8,#18bfe6,#17c0e5,#17c0e5,#17c0e6,#18bfe6,#18bfe7,#18bfe7,#18c0e6)"></i><i style="background:linear-gradient(90deg,#48b21e,#47b21e,#49b21e,#4bb31e,#46b21e,#3ab121,#28b226,#18b931,#13bd3a,#12be3d,#11bf42,#0fc148,#0dc34e,#0cc75b,#0ccd72,#0dd18f,#10d2ac,#12cdc7,#14c8e0,#1ab9ea,#1faff2,#20adf4,#1eb0f1,#1db4ee,#1bb8eb,#19bce8,#18bfe6,#17c0e5,#17c1e5,#18c0e6,#18bfe6,#18bee7,#18bee7,#18c0e6)"></i><i style="background:linear-gradient(90deg,#48b21e,#46b21e,#49b21e,#4bb31e,#46b21e,#3ab121,#28b226,#18b931,#13bd3b,#12be3e,#11bf41,#0fc147,#0dc34c,#0cc658,#0ccc71,#0dd18f,#10d2ac,#12cdc7,#14c7e0,#1ab9eb,#1faff2,#20adf4,#1eb0f1,#1db4ee,#1bb8eb,#19bce8,#18bfe6,#17c1e5,#17c1e5,#17c0e6,#18bfe7,#18bee7,#18bee7,#18c0e6)"></i><i style="background:linear-gradient(90deg,#4ab31e,#48b21e,#4bb31e,#4cb31e,#47b21e,#3bb121,#29b126,#18b930,#13bd3b,#12be3e,#11bf41,#0fc146,#0ec24b,#0cc657,#0ccc71,#0dd18f,#10d2ac,#12cdc7,#14c7e0,#1ab9eb,#1faff2,#20adf3,#1eb0f1,#1db4ee,#1bb8eb,#19bce8,#18c0e6,#17c1e5,#17c1e5,#17c0e5,#18bfe6,#18bee7,#18bee7,#18c0e6)"></i><i style="background:linear-gradient(90deg,#4fb31e,#4db31e,#4fb41e,#4fb41e,#48b21e,#3db120,#2bb125,#1ab830,#13bd3a,#12be3d,#11bf41,#0fc146,#0ec24b,#0cc658,#0ccd72,#0dd190,#10d2ad,#12cdc7,#14c8e0,#1abaea,#1eb0f1,#1faef3,#1eb1f0,#1cb5ee,#1bb9eb,#19bde8,#17c0e5,#17c2e4,#17c2e4,#17c1e5,#17c0e6,#18bfe6,#18bfe6,#17c0e6)"></i><i style="background:linear-gradient(90deg,#55b51d,#54b51d,#55b51d,#53b41e,#4bb31e,#40b120,#2db024,#1cb72e,#14bc37,#13bd3c,#11bf41,#0fc146,#0dc34c,#0cc65a,#0ccd74,#0dd191,#10d2ad,#12cdc7,#14c8e0,#1abaea,#1eb0f1,#1faef2,#1eb2f0,#1cb5ed,#1ab9eb,#18bee7,#17c1e5,#16c3e4,#16c3e4,#17c2e4,#17c1e5,#17c0e6,#17c0e6,#17c1e5)"></i><i style="background:linear-gradient(90deg,#5cb61d,#5cb61d,#5cb61d,#58b51d,#50b41e,#43b21f,#31b023,#1fb62c,#15bb34,#13bd3b,#11bf40,#10c045,#0dc34c,#0cc75b,#0ccd76,#0ed192,#10d2ad,#12cdc7,#14c8df,#19bbe9,#1eb1f0,#1faff2,#1db2ef,#1cb6ed,#1abaea,#18bee7,#17c2e5,#16c3e3,#16c4e3,#16c3e3,#16c2e4,#17c2e4,#17c2e5,#16c2e4)"></i><i style="background:linear-gradient(90deg,#65b81d,#66b81d,#65b81d,#60b71d,#58b51d,#48b21e,#37b122,#23b42a,#17b931,#14bc38,#12be3e,#10c044,#0dc34c,#0cc75d,#0cce77,#0ed193,#10d2ad,#12cdc6,#14c9dd,#19bce8,#1db2f0,#1eb0f1,#1db3ef,#1bb7ec,#1abbea,#18bfe7,#17c2e4,#16c4e3,#15c5e2,#15c5e2,#16c4e3,#16c4e3,#16c4e3,#16c4e3)"></i><i style="background:linear-gradient(90deg,#73bb1c,#74bb1c,#72bb1c,#6eba1c,#66b81d,#57b51d,#3fb120,#28b226,#1bb82f,#15bb34,#13bd3c,#10c043,#0dc34c,#0cc75d,#0cce77,#0ed192,#10d2ad,#12cec5,#14c9dd,#19bde8,#1db3ef,#1eb1f1,#1db4ef,#1bb7ec,#1abbe9,#18bfe6,#16c2e4,#15c5e2,#15c6e1,#15c6e1,#15c6e1,#15c6e1,#15c6e1,#14c7e1)"></i><i style="background:linear-gradient(90deg,#8dc019,#8ec019,#8cc019,#88bf1a,#80be1b,#6fba1c,#4cb31e,#30b023,#20b52c,#18b931,#14bc38,#11bf41,#0ec24b,#0cc75d,#0cce76,#0dd191,#10d2ab,#12cec4,#14c9dc,#19bde8,#1db4ee,#1eb2f0,#1db4ee,#1bb7ec,#1abbe9,#18bfe6,#16c3e4,#15c5e2,#14c7e1,#14c8df,#14c8de,#14c8de,#14c9dd,#14c9dc)"></i><i style="background:linear-gradient(90deg,#b6c914,#b7c914,#b6c814,#b3c814,#acc615,#98c218,#69b91d,#3bb121,#26b328,#1cb72e,#15bb34,#12be3f,#0ec24a,#0cc75b,#0ccd75,#0dd18f,#0fd2a9,#12cec3,#14c9db,#18bee7,#1cb5ee,#1db2ef,#1cb5ee,#1bb8ec,#1abbe9,#18bfe6,#16c3e3,#15c6e1,#14c8df,#14c9dc,#13c9d9,#13cad8,#13cad7,#13cad6)"></i><i style="background:linear-gradient(90deg,#e5d414,#e5d414,#e5d414,#e3d314,#dfd214,#ccce14,#92c118,#49b21e,#2bb024,#20b62c,#17b931,#13bd3c,#0fc148,#0cc659,#0ccd73,#0dd18d,#0fd2a7,#11cec1,#14c9da,#18bee7,#1cb6ed,#1db3ef,#1cb5ed,#1bb8eb,#19bce9,#18c0e6,#16c4e3,#14c8e0,#14c9dc,#13cad7,#13cad4,#13cbd2,#13cbd0,#13cbcf)"></i><i style="background:linear-gradient(90deg,#fac80c,#fac80c,#fac80c,#fac80c,#fac90c,#f2ce0f,#c4cc14,#63b81d,#33b023,#23b429,#1ab830,#13bd3a,#0fc146,#0cc656,#0ccc70,#0dd08b,#0fd2a5,#11cfbf,#13c9d9,#18bfe6,#1bb7ec,#1cb5ee,#1cb6ed,#1ab9eb,#19bce8,#17c1e5,#15c5e2,#14c8de,#13cad8,#13cbd2,#13ccce,#12cccb,#12cdc9,#12cdc8)"></i><i style="background:linear-gradient(90deg,#fba40c,#fba40c,#fba30c,#fba30c,#fba50c,#fbb70c,#ebd212,#7ebd1b,#39b121,#26b328,#1cb72e,#14bc37,#10c044,#0cc553,#0ccb6d,#0dd088,#0fd1a2,#11cfbd,#13cad8,#17c0e5,#1bb8eb,#1cb6ed,#1bb8ec,#1abaea,#18bee7,#16c3e4,#14c7e0,#13c9d9,#13cbd3,#12cccd,#12cdc8,#12cec5,#12cec2,#11cec1)"></i><i style="background:linear-gradient(90deg,#f06c0e,#f16c0e,#f06b0e,#f06a0e,#f16d0e,#f98c0c,#fac70c,#9bc317,#3fb120,#28b226,#1eb62d,#15bb35,#11bf42,#0cc450,#0ccb6a,#0cd085,#0fd1a0,#11d0bb,#13cad5,#17c2e4,#1abbea,#1bb8eb,#1abaea,#19bce8,#17c0e5,#15c5e2,#14c9dc,#13cbd4,#12cccd,#12cdc7,#11cec2,#11cfbe,#11d0bb,#11d0bb)"></i><i style="background:linear-gradient(90deg,#e13c19,#e23d18,#e13c19,#e13b19,#e23d18,#eb590f,#fcb40c,#b5c814,#43b21f,#2ab126,#1fb62c,#16ba33,#11bf40,#0dc34e,#0cca67,#0cd083,#0ed19d,#11d0b8,#13cbd3,#16c4e3,#19bde8,#1abbe9,#19bce8,#18bfe6,#16c3e3,#14c8df,#13cad6,#12cccd,#12cdc6,#11cfc0,#11d0bb,#11d1b7,#10d1b5,#10d1b4)"></i><i style="background:linear-gradient(90deg,#da2729,#da2729,#da2729,#da272a,#da2728,#e13a1a,#fa9c0c,#c7cd14,#47b21e,#2bb025,#21b52b,#17ba31,#12be3d,#0dc34c,#0cc964,#0cd07f,#0ed199,#10d1b4,#13cccf,#15c6e1,#18c0e6,#18bee7,#18bfe7,#17c2e4,#15c7e1,#13cad8,#13cccf,#12cdc6,#11cfbf,#11d0b9,#10d1b4,#10d2b0,#10d2ae,#10d2ad)"></i><i style="background:linear-gradient(90deg,#d92a36,#d92a36,#d92a37,#d92a37,#d92935,#db2825,#f8880c,#d6d014,#4cb31e,#2db024,#22b42a,#19b930,#13bd3b,#0ec249,#0cc860,#0ccf7b,#0ed195,#10d2b0,#12cccb,#14c8de,#16c3e4,#17c1e5,#17c2e4,#15c5e2,#14c9dc,#13cbd2,#12cdc8,#11cfbf,#11d0b7,#10d2b1,#10d2ac,#0fd2a8,#0fd2a6,#0fd2a5)"></i><i style="background:linear-gradient(90deg,#d82c3e,#d82b3e,#d82c3e,#d82c3e,#d82b3d,#d9282d,#f4760d,#e2d314,#53b41e,#30b023,#24b329,#1ab82f,#14bc39,#0fc147,#0cc75b,#0cce76,#0dd190,#10d2ab,#12cdc6,#13c9d9,#15c6e2,#16c3e3,#15c5e2,#14c8df,#13cad5,#12cccb,#11cfc1,#11d0b7,#10d2b0,#0fd2a9,#0fd1a4,#0fd1a0,#0fd19e,#0ed19e)"></i><i style="background:linear-gradient(90deg,#d92f43,#d92e42,#d92f43,#d93044,#d92f42,#d92933,#ef680e,#e9d313,#5cb61d,#35b122,#27b227,#1cb72e,#14bc37,#10c044,#0cc656,#0ccc70,#0dd08a,#0fd2a5,#11cfc0,#13cbd4,#14c8df,#15c6e1,#14c8e0,#13c9d9,#13cccf,#12cec4,#11d0ba,#10d2b0,#0fd2a8,#0fd1a1,#0ed19b,#0ed198,#0ed195,#0ed195)"></i><i style="background:linear-gradient(90deg,#d93144,#d93044,#d93245,#da3346,#da3346,#d92a37,#ec5d0f,#edd011,#67b91d,#3bb121,#2ab125,#1eb72d,#15bb35,#11bf42,#0cc450,#0cca69,#0cd083,#0fd19e,#11d0b9,#12ccce,#13c9da,#14c8de,#14c9db,#13cbd3,#12cdc9,#11cfbe,#10d1b4,#0fd2aa,#0fd1a1,#0ed199,#0ed193,#0dd18e,#0dd18c,#0dd18c)"></i><i style="background:linear-gradient(90deg,#d93145,#d93044,#d93245,#da3447,#da3648,#d82b3a,#e9530f,#f1ce0f,#73bb1c,#41b21f,#2eb023,#1fb62c,#16ba33,#12be3f,#0dc34d,#0cc962,#0ccf7b,#0ed197,#10d2b2,#12cdc7,#13cbd4,#13cad8,#13cad5,#12cccd,#11cec2,#11d0b7,#10d2ad,#0fd1a3,#0ed199,#0dd190,#0dd089,#0cd084,#0cd082,#0cd083)"></i><i style="background:linear-gradient(90deg,#d93144,#d93043,#d93245,#da3548,#db384a,#d82b3c,#e64a10,#f5cc0e,#7fbd1b,#47b21e,#32b023,#21b52b,#16ba32,#12be3d,#0ec249,#0cc75b,#0ccd74,#0dd18f,#10d2aa,#11cfc0,#12cccd,#13cbd2,#13cccf,#12cdc6,#11d0bb,#10d2b0,#0fd2a6,#0ed19b,#0dd191,#0dd087,#0cd080,#0ccf7a,#0cce78,#0ccf7a)"></i><i style="background:linear-gradient(90deg,#d92f43,#d82e42,#d93043,#da3547,#db394b,#d82b3d,#e54712,#f8cb0d,#89bf1a,#4fb31e,#36b122,#23b42a,#17b931,#13bd3b,#0fc146,#0cc555,#0ccb6d,#0dd087,#0fd1a2,#11d0b8,#12cdc6,#12cccb,#12cdc7,#11cfbe,#10d1b2,#0fd2a8,#0ed19e,#0ed193,#0dd088,#0ccf7e,#0ccd76,#0ccc71,#0ccc6f,#0ccc71)"></i><i style="background:linear-gradient(90deg,#d82c3f,#d82c3e,#d82c3f,#d93044,#da3648,#d82b3c,#e54811,#f9ca0c,#8fc119,#54b41e,#38b121,#24b429,#19b930,#14bc39,#10c044,#0cc450,#0cca66,#0cd080,#0ed19a,#10d2af,#11cfbd,#11cec2,#11cfbe,#10d1b5,#0fd2a9,#0fd19e,#0ed194,#0dd089,#0cd07e,#0ccd74,#0ccb6c,#0cca67,#0cc965,#0cca68)"></i><i style="background:linear-gradient(90deg,#d92a39,#d92a38,#d92a39,#d82b3c,#d82c40,#d92a36,#e9520f,#f7cb0d,#8fc119,#56b51d,#3ab121,#25b328,#1ab830,#14bc38,#11bf42,#0dc34d,#0cc861,#0cce79,#0dd191,#0fd2a6,#10d1b3,#11d0b8,#10d1b5,#10d2ab,#0fd19f,#0ed194,#0dd089,#0cd07e,#0ccd74,#0cca6a,#0cc962,#0cc75d,#0cc75c,#0cc860)"></i><i style="background:linear-gradient(90deg,#d9282e,#d9282d,#d9282e,#d92931,#d92935,#da272b,#f0690e,#f2ce0f,#8ac01a,#55b51d,#3ab121,#26b328,#1ab82f,#15bb36,#11bf40,#0ec24b,#0cc75c,#0ccd73,#0dd089,#0ed19c,#0fd2a8,#10d2ad,#0fd2aa,#0fd1a0,#0ed193,#0dd088,#0ccf7e,#0ccd73,#0cca69,#0cc860,#0cc659,#0cc555,#0cc554,#0cc658)"></i><i style="background:linear-gradient(90deg,#de331e,#df351d,#de331e,#dd2f21,#db2a24,#e0381b,#f8890c,#ebd212,#81be1b,#52b41e,#3ab121,#27b227,#1bb82f,#15bb35,#12be3f,#0ec24a,#0cc658,#0ccb6c,#0cd080,#0dd191,#0ed19d,#0fd1a2,#0fd19f,#0ed195,#0dd088,#0ccf7d,#0ccd73,#0cca68,#0cc85f,#0cc656,#0cc450,#0dc34e,#0dc34e,#0cc451)"></i><i style="background:linear-gradient(90deg,#eb5b0f,#ec5d0f,#eb5a0f,#e9540f,#e74d10,#ed620e,#fcac0c,#dad114,#75bb1c,#4db31e,#39b121,#27b227,#1cb72e,#15bb35,#12be3e,#0fc148,#0cc555,#0cca67,#0cce78,#0dd087,#0dd192,#0ed196,#0ed193,#0dd089,#0ccf7d,#0ccd72,#0cca68,#0cc85e,#0cc555,#0cc44f,#0dc34c,#0ec24a,#0ec24a,#0dc34d)"></i><i style="background:linear-gradient(90deg,#fa970c,#fa980c,#fa960c,#f9920c,#f98d0c,#fa9b0c,#fac60c,#bdca14,#69b91d,#48b21e,#38b121,#28b227,#1db72e,#15bb34,#12be3d,#0fc147,#0cc451,#0cc861,#0ccc70,#0ccf7e,#0dd087,#0dd08b,#0dd088,#0cd07f,#0ccd73,#0cca68,#0cc85f,#0cc556,#0cc44f,#0ec24b,#0fc148,#0fc146,#0fc147,#0ec24a)"></i><i style="background:linear-gradient(90deg,#fbc20c,#fbc20c,#fbc10c,#fbbf0c,#fbbd0c,#fac40c,#e9d213,#9cc317,#5eb61d,#45b21f,#37b122,#28b227,#1eb72d,#16ba32,#13bd3c,#0fc146,#0dc34e,#0cc75b,#0cca69,#0ccd75,#0ccf7d,#0cd080,#0ccf7d,#0ccd75,#0cca6a,#0cc860,#0cc657,#0cc44f,#0ec24b,#0fc147,#10c045,#10c044,#10c044,#0fc147)"></i><i style="background:linear-gradient(90deg,#e8d313,#e7d313,#e8d313,#e9d313,#ead212,#e6d414,#bfcb14,#7abc1c,#53b41e,#43b21f,#36b122,#28b227,#1eb62d,#17ba32,#13bd3b,#10c044,#0dc34c,#0cc656,#0cc962,#0ccb6c,#0ccd73,#0ccd75,#0ccd72,#0ccb6b,#0cc862,#0cc659,#0cc451,#0dc34c,#0fc148,#10c045,#10c043,#11bf42,#10c043,#10c045)"></i><i style="background:linear-gradient(90deg,#b4c814,#b3c814,#b4c814,#b6c814,#b8c914,#b1c714,#8fc119,#63b81d,#49b21e,#41b120,#35b122,#28b227,#1fb62c,#18b931,#13bd3a,#10c043,#0ec24a,#0cc452,#0cc75c,#0cc964,#0cca68,#0ccb6a,#0cca68,#0cc862,#0cc75a,#0cc553,#0dc34e,#0ec24a,#0fc147,#10c044,#11bf42,#11bf42,#11bf42,#10c043)"></i><i style="background:linear-gradient(90deg,#81be1b,#81be1b,#81be1b,#82be1b,#84be1a,#7fbd1b,#6cb91d,#53b41e,#45b21f,#3fb120,#34b122,#28b227,#1fb62c,#18b930,#14bc39,#11bf42,#0ec249,#0cc44f,#0cc556,#0cc75b,#0cc75e,#0cc85f,#0cc75d,#0cc659,#0cc553,#0cc44f,#0ec24b,#0fc148,#0fc146,#10c044,#11bf42,#11bf42,#11bf42,#10c043)"></i><i style="background:linear-gradient(90deg,#64b81d,#65b81d,#64b81d,#64b81d,#65b81d,#63b81d,#58b51d,#48b21e,#43b21f,#3eb120,#34b122,#28b227,#20b62c,#19b930,#14bc38,#11bf41,#0fc148,#0dc34d,#0cc450,#0cc553,#0cc553,#0cc553,#0cc552,#0cc450,#0dc34e,#0dc34c,#0ec24a,#0fc148,#0fc146,#10c044,#10c043,#11bf42,#10c043,#10c044)"></i><i style="background:linear-gradient(90deg,#55b51d,#55b51d,#55b51d,#54b51d,#54b51d,#53b41e,#4db31e,#45b21f,#42b21f,#3eb120,#33b122,#28b227,#20b52c,#1ab830,#14bc37,#11bf40,#0fc147,#0ec24b,#0dc34d,#0dc34c,#0ec24a,#0ec24a,#0ec24b,#0ec24a,#0ec249,#0ec249,#0ec249,#0fc148,#0fc146,#10c045,#10c044,#10c044,#10c044,#0fc146)"></i><i style="background:linear-gradient(90deg,#4db31e,#4db31e,#4db31e,#4cb31e,#4cb31e,#4cb31e,#48b21e,#45b21f,#42b21f,#3eb120,#33b122,#28b227,#20b52b,#1ab830,#14bc37,#11bf40,#0fc147,#0ec24a,#0ec24a,#0fc146,#11bf42,#11bf41,#10c043,#10c044,#10c045,#0fc147,#0fc148,#0fc148,#0fc148,#0fc147,#0fc146,#0fc146,#0fc147,#0fc148)"></i><i style="background:linear-gradient(90deg,#4ab21e,#4ab21e,#4ab21e,#49b21e,#49b21e,#49b21e,#47b21e,#45b21f,#43b21f,#3eb120,#33b122,#28b227,#20b52b,#1ab82f,#15bb36,#11bf40,#0fc147,#0ec24a,#0fc147,#11bf40,#13bd3a,#14bc39,#13bd3c,#12be3f,#11bf41,#10c044,#0fc147,#0fc148,#0ec249,#0ec249,#0ec249,#0ec249,#0ec24a,#0dc34c)"></i><i style="background:linear-gradient(90deg,#49b21e,#49b21e,#49b21e,#49b21e,#48b21e,#48b21e,#48b21e,#47b21e,#44b21f,#3eb120,#33b122,#28b227,#20b52b,#1ab830,#15bb36,#11bf40,#0fc148,#0ec24a,#10c045,#13bd3b,#16ba32,#17ba32,#15bb36,#13bd3a,#12be3e,#11bf42,#0fc147,#0ec249,#0ec24b,#0ec24b,#0dc34c,#0dc34c,#0dc34d,#0cc450)"></i><i style="background:linear-gradient(90deg,#48b21e,#48b21e,#48b21e,#48b21e,#48b21e,#48b21e,#48b21e,#48b21e,#45b21f,#3eb120,#33b122,#28b227,#20b52c,#1ab830,#14bc37,#11bf41,#0fc148,#0ec249,#10c043,#15bb36,#1bb82f,#1cb72e,#18b931,#15bb35,#13bd3b,#11bf41,#0fc146,#0ec24a,#0dc34c,#0dc34e,#0cc44f,#0cc450,#0cc552,#0cc556)"></i><i style="background:linear-gradient(90deg,#48b21e,#48b21e,#48b21e,#48b21e,#48b21e,#48b21e,#49b21e,#49b21e,#46b21e,#3eb120,#33b023,#27b227,#20b62c,#19b930,#14bc38,#11bf42,#0ec249,#0ec249,#11bf41,#16ba33,#20b62c,#21b52b,#1cb72e,#17ba32,#14bc38,#12be3f,#0fc146,#0ec24a,#0dc34e,#0cc451,#0cc554,#0cc657,#0cc659,#0cc75c)"></i><i style="background:linear-gradient(90deg,#47b21e,#47b21e,#47b21e,#47b21e,#47b21e,#47b21e,#48b21e,#49b21e,#45b21f,#3eb120,#32b023,#27b227,#1fb62c,#18b931,#14bc39,#10c043,#0ec249,#0ec249,#11bf40,#18b931,#23b42a,#25b329,#1fb62c,#19b930,#15bb36,#12be3e,#10c045,#0ec24b,#0cc44f,#0cc555,#0cc65a,#0cc75e,#0cc860,#0cc862)"></i><i style="background:linear-gradient(90deg,#46b21e,#46b21e,#46b21e,#47b21e,#46b21e,#46b21e,#47b21e,#48b21e,#45b21f,#3db120,#31b023,#26b328,#1fb62d,#17b931,#13bd3a,#10c044,#0ec24a,#0ec249,#12be3f,#19b930,#26b328,#28b227,#22b42a,#1bb82f,#15bb35,#12be3d,#10c045,#0ec24b,#0cc452,#0cc65a,#0cc860,#0cc965,#0cca67,#0cca67)"></i><i style="background:linear-gradient(90deg,#45b21f,#45b21f,#45b21f,#45b21f,#45b21f,#45b21f,#46b21e,#46b21e,#43b21f,#3cb121,#30b023,#25b328,#1eb72d,#17ba32,#13bd3c,#10c045,#0ec24a,#0fc148,#12be3f,#1ab82f,#28b227,#2ab125,#25b329,#1cb72e,#15bb34,#12be3d,#10c045,#0dc34c,#0cc555,#0cc85f,#0cca67,#0ccb6c,#0ccb6e,#0ccb6c)"></i><i style="background:linear-gradient(90deg,#44b21f,#44b21f,#44b21f,#44b21f,#44b21f,#44b21f,#44b21f,#45b21f,#42b21f,#3ab121,#2fb023,#24b329,#1db72e,#16ba32,#12be3d,#0fc146,#0ec24a,#0fc148,#12be3e,#1bb82f,#29b126,#2cb024,#26b328,#1db72d,#15bb34,#12be3d,#10c045,#0dc34e,#0cc659,#0cc964,#0ccb6d,#0ccd73,#0ccd74,#0ccc71)"></i><i style="background:linear-gradient(90deg,#42b21f,#42b21f,#42b21f,#42b21f,#42b21f,#42b21f,#43b21f,#43b21f,#40b120,#39b121,#2db024,#23b42a,#1cb72e,#15bb34,#12be3e,#0fc146,#0ec24a,#0fc148,#12be3e,#1cb72e,#2bb125,#2eb023,#28b227,#1eb62d,#15bb34,#12be3e,#0fc147,#0cc450,#0cc75e,#0cca6a,#0ccd73,#0cce79,#0ccf7a,#0cce77)"></i><i style="background:linear-gradient(90deg,#41b120,#40b120,#41b120,#41b120,#40b120,#40b120,#41b120,#41b21f,#3eb120,#37b122,#2cb024,#22b52b,#1ab82f,#15bb35,#12be3e,#0fc147,#0ec24a,#0fc148,#12be3d,#1db72e,#2cb024,#30b023,#28b226,#1eb62d,#15bb34,#11bf40,#0ec24a,#0cc556,#0cc964,#0ccc70,#0cce79,#0cd07f,#0cd080,#0ccf7c)"></i><i style="background:linear-gradient(90deg,#3fb120,#3eb120,#3fb120,#3fb120,#3eb120,#3eb120,#3fb120,#3fb120,#3db120,#35b122,#2ab125,#20b52c,#19b930,#15bb36,#12be3f,#0fc146,#0ec24a,#0fc148,#12be3d,#1db72d,#2db024,#31b023,#29b126,#1eb62d,#15bb35,#11bf42,#0dc34d,#0cc75c,#0ccb6a,#0ccd76,#0cd07e,#0cd084,#0cd085,#0cd082)"></i><i style="background:linear-gradient(90deg,#3cb120,#3cb121,#3cb120,#3cb120,#3cb121,#3cb121,#3db120,#3db120,#3bb121,#33b122,#28b226,#1fb62d,#18b931,#14bc37,#12be3f,#0fc146,#0ec24a,#0fc148,#12be3e,#1eb62d,#2fb023,#32b023,#29b126,#1eb62d,#15bb36,#10c045,#0cc552,#0cc963,#0ccc71,#0ccf7c,#0cd083,#0dd088,#0dd089,#0dd088)"></i><i style="background:linear-gradient(90deg,#3ab121,#3ab121,#3ab121,#3ab121,#3ab121,#3ab121,#3bb121,#3bb121,#38b121,#31b023,#27b227,#1db72e,#17ba32,#14bc38,#12be3f,#0fc146,#0ec24a,#0fc148,#12be3e,#1eb62d,#2fb023,#32b023,#28b226,#1db72d,#14bc38,#0fc148,#0cc659,#0ccb6a,#0cce78,#0cd081,#0dd088,#0dd08c,#0dd18d,#0dd18d)"></i><i style="background:linear-gradient(90deg,#38b121,#38b121,#38b121,#38b121,#38b121,#38b121,#38b121,#39b121,#36b122,#2fb023,#25b329,#1bb82f,#16ba33,#14bc39,#12be3f,#0fc146,#0ec24a,#0ec249,#12be3e,#1eb62d,#30b023,#32b023,#28b227,#1cb72e,#13bd3a,#0ec24b,#0cc85f,#0ccc71,#0ccf7d,#0dd086,#0dd08c,#0dd18f,#0dd191,#0dd192)"></i><i style="background:linear-gradient(90deg,#36b122,#36b122,#36b122,#36b122,#36b122,#36b122,#36b122,#36b122,#33b023,#2cb024,#22b42a,#19b930,#15bb35,#13bd3a,#11bf40,#0fc146,#0ec24a,#0ec249,#12be3f,#1eb72d,#2fb023,#32b023,#27b227,#1bb82f,#12be3d,#0dc34e,#0cc964,#0ccd76,#0cd082,#0dd08a,#0dd18f,#0dd192,#0ed193,#0ed195)"></i><i style="background:linear-gradient(90deg,#34b122,#34b122,#34b122,#34b122,#34b122,#34b122,#34b122,#33b023,#30b023,#29b126,#20b52c,#17b931,#15bb36,#13bd3b,#11bf41,#0fc147,#0ec24a,#0fc148,#12be3f,#1db72e,#2eb024,#31b023,#26b328,#19b930,#11bf40,#0cc452,#0cca68,#0cce79,#0cd085,#0dd18c,#0dd191,#0ed194,#0ed196,#0ed198)"></i><i style="background:linear-gradient(90deg,#32b023,#32b023,#32b023,#32b023,#32b023,#32b023,#31b023,#30b023,#2cb024,#27b227,#1eb62d,#16ba32,#14bc38,#13bd3c,#10c043,#0fc148,#0ec24a,#0fc148,#11bf40,#1bb82f,#2cb024,#2fb023,#24b329,#17ba31,#10c044,#0cc656,#0ccb6c,#0ccf7b,#0dd087,#0dd18e,#0ed193,#0ed196,#0ed198,#0ed19a)"></i><i style="background:linear-gradient(90deg,#2fb023,#30b023,#2fb023,#2fb023,#30b023,#30b023,#2fb023,#2db024,#29b126,#24b429,#1cb72e,#15bb35,#14bc39,#12be3d,#10c044,#0ec249,#0ec24a,#0fc148,#11bf41,#1ab82f,#2ab125,#2db024,#23b42a,#15bb34,#0fc147,#0cc75b,#0ccc6e,#0ccf7d,#0dd088,#0dd18f,#0ed194,#0ed197,#0ed199,#0ed19b)"></i><i style="background:linear-gradient(90deg,#2db024,#2eb024,#2db024,#2db024,#2eb024,#2eb024,#2db024,#2ab125,#27b227,#22b52b,#1ab830,#14bc37,#13bd3b,#12be3e,#10c045,#0ec24a,#0ec24b,#0ec249,#11bf42,#18b930,#28b227,#2ab125,#21b52b,#14bc37,#0ec24b,#0cc85f,#0ccc71,#0cd07e,#0dd089,#0dd190,#0ed196,#0ed199,#0ed19b,#0ed19c)"></i><i style="background:linear-gradient(90deg,#2cb024,#2cb024,#2bb024,#2bb024,#2cb024,#2cb024,#2bb125,#28b226,#24b329,#1fb62c,#18b931,#14bc38,#13bd3c,#12be3f,#0fc146,#0ec24b,#0ec24b,#0ec249,#10c043,#17ba31,#25b328,#27b227,#1eb62d,#13bd3b,#0dc34e,#0cc962,#0ccd72,#0cd07f,#0dd08a,#0dd191,#0ed197,#0ed19b,#0ed19d,#0ed19d)"></i><i style="background:linear-gradient(90deg,#2ab125,#2ab125,#2ab125,#2ab125,#2ab125,#2ab125,#29b126,#26b328,#22b42a,#1db72d,#16ba32,#13bd3a,#12be3d,#11bf40,#0fc147,#0dc34c,#0dc34c,#0ec24a,#10c044,#16ba33,#22b42a,#24b429,#1bb82f,#12be3e,#0cc451,#0cc965,#0ccd74,#0cd081,#0dd08b,#0ed193,#0ed199,#0ed19d,#0fd19f,#0fd19f)"></i><i style="background:linear-gradient(90deg,#28b226,#28b226,#28b226,#28b226,#28b226,#29b226,#27b227,#25b329,#21b52b,#1bb82f,#15bb34,#13bd3b,#12be3e,#11bf41,#0fc147,#0dc34c,#0dc34d,#0ec24b,#10c045,#15bb35,#1fb62c,#20b52b,#18b931,#11bf42,#0cc554,#0cca68,#0ccd76,#0cd082,#0dd18c,#0ed194,#0ed19b,#0fd19f,#0fd1a1,#0fd1a0)"></i><i style="background:linear-gradient(90deg,#27b227,#27b227,#27b227,#27b227,#27b227,#27b227,#26b328,#23b42a,#1fb62c,#1ab830,#15bb35,#13bd3c,#12be3f,#11bf42,#0fc147,#0dc34c,#0dc34e,#0dc34c,#0fc146,#14bc37,#1cb72e,#1db72e,#15bb34,#10c045,#0cc658,#0cca6a,#0cce78,#0cd084,#0dd18e,#0ed196,#0ed19d,#0fd1a1,#0fd1a3,#0fd1a2)"></i><i style="background:linear-gradient(90deg,#25b328,#25b328,#25b328,#25b329,#25b328,#25b328,#24b429,#22b52b,#1db72d,#18b931,#14bc37,#12be3d,#11bf41,#10c043,#0fc147,#0dc34c,#0cc44f,#0dc34e,#0fc147,#13bd3a,#19b930,#19b930,#14bc39,#0fc148,#0cc75a,#0ccb6b,#0cce79,#0cd085,#0dd190,#0ed198,#0fd19f,#0fd1a3,#0fd2a5,#0fd2a4)"></i><i style="background:linear-gradient(90deg,#23b42a,#23b429,#23b42a,#23b42a,#23b429,#24b429,#23b42a,#20b52c,#1cb72e,#17ba31,#14bc38,#12be3e,#11bf42,#10c044,#0fc147,#0dc34c,#0cc44f,#0cc44f,#0fc147,#13bd3c,#16ba32,#15bb34,#12be3e,#0ec24b,#0cc75d,#0ccb6d,#0ccf7b,#0dd087,#0dd191,#0ed19a,#0fd1a1,#0fd2a5,#0fd2a7,#0fd2a6)"></i><i style="background:linear-gradient(90deg,#22b52b,#22b52b,#22b52b,#22b52b,#22b52b,#22b52a,#21b52b,#1fb62c,#1bb82f,#16ba32,#14bc39,#12be3f,#10c043,#10c045,#0fc148,#0dc34c,#0cc450,#0cc450,#0fc148,#12be3e,#15bb36,#14bc38,#11bf42,#0dc34e,#0cc85f,#0ccc6e,#0ccf7c,#0dd089,#0ed193,#0ed19c,#0fd1a3,#0fd2a7,#0fd2a9,#0fd2a8)"></i><i style="background:linear-gradient(90deg,#20b52c,#20b52c,#20b52c,#20b52c,#20b52c,#20b52b,#1fb62c,#1db72d,#19b830,#15bb34,#13bd3a,#11bf40,#10c044,#0fc146,#0fc148,#0dc34c,#0cc451,#0cc450,#0ec249,#11bf40,#13bd3a,#12be3d,#10c045,#0cc450,#0cc860,#0ccc70,#0ccf7e,#0dd08a,#0ed195,#0fd19e,#0fd2a5,#0fd2a9,#10d2ab,#10d2aa)"></i><i style="background:linear-gradient(90deg,#1eb62d,#1eb62d,#1eb62d,#1eb62d,#1eb62d,#1fb62d,#1eb62d,#1cb72e,#18b931,#15bb35,#13bd3b,#11bf41,#10c045,#0fc148,#0ec249,#0dc34d,#0cc452,#0cc451,#0ec24a,#11bf42,#12be3e,#11bf40,#0fc148,#0cc552,#0cc962,#0ccc71,#0cd080,#0dd18c,#0ed197,#0fd1a0,#0fd2a7,#10d2ab,#10d2ad,#10d2ac)"></i><i style="background:linear-gradient(90deg,#1db72e,#1db72e,#1db72e,#1db72e,#1db72e,#1db72e,#1cb72e,#1ab830,#17ba31,#15bb36,#13bd3c,#11bf42,#0fc146,#0ec249,#0ec24b,#0dc34e,#0cc552,#0cc450,#0ec24b,#10c044,#11bf41,#10c043,#0ec24a,#0cc554,#0cc964,#0ccd73,#0cd082,#0dd18e,#0ed199,#0fd1a2,#0fd2a8,#10d2ad,#10d2af,#10d2ae)"></i><i style="background:linear-gradient(90deg,#1bb82f,#1bb82f,#1bb82f,#1bb82f,#1bb82f,#1bb82f,#1ab82f,#18b931,#16ba33,#14bc37,#12be3d,#10c043,#0fc147,#0ec24a,#0dc34d,#0cc450,#0cc452,#0cc44f,#0ec24b,#0fc146,#10c043,#10c045,#0ec24a,#0cc555,#0cc965,#0ccd75,#0cd084,#0dd190,#0ed19b,#0fd1a3,#0fd2aa,#10d2ae,#10d2b0,#10d2af)"></i></div>
<div class="f" style="left:307.9px;top:244.8px;width:198.3px;height:171.9px"><i style="background:linear-gradient(90deg,#0ccb6b,#0cc659,#0cc552,#0cc556,#0cc860,#0ccc70,#0cd082,#0ed195,#0fd2a6,#10d1b3,#11cfbc,#12cec3,#12cdc7,#12cccb,#12cccd,#13cbcf,#13cbd1,#13cbd3,#13cbd4,#13cad5,#13cad6,#13cad7,#13cad8,#13c9da,#14c9dc,#14c8e0,#15c6e2,#16c2e4,#18bfe6,#19bce8,#1abaea,#1bb8ec,#1bb7ec,#1bb7ec)"></i><i style="background:linear-gradient(90deg,#0cca69,#0cc658,#0cc452,#0cc555,#0cc85f,#0ccb6e,#0cd080,#0ed192,#0fd1a3,#10d2b1,#11d0bb,#12cec3,#12cdc8,#12cccc,#13cccf,#13cbd1,#13cbd2,#13cbd3,#13cad4,#13cad5,#13cad6,#13cad7,#13cad9,#14c9da,#14c9dd,#14c8e0,#15c5e2,#16c2e4,#18bfe6,#19bce9,#1ab9ea,#1bb8ec,#1bb7ec,#1bb7ec)"></i><i style="background:linear-gradient(90deg,#0cca69,#0cc658,#0cc553,#0cc556,#0cc860,#0ccc6e,#0cd080,#0dd192,#0fd1a3,#10d2b0,#11d0bb,#12cec3,#12cdc9,#12cccd,#13cbd0,#13cbd1,#13cbd3,#13cbd4,#13cad5,#13cad6,#13cad7,#13cad8,#13c9d9,#14c9db,#14c9dd,#14c8e0,#15c5e2,#17c2e4,#18bfe7,#19bce9,#1ab9ea,#1bb7ec,#1bb7ec,#1bb7ec)"></i><i style="background:linear-gradient(90deg,#0cca69,#0cc75a,#0cc555,#0cc659,#0cc962,#0ccc71,#0cd081,#0ed193,#0fd1a3,#10d2b1,#11d0bc,#12cec4,#12cdca,#12ccce,#13cbd0,#13cbd2,#13cbd3,#13cad4,#13cad5,#13cad6,#13cad7,#13cad8,#13c9d9,#14c9db,#14c9dd,#14c7e0,#15c5e2,#17c2e4,#18bfe7,#19bce9,#1ab9eb,#1bb7ec,#1cb6ed,#1bb7ec)"></i><i style="background:linear-gradient(90deg,#0ccb6b,#0cc75d,#0cc659,#0cc75d,#0cca67,#0ccd74,#0cd085,#0ed196,#0fd2a5,#10d1b3,#11cfbd,#12cec5,#12ccca,#13ccce,#13cbd1,#13cbd3,#13cbd4,#13cad5,#13cad6,#13cad6,#13cad7,#13cad8,#13c9da,#14c9db,#14c9de,#14c7e0,#15c5e2,#17c2e5,#18bee7,#19bbe9,#1ab9eb,#1bb7ec,#1cb6ed,#1bb7ec)"></i><i style="background:linear-gradient(90deg,#0ccb6d,#0cc861,#0cc85f,#0cc963,#0ccb6c,#0cce7a,#0dd089,#0ed199,#0fd2a8,#10d1b5,#11cfbf,#12cdc6,#12cccb,#13cccf,#13cbd2,#13cbd3,#13cad4,#13cad5,#13cad6,#13cad7,#13cad8,#13cad9,#13c9da,#14c9db,#14c8de,#14c7e0,#15c5e2,#17c1e5,#18bee7,#1abbe9,#1bb9eb,#1bb7ec,#1cb6ed,#1bb7ec)"></i><i style="background:linear-gradient(90deg,#0ccc71,#0cca67,#0cc965,#0cca69,#0ccd73,#0cd080,#0dd18e,#0ed19e,#10d2ac,#11d0b8,#11cfc1,#12cdc8,#12cccc,#13cbd0,#13cbd2,#13cbd3,#13cad4,#13cad5,#13cad6,#13cad7,#13cad8,#13c9d9,#14c9da,#14c9dc,#14c8de,#14c7e1,#16c4e3,#17c1e5,#18bee7,#1abbe9,#1bb8eb,#1bb7ec,#1cb6ed,#1bb7ec)"></i><i style="background:linear-gradient(90deg,#0ccd75,#0ccb6d,#0ccb6c,#0ccc70,#0cce7a,#0dd086,#0ed194,#0fd1a3,#10d2b0,#11d0bb,#12cec3,#12cdc9,#12cccd,#13cbd0,#13cbd2,#13cbd4,#13cad5,#13cad6,#13cad7,#13cad8,#13cad9,#13c9d9,#14c9da,#14c9dc,#14c8de,#14c7e1,#16c4e3,#17c1e5,#18bee7,#1abbea,#1bb8eb,#1cb6ed,#1cb6ed,#1bb7ec)"></i><i style="background:linear-gradient(90deg,#0ccf7b,#0ccd74,#0ccd73,#0cce78,#0cd081,#0dd18d,#0ed19b,#0fd2a8,#10d1b4,#11cfbe,#12cec5,#12cccb,#13ccce,#13cbd1,#13cbd3,#13cad4,#13cad5,#13cad6,#13cad7,#13cad8,#13c9d9,#13c9da,#14c9db,#14c9dc,#14c8de,#14c7e1,#16c4e3,#17c1e5,#19bde8,#1abaea,#1bb8ec,#1cb6ed,#1cb6ed,#1bb7ec)"></i><i style="background:linear-gradient(90deg,#0cd081,#0ccf7b,#0ccf7b,#0cd080,#0dd089,#0ed194,#0fd1a1,#10d2ad,#11d0b8,#11cec1,#12cdc8,#12cccc,#13cbd0,#13cbd2,#13cbd3,#13cad5,#13cad6,#13cad6,#13cad7,#13cad8,#13c9d9,#14c9da,#14c9db,#14c9dc,#14c8df,#15c7e1,#16c4e3,#17c1e5,#19bde8,#1abaea,#1bb7ec,#1cb6ed,#1cb5ed,#1bb7ec)"></i><i style="background:linear-gradient(90deg,#0dd088,#0cd083,#0cd083,#0dd088,#0dd190,#0ed19b,#0fd2a6,#10d2b1,#11d0bc,#12cec4,#12cdca,#12ccce,#13cbd1,#13cbd3,#13cad4,#13cad5,#13cad6,#13cad7,#13cad8,#13cad9,#13c9da,#14c9db,#14c9dc,#14c9dd,#14c8df,#15c6e1,#16c3e3,#17c0e6,#19bde8,#1abaea,#1bb7ec,#1cb5ed,#1cb5ed,#1bb7ec)"></i><i style="background:linear-gradient(90deg,#0dd18f,#0dd08b,#0dd08c,#0dd190,#0ed197,#0fd1a1,#10d2ab,#10d1b5,#11cfbe,#12cdc6,#12cccb,#13cccf,#13cbd2,#13cbd3,#13cad5,#13cad6,#13cad6,#13cad7,#13cad8,#13c9d9,#13c9da,#14c9db,#14c9dc,#14c8de,#14c8e0,#15c6e2,#16c3e4,#18c0e6,#19bce8,#1ab9eb,#1bb7ec,#1cb5ed,#1cb5ed,#1bb7ec)"></i><i style="background:linear-gradient(90deg,#0ed197,#0ed193,#0ed194,#0ed197,#0ed19e,#0fd2a6,#10d2af,#11d0b8,#11cfc0,#12cdc7,#12cccc,#13cbd0,#13cbd3,#13cad4,#13cad6,#13cad6,#13cad7,#13cad7,#13cad8,#13c9d9,#14c9da,#14c9db,#14c9dd,#14c8df,#14c7e1,#15c5e2,#16c2e4,#18bfe6,#19bce9,#1ab9eb,#1bb7ec,#1cb5ed,#1cb5ee,#1cb6ed)"></i><i style="background:linear-gradient(90deg,#0fd1a0,#0ed19c,#0ed19c,#0fd19f,#0fd2a4,#10d2ab,#10d1b3,#11d0bb,#12cec2,#12cdc8,#12cccd,#13cbd1,#13cbd4,#13cad5,#13cad6,#13cad7,#13cad7,#13cad8,#13cad9,#13c9d9,#14c9db,#14c9dc,#14c9de,#14c8e0,#15c6e1,#16c4e3,#17c1e5,#18bee7,#19bbe9,#1bb9eb,#1cb6ed,#1cb5ed,#1cb5ee,#1cb6ed)"></i><i style="background:linear-gradient(90deg,#0fd2a8,#0fd2a4,#0fd1a4,#0fd2a6,#10d2aa,#10d2b0,#11d1b6,#11cfbd,#12cec4,#12cdca,#13ccce,#13cbd2,#13cad4,#13cad6,#13cad7,#13cad8,#13cad8,#13cad8,#13c9d9,#13c9da,#14c9db,#14c9dd,#14c8df,#14c7e0,#15c6e2,#16c3e3,#17c1e5,#18bee7,#1abbe9,#1bb8eb,#1cb6ed,#1cb5ee,#1cb5ee,#1cb6ed)"></i><i style="background:linear-gradient(90deg,#10d2b0,#10d2ad,#10d2ac,#10d2ad,#10d2b0,#10d1b5,#11d0ba,#11cfc0,#12cdc6,#12cccb,#13cccf,#13cbd3,#13cad5,#13cad7,#13cad8,#13cad8,#13cad9,#13c9d9,#13c9da,#14c9db,#14c9dc,#14c8de,#14c8e0,#15c6e1,#15c5e2,#16c2e4,#18c0e6,#19bde8,#1abaea,#1bb8eb,#1cb6ed,#1cb5ed,#1cb5ee,#1cb6ed)"></i><i style="background:linear-gradient(90deg,#11d0b8,#10d1b5,#10d1b4,#10d1b5,#11d1b7,#11d0ba,#11cfbf,#12cec3,#12cdc8,#12cccc,#13cbd0,#13cbd3,#13cad6,#13cad8,#13cad9,#13c9d9,#13c9d9,#13c9da,#14c9db,#14c9dc,#14c8de,#14c8e0,#14c7e1,#15c5e2,#16c3e3,#17c1e5,#18bfe6,#19bce8,#1abaea,#1bb8ec,#1cb6ed,#1cb5ed,#1cb5ee,#1cb6ed)"></i><i style="background:linear-gradient(90deg,#11cfbf,#11cfbc,#11d0bc,#11cfbc,#11cfbe,#11cfc0,#12cec3,#12cdc7,#12cdca,#12ccce,#13cbd1,#13cad4,#13cad6,#13cad8,#13c9d9,#13c9da,#14c9da,#14c9db,#14c9dc,#14c8de,#14c8e0,#14c7e1,#15c6e2,#16c4e3,#16c2e4,#17c0e6,#18bee7,#19bce9,#1abaea,#1bb8ec,#1cb6ed,#1cb5ed,#1cb5ed,#1cb6ed)"></i><i style="background:linear-gradient(90deg,#12cec5,#12cec3,#12cec3,#12cec3,#12cec4,#12cdc6,#12cdc8,#12ccca,#12cccd,#13cbd0,#13cbd2,#13cad5,#13cad7,#13cad8,#13c9d9,#14c9da,#14c9db,#14c9dc,#14c8de,#14c8e0,#14c7e1,#15c6e2,#16c4e3,#16c3e4,#17c1e5,#18bfe6,#19bde8,#19bbe9,#1ab9eb,#1bb8ec,#1cb6ed,#1cb5ed,#1cb5ed,#1cb6ed)"></i><i style="background:linear-gradient(90deg,#12cdca,#12cdca,#12cdca,#12cdca,#12ccca,#12cccb,#12cccd,#13ccce,#13cbd0,#13cbd2,#13cbd4,#13cad6,#13cad7,#13cad9,#13c9da,#14c9da,#14c9dc,#14c9dd,#14c8df,#14c7e1,#15c6e2,#16c4e3,#16c3e4,#17c1e5,#17c0e6,#18bee7,#19bce8,#1abbea,#1ab9eb,#1bb7ec,#1cb6ed,#1cb6ed,#1cb5ed,#1cb6ed)"></i><i style="background:linear-gradient(90deg,#13ccce,#13cccf,#13cccf,#13cbcf,#13cbd0,#13cbd0,#13cbd1,#13cbd1,#13cbd2,#13cbd3,#13cad5,#13cad6,#13cad8,#13cad9,#13c9da,#14c9db,#14c9dc,#14c8de,#14c8e0,#15c6e1,#16c4e3,#16c3e4,#17c1e5,#17c0e6,#18bfe7,#19bde8,#19bce9,#1abaea,#1bb9eb,#1bb7ec,#1cb6ed,#1cb6ed,#1cb5ed,#1cb6ed)"></i><i style="background:linear-gradient(90deg,#13cbd2,#13cbd3,#13cbd3,#13cbd3,#13cbd4,#13cbd4,#13cbd4,#13cbd4,#13cad4,#13cad5,#13cad6,#13cad7,#13cad8,#13c9d9,#14c9da,#14c9db,#14c9dd,#14c8df,#15c7e1,#15c5e2,#16c3e3,#17c2e4,#17c0e5,#18bfe6,#18bee7,#19bce8,#1abbe9,#1abaea,#1bb8eb,#1bb7ec,#1cb6ed,#1cb6ed,#1cb5ed,#1cb6ed)"></i><i style="background:linear-gradient(90deg,#13cbd4,#13cad5,#13cad5,#13cad6,#13cad6,#13cad6,#13cad6,#13cad6,#13cad6,#13cad6,#13cad7,#13cad7,#13cad8,#13c9d9,#14c9da,#14c9dc,#14c8de,#14c8e0,#15c6e1,#16c4e3,#16c3e4,#17c1e5,#18c0e6,#18bee7,#19bde8,#19bce9,#1abaea,#1ab9eb,#1bb8ec,#1bb7ec,#1cb6ed,#1cb5ed,#1cb5ed,#1cb6ed)"></i><i style="background:linear-gradient(90deg,#13cad5,#13cad6,#13cad6,#13cad7,#13cad7,#13cad7,#13cad7,#13cad7,#13cad7,#13cad7,#13cad7,#13cad8,#13cad9,#13c9da,#14c9db,#14c9dc,#14c8de,#14c7e0,#15c6e2,#16c4e3,#17c2e4,#17c0e5,#18bfe6,#18bee7,#19bce8,#1abbe9,#1abaea,#1bb9eb,#1bb8ec,#1bb7ec,#1cb6ed,#1cb5ed,#1cb5ed,#1cb6ed)"></i><i style="background:linear-gradient(90deg,#13cad5,#13cad5,#13cad6,#13cad7,#13cad7,#13cad7,#13cad7,#13cad7,#13cad7,#13cad7,#13cad8,#13cad8,#13c9d9,#13c9da,#14c9db,#14c9dd,#14c8df,#14c7e1,#15c6e2,#16c4e3,#17c2e4,#17c0e5,#18bfe7,#18bee7,#19bce8,#1abbe9,#1abaea,#1bb9eb,#1bb7ec,#1bb7ec,#1cb6ed,#1cb5ed,#1cb5ed,#1cb6ed)"></i><i style="background:linear-gradient(90deg,#13cbd4,#13cad5,#13cad5,#13cad6,#13cad6,#13cad6,#13cad6,#13cad7,#13cad7,#13cad7,#13cad8,#13cad8,#13c9d9,#14c9da,#14c9db,#14c9dd,#14c8df,#14c7e0,#15c6e2,#16c4e3,#16c2e4,#17c1e5,#18bfe6,#18bee7,#19bce8,#19bbe9,#1abaea,#1bb9eb,#1bb8ec,#1bb7ec,#1cb6ed,#1cb6ed,#1cb6ed,#1cb6ed)"></i><i style="background:linear-gradient(90deg,#13cbd2,#13cbd3,#13cbd4,#13cad4,#13cad5,#13cad5,#13cad6,#13cad6,#13cad7,#13cad7,#13cad8,#13cad8,#13c9d9,#14c9da,#14c9db,#14c9dd,#14c8de,#14c8e0,#15c6e1,#15c5e2,#16c3e4,#17c1e5,#17c0e6,#18bfe7,#19bde8,#19bce9,#1abbe9,#1abaea,#1bb9eb,#1bb8ec,#1bb7ec,#1bb7ec,#1bb7ec,#1bb7ec)"></i><i style="background:linear-gradient(90deg,#13cbd0,#13cbd1,#13cbd2,#13cbd3,#13cbd4,#13cad4,#13cad5,#13cad5,#13cad6,#13cad6,#13cad7,#13cad8,#13cad9,#13c9da,#14c9db,#14c9dc,#14c9dd,#14c8df,#14c7e1,#15c6e2,#16c4e3,#16c3e4,#17c1e5,#17c0e6,#18bfe7,#19bde8,#19bce8,#1abbe9,#1abaea,#1ab9eb,#1bb9eb,#1bb8eb,#1bb8eb,#1bb8eb)"></i><i style="background:linear-gradient(90deg,#12ccce,#13cbcf,#13cbd1,#13cbd2,#13cbd2,#13cbd3,#13cbd4,#13cad4,#13cad5,#13cad6,#13cad6,#13cad7,#13cad8,#13c9d9,#13c9da,#14c9db,#14c9dc,#14c8de,#14c8e0,#15c7e1,#15c5e2,#16c4e3,#16c3e4,#17c2e5,#17c0e5,#18bfe6,#18bee7,#19bde8,#19bce9,#1abbe9,#1abaea,#1abaea,#1abaea,#1abaea)"></i><i style="background:linear-gradient(90deg,#12cccb,#12cccd,#13cccf,#13cbd0,#13cbd1,#13cbd2,#13cbd3,#13cbd3,#13cbd4,#13cad5,#13cad6,#13cad6,#13cad7,#13cad8,#13c9d9,#13c9da,#14c9db,#14c9dc,#14c8de,#14c8e0,#14c7e1,#15c6e2,#15c5e2,#16c4e3,#16c3e4,#17c1e5,#17c0e5,#18bfe6,#18bee7,#19bde8,#19bde8,#19bce8,#19bce8,#19bce8)"></i><i style="background:linear-gradient(90deg,#12cdc8,#12cccb,#12cccd,#13cccf,#13cbd0,#13cbd1,#13cbd1,#13cbd2,#13cbd3,#13cbd4,#13cad5,#13cad6,#13cad7,#13cad7,#13cad8,#13cad9,#13c9d9,#14c9da,#14c9dc,#14c8de,#14c8df,#14c7e0,#15c6e1,#15c5e2,#15c5e2,#16c4e3,#16c3e4,#17c2e5,#17c1e5,#18c0e6,#18bfe6,#18bfe7,#18bee7,#18bfe7)"></i><i style="background:linear-gradient(90deg,#12cec5,#12cdc8,#12cccb,#12cccd,#13ccce,#13cbcf,#13cbd0,#13cbd1,#13cbd2,#13cbd3,#13cad4,#13cad5,#13cad6,#13cad7,#13cad7,#13cad8,#13cad8,#13c9d9,#14c9da,#14c9dc,#14c9dd,#14c8df,#14c8e0,#14c7e1,#15c6e1,#15c6e2,#15c5e2,#16c4e3,#16c3e4,#17c2e4,#17c1e5,#17c1e5,#17c1e5,#17c1e5)"></i><i style="background:linear-gradient(90deg,#12cec2,#12cec6,#12cdc8,#12cdca,#12cccc,#12cccd,#13cccf,#13cbd0,#13cbd1,#13cbd2,#13cbd4,#13cad5,#13cad6,#13cad7,#13cad7,#13cad8,#13cad8,#13cad9,#13c9da,#14c9db,#14c9dc,#14c9dd,#14c8de,#14c8df,#14c8e0,#14c7e1,#15c6e1,#15c5e2,#15c5e2,#16c4e3,#16c3e3,#16c3e4,#16c3e4,#16c3e4)"></i><i style="background:linear-gradient(90deg,#11cfbf,#12cec2,#12cec5,#12cdc7,#12cdca,#12cccb,#12cccd,#13cccf,#13cbd1,#13cbd2,#13cbd4,#13cad5,#13cad6,#13cad7,#13cad8,#13cad8,#13cad8,#13c9d9,#13c9da,#14c9db,#14c9dc,#14c9dd,#14c9dd,#14c8de,#14c8df,#14c8e0,#14c7e1,#15c6e1,#15c6e2,#15c5e2,#15c5e2,#16c4e3,#16c4e3,#16c4e3)"></i><i style="background:linear-gradient(90deg,#11cfbc,#11cfbf,#11cec1,#12cec4,#12cdc6,#12cdc9,#12cccb,#12ccce,#13cbd0,#13cbd2,#13cbd4,#13cad5,#13cad7,#13cad8,#13cad8,#13cad9,#13c9d9,#13c9da,#14c9da,#14c9db,#14c9dc,#14c9dc,#14c9dd,#14c8de,#14c8df,#14c8df,#14c8e0,#14c7e0,#15c7e1,#15c6e1,#15c6e1,#15c6e2,#15c6e2,#15c6e2)"></i><i style="background:linear-gradient(90deg,#11d0b9,#11d0bb,#11cfbd,#11cfc0,#12cec3,#12cdc6,#12cdc9,#12cccc,#13cccf,#13cbd2,#13cbd4,#13cad5,#13cad7,#13cad8,#13c9d9,#13c9d9,#14c9da,#14c9db,#14c9db,#14c9db,#14c9dc,#14c9dc,#14c9dd,#14c9dd,#14c8de,#14c8df,#14c8df,#14c8e0,#14c8e0,#14c7e0,#14c7e1,#14c7e1,#14c7e1,#14c7e1)"></i><i style="background:linear-gradient(90deg,#10d1b5,#10d1b6,#11d0b8,#11d0bb,#11cfbf,#12cec3,#12cdc7,#12ccca,#12ccce,#13cbd1,#13cbd3,#13cad5,#13cad7,#13cad8,#13c9d9,#14c9da,#14c9db,#14c9db,#14c9dc,#14c9dc,#14c9dc,#14c9dc,#14c9dc,#14c9dd,#14c9dd,#14c9dd,#14c8de,#14c8de,#14c8de,#14c8df,#14c8df,#14c8df,#14c8df,#14c8df)"></i><i style="background:linear-gradient(90deg,#10d2b0,#10d2b1,#10d1b2,#10d1b6,#11d0ba,#11cfbe,#12cec3,#12cdc8,#12cccc,#13cbd0,#13cbd2,#13cad4,#13cad6,#13cad7,#13c9d9,#14c9da,#14c9db,#14c9db,#14c9dc,#14c9dc,#14c9db,#14c9db,#14c9db,#14c9db,#14c9db,#14c9db,#14c9dc,#14c9dc,#14c9dc,#14c9dc,#14c9dc,#14c9dc,#14c9dc,#14c9dc)"></i><i style="background:linear-gradient(90deg,#10d2ac,#10d2ab,#10d2ac,#10d2af,#10d1b4,#11d0b9,#11cfbf,#12cec5,#12cdca,#12cccd,#13cbd0,#13cbd3,#13cad4,#13cad6,#13cad8,#13c9d9,#14c9da,#14c9db,#14c9db,#14c9db,#14c9da,#13c9da,#13c9d9,#13c9d9,#13cad9,#13cad8,#13cad8,#13cad8,#13cad8,#13cad7,#13cad7,#13cad7,#13cad7,#13cad7)"></i><i style="background:linear-gradient(90deg,#0fd2a6,#0fd2a4,#0fd2a5,#0fd2a9,#10d2ad,#10d1b3,#11d0ba,#11cfc0,#12cdc6,#12ccca,#12ccce,#13cbd0,#13cbd2,#13cad4,#13cad6,#13cad8,#13c9d9,#13c9da,#13c9da,#13c9d9,#13cad8,#13cad7,#13cad6,#13cad6,#13cad5,#13cad4,#13cbd4,#13cbd3,#13cbd3,#13cbd2,#13cbd2,#13cbd2,#13cbd2,#13cbd2)"></i><i style="background:linear-gradient(90deg,#0fd1a0,#0ed19d,#0ed19e,#0fd1a1,#0fd2a6,#10d2ad,#10d1b4,#11d0bb,#11cec2,#12cdc7,#12cdca,#12cccd,#13cbcf,#13cbd2,#13cbd4,#13cad6,#13cad7,#13cad8,#13cad8,#13cad7,#13cad6,#13cad4,#13cbd3,#13cbd2,#13cbd0,#13cbcf,#13ccce,#12ccce,#12cccd,#12cccd,#12cccd,#12cccd,#12cccd,#12cccd)"></i><i style="background:linear-gradient(90deg,#0ed199,#0ed196,#0ed196,#0ed199,#0fd19f,#0fd2a6,#10d2ae,#10d1b5,#11cfbc,#12cec2,#12cdc6,#12cdc9,#12cccc,#13cccf,#13cbd1,#13cbd3,#13cad5,#13cad6,#13cad5,#13cad4,#13cbd3,#13cbd1,#13cccf,#12cccd,#12cccc,#12cdca,#12cdc9,#12cdc8,#12cdc7,#12cdc7,#12cdc7,#12cdc7,#12cdc7,#12cdc7)"></i><i style="background:linear-gradient(90deg,#0ed192,#0dd18e,#0dd18e,#0dd191,#0ed196,#0ed19e,#0fd2a6,#10d2af,#11d1b6,#11cfbd,#11cec1,#12cec5,#12cdc9,#12cccc,#13ccce,#13cbd1,#13cbd2,#13cbd3,#13cbd3,#13cbd1,#13cbd0,#12cccd,#12cccb,#12cdc9,#12cdc7,#12cec5,#12cec4,#12cec2,#11cec2,#11cec1,#11cfc1,#11cfc1,#11cfc1,#11cec1)"></i><i style="background:linear-gradient(90deg,#0dd08a,#0cd085,#0cd085,#0dd088,#0dd18e,#0ed195,#0fd19e,#0fd2a7,#10d2af,#11d1b6,#11cfbc,#11cec1,#12cec5,#12cdc8,#12cccc,#13ccce,#13cbd0,#13cbd0,#13cbd0,#13cccf,#12cccd,#12cdca,#12cdc8,#12cec5,#12cec2,#11cfc0,#11cfbe,#11cfbd,#11cfbc,#11d0bb,#11d0bb,#11d0bb,#11d0bb,#11d0bb)"></i><i style="background:linear-gradient(90deg,#0cd082,#0ccf7d,#0ccf7c,#0cd07f,#0cd085,#0dd18c,#0ed195,#0fd19e,#0fd2a7,#10d2af,#11d1b6,#11cfbc,#11cec1,#12cec5,#12cdc9,#12cccb,#12cccd,#12ccce,#12cccd,#12cccc,#12cdca,#12cdc7,#12cec4,#11cec1,#11cfbe,#11d0bc,#11d0ba,#11d0b8,#11d1b7,#11d1b6,#10d1b6,#10d1b6,#10d1b6,#11d1b6)"></i><i style="background:linear-gradient(90deg,#0cce79,#0ccd74,#0ccd74,#0cce76,#0ccf7c,#0cd083,#0dd08c,#0ed195,#0fd19f,#0fd2a8,#10d2b0,#11d1b7,#11cfbd,#12cec2,#12cdc6,#12cdc9,#12ccca,#12cccb,#12ccca,#12cdc9,#12cdc7,#12cec4,#11cec1,#11cfbe,#11d0bb,#11d0b8,#10d1b6,#10d1b4,#10d1b2,#10d2b1,#10d2b1,#10d2b1,#10d2b1,#10d2b1)"></i><i style="background:linear-gradient(90deg,#0ccc71,#0ccb6c,#0ccb6b,#0ccb6d,#0ccd72,#0cce7a,#0cd083,#0dd18c,#0ed196,#0fd1a0,#0fd2aa,#10d2b2,#11d0b9,#11cfbf,#12cec3,#12cdc6,#12cdc8,#12cdc8,#12cdc8,#12cdc6,#12cec4,#11cec2,#11cfbe,#11d0bb,#11d0b8,#10d1b5,#10d2b2,#10d2b0,#10d2ae,#10d2ad,#10d2ac,#10d2ac,#10d2ac,#10d2ad)"></i><i style="background:linear-gradient(90deg,#0cca69,#0cc964,#0cc963,#0cc965,#0cca6a,#0ccc71,#0cce79,#0cd083,#0dd18e,#0ed199,#0fd1a3,#10d2ad,#10d1b5,#11d0bc,#11cfc0,#12cec3,#12cec5,#12cdc6,#12cec5,#12cec4,#11cec2,#11cfbf,#11d0bc,#11d0b8,#10d1b5,#10d2b1,#10d2af,#10d2ac,#10d2aa,#0fd2a9,#0fd2a8,#0fd2a8,#0fd2a8,#0fd2a9)"></i><i style="background:linear-gradient(90deg,#0cc962,#0cc75d,#0cc75b,#0cc75d,#0cc861,#0cca68,#0ccc71,#0ccf7b,#0cd086,#0dd191,#0ed19d,#0fd2a8,#10d2b1,#11d0b9,#11cfbe,#11cfc1,#12cec2,#12cec3,#12cec3,#11cec2,#11cfc0,#11cfbd,#11d0b9,#10d1b6,#10d2b2,#10d2af,#10d2ac,#0fd2a9,#0fd2a7,#0fd2a6,#0fd2a5,#0fd2a4,#0fd2a5,#0fd2a6)"></i><i style="background:linear-gradient(90deg,#0cc75c,#0cc657,#0cc555,#0cc556,#0cc65a,#0cc860,#0cca68,#0ccd72,#0cd07e,#0dd08a,#0ed197,#0fd1a3,#10d2ae,#10d1b5,#11d0bb,#11cfbe,#11cfc0,#11cfc0,#11cfc0,#11cfbf,#11cfbd,#11d0bb,#11d0b7,#10d1b3,#10d2b0,#10d2ac,#0fd2a9,#0fd2a6,#0fd2a4,#0fd1a3,#0fd1a2,#0fd1a1,#0fd1a2,#0fd1a3)"></i><i style="background:linear-gradient(90deg,#0cc657,#0cc451,#0cc44f,#0cc450,#0cc553,#0cc659,#0cc861,#0ccb6b,#0cce77,#0cd084,#0dd192,#0fd19e,#0fd2aa,#10d2b2,#11d0b8,#11d0bb,#11cfbd,#11cfbe,#11cfbe,#11cfbd,#11d0bb,#11d0b9,#10d1b5,#10d2b1,#10d2ad,#0fd2a9,#0fd2a6,#0fd1a3,#0fd1a1,#0fd1a0,#0fd19f,#0fd19f,#0fd19f,#0fd1a0)"></i><i style="background:linear-gradient(90deg,#0cc554,#0dc34e,#0dc34c,#0dc34c,#0dc34e,#0cc553,#0cc75b,#0cc965,#0ccc71,#0ccf7e,#0dd08c,#0ed199,#0fd2a5,#10d2ae,#10d1b4,#11d0b7,#11d0b9,#11d0ba,#11d0bb,#11d0ba,#11d0b9,#11d1b6,#10d1b3,#10d2af,#10d2ab,#0fd2a7,#0fd1a4,#0fd1a1,#0fd19f,#0ed19d,#0ed19c,#0ed19c,#0ed19c,#0ed19d)"></i><i style="background:linear-gradient(90deg,#0cc451,#0dc34c,#0ec24a,#0ec24a,#0dc34c,#0cc44f,#0cc556,#0cc85f,#0ccb6b,#0cce78,#0dd087,#0ed194,#0fd1a0,#0fd2a9,#10d2af,#10d1b3,#10d1b5,#11d1b7,#11d1b7,#11d1b7,#10d1b6,#10d1b3,#10d2b0,#10d2ac,#0fd2a8,#0fd2a4,#0fd1a1,#0fd19e,#0ed19c,#0ed19b,#0ed19a,#0ed19a,#0ed19a,#0ed19b)"></i><i style="background:linear-gradient(90deg,#0cc450,#0dc34c,#0ec249,#0ec249,#0ec24a,#0dc34d,#0cc452,#0cc75b,#0cca66,#0ccd73,#0cd081,#0dd18f,#0ed19b,#0fd1a4,#0fd2aa,#10d2ae,#10d2b0,#10d2b2,#10d1b3,#10d1b3,#10d2b2,#10d2b0,#10d2ad,#0fd2a9,#0fd2a5,#0fd1a1,#0fd19e,#0ed19c,#0ed19a,#0ed198,#0ed197,#0ed197,#0ed197,#0ed198)"></i><i style="background:linear-gradient(90deg,#0cc450,#0dc34c,#0ec249,#0ec249,#0ec249,#0dc34c,#0cc450,#0cc658,#0cc862,#0ccc6e,#0ccf7b,#0dd089,#0ed194,#0ed19d,#0fd1a3,#0fd2a8,#10d2aa,#10d2ac,#10d2ae,#10d2ae,#10d2ad,#10d2ac,#0fd2a9,#0fd2a5,#0fd1a2,#0fd19e,#0ed19b,#0ed199,#0ed197,#0ed196,#0ed195,#0ed195,#0ed195,#0ed195)"></i><i style="background:linear-gradient(90deg,#0cc452,#0dc34d,#0ec24b,#0ec24a,#0ec24a,#0dc34c,#0cc44f,#0cc555,#0cc85f,#0cca6a,#0ccd76,#0cd082,#0dd18d,#0ed196,#0ed19c,#0fd1a0,#0fd1a3,#0fd2a6,#0fd2a7,#0fd2a8,#0fd2a8,#0fd2a7,#0fd2a4,#0fd1a1,#0ed19e,#0ed19b,#0ed198,#0ed196,#0ed194,#0ed193,#0dd192,#0dd192,#0dd192,#0ed192)"></i><i style="background:linear-gradient(90deg,#0cc554,#0cc44f,#0dc34c,#0ec24b,#0ec24b,#0dc34c,#0cc44f,#0cc554,#0cc75c,#0cc966,#0ccc71,#0ccf7c,#0cd086,#0dd18e,#0ed194,#0ed198,#0ed19c,#0fd19e,#0fd1a1,#0fd1a2,#0fd1a2,#0fd1a2,#0fd1a0,#0ed19d,#0ed19a,#0ed197,#0ed194,#0ed192,#0dd190,#0dd18f,#0dd18f,#0dd18e,#0dd18f,#0dd18f)"></i><i style="background:linear-gradient(90deg,#0cc656,#0cc451,#0dc34e,#0dc34d,#0dc34d,#0dc34e,#0cc44f,#0cc554,#0cc75a,#0cc962,#0ccb6c,#0ccd75,#0cd07e,#0cd086,#0dd08c,#0dd190,#0ed194,#0ed197,#0ed19a,#0ed19b,#0ed19c,#0ed19c,#0ed19b,#0ed198,#0ed196,#0ed193,#0dd191,#0dd18f,#0dd18d,#0dd08c,#0dd08b,#0dd08b,#0dd08b,#0dd08c)"></i><i style="background:linear-gradient(90deg,#0cc659,#0cc554,#0cc451,#0cc44f,#0cc44f,#0cc44f,#0cc450,#0cc554,#0cc659,#0cc860,#0cca67,#0ccc70,#0cce78,#0cd07e,#0cd084,#0dd088,#0dd18c,#0dd190,#0ed193,#0ed195,#0ed196,#0ed196,#0ed196,#0ed194,#0dd192,#0dd18f,#0dd18d,#0dd08b,#0dd089,#0dd088,#0dd087,#0dd087,#0dd087,#0dd087)"></i><i style="background:linear-gradient(90deg,#0cc75a,#0cc657,#0cc554,#0cc552,#0cc451,#0cc451,#0cc552,#0cc554,#0cc658,#0cc75d,#0cc964,#0ccb6b,#0ccc72,#0cce78,#0ccf7d,#0cd081,#0cd085,#0dd089,#0dd08c,#0dd18f,#0dd190,#0dd191,#0dd191,#0dd190,#0dd18e,#0dd08b,#0dd089,#0dd086,#0cd084,#0cd083,#0cd082,#0cd082,#0cd082,#0cd082)"></i><i style="background:linear-gradient(90deg,#0cc75b,#0cc659,#0cc657,#0cc555,#0cc554,#0cc553,#0cc554,#0cc555,#0cc658,#0cc75c,#0cc861,#0cca67,#0ccb6d,#0ccd72,#0cce77,#0ccf7b,#0cd07e,#0cd082,#0cd086,#0dd089,#0dd08b,#0dd18c,#0dd18c,#0dd08b,#0dd08a,#0dd088,#0cd085,#0cd081,#0cd07f,#0ccf7d,#0ccf7c,#0ccf7b,#0ccf7b,#0ccf7c)"></i><i style="background:linear-gradient(90deg,#0cc75b,#0cc75b,#0cc659,#0cc658,#0cc656,#0cc556,#0cc555,#0cc656,#0cc658,#0cc75b,#0cc85f,#0cc964,#0cca69,#0ccb6e,#0ccc72,#0ccd75,#0cce79,#0ccf7c,#0cd080,#0cd083,#0cd086,#0dd087,#0dd088,#0dd088,#0dd086,#0cd084,#0cd080,#0ccf7c,#0cce78,#0ccd75,#0ccd74,#0ccd73,#0ccd73,#0ccd74)"></i><i style="background:linear-gradient(90deg,#0cc75b,#0cc75b,#0cc75a,#0cc659,#0cc658,#0cc657,#0cc657,#0cc657,#0cc658,#0cc75b,#0cc85e,#0cc962,#0cca66,#0ccb6a,#0ccb6d,#0ccc70,#0ccd73,#0cce77,#0ccf7b,#0cd07e,#0cd081,#0cd083,#0cd084,#0cd084,#0cd083,#0cd080,#0ccf7b,#0ccd75,#0ccc6f,#0ccb6c,#0cca6a,#0cca69,#0cca69,#0cca69)"></i><i style="background:linear-gradient(90deg,#0cc75b,#0cc75b,#0cc75b,#0cc75a,#0cc659,#0cc658,#0cc658,#0cc658,#0cc659,#0cc75b,#0cc75d,#0cc861,#0cc964,#0cca67,#0cca6a,#0ccb6c,#0ccc6f,#0ccd72,#0ccd76,#0cce7a,#0ccf7d,#0cd07f,#0cd081,#0cd081,#0cd07f,#0ccf7b,#0ccd75,#0ccb6c,#0cc965,#0cc85f,#0cc75d,#0cc75c,#0cc75c,#0cc75c)"></i><i style="background:linear-gradient(90deg,#0cc65a,#0cc75a,#0cc75b,#0cc75a,#0cc65a,#0cc659,#0cc659,#0cc659,#0cc659,#0cc75b,#0cc75d,#0cc860,#0cc962,#0cc965,#0cca67,#0cca69,#0ccb6b,#0ccc6e,#0ccd72,#0ccd76,#0cce79,#0ccf7c,#0ccf7e,#0cd07e,#0ccf7c,#0cce77,#0ccb6d,#0cc962,#0cc658,#0cc450,#0dc34e,#0dc34d,#0dc34d,#0dc34d)"></i><i style="background:linear-gradient(90deg,#0cc658,#0cc659,#0cc659,#0cc659,#0cc659,#0cc659,#0cc659,#0cc659,#0cc65a,#0cc75b,#0cc75d,#0cc85f,#0cc861,#0cc963,#0cc964,#0cca66,#0cca68,#0ccb6b,#0ccc6f,#0ccd73,#0cce76,#0cce79,#0ccf7b,#0ccf7c,#0cce79,#0ccc72,#0cc965,#0cc556,#0ec24b,#10c044,#11bf41,#11bf40,#11bf40,#11bf41)"></i><i style="background:linear-gradient(90deg,#0cc657,#0cc657,#0cc657,#0cc658,#0cc658,#0cc658,#0cc659,#0cc659,#0cc75a,#0cc75c,#0cc75d,#0cc85e,#0cc860,#0cc861,#0cc962,#0cc964,#0cca66,#0cca69,#0ccb6c,#0ccc70,#0ccd74,#0cce77,#0cce79,#0cce79,#0ccd76,#0ccb6c,#0cc75b,#0ec24a,#12be3e,#15bb36,#16ba32,#17ba31,#17ba31,#17ba32)"></i><i style="background:linear-gradient(90deg,#0cc555,#0cc555,#0cc555,#0cc555,#0cc556,#0cc657,#0cc658,#0cc659,#0cc75a,#0cc75c,#0cc75d,#0cc85e,#0cc85f,#0cc860,#0cc861,#0cc962,#0cc964,#0cca67,#0ccb6b,#0ccc6e,#0ccd72,#0ccd75,#0cce77,#0cce78,#0ccd73,#0cca66,#0cc450,#12be3f,#18b931,#1fb62c,#23b429,#25b329,#25b329,#24b429)"></i><i style="background:linear-gradient(90deg,#0cc553,#0cc552,#0cc452,#0cc552,#0cc553,#0cc555,#0cc657,#0cc659,#0cc75a,#0cc75c,#0cc75d,#0cc75e,#0cc85f,#0cc85f,#0cc860,#0cc861,#0cc963,#0cc966,#0cca69,#0ccb6d,#0ccc71,#0ccd74,#0cce76,#0ccd76,#0ccc70,#0cc85f,#0fc148,#16ba33,#24b429,#2fb023,#35b122,#37b122,#37b122,#36b122)"></i><i style="background:linear-gradient(90deg,#0cc451,#0cc44f,#0cc44f,#0cc450,#0cc451,#0cc553,#0cc555,#0cc657,#0cc65a,#0cc75b,#0cc75d,#0cc75e,#0cc85e,#0cc85f,#0cc860,#0cc861,#0cc962,#0cc965,#0cca68,#0ccb6c,#0ccc70,#0ccd73,#0ccd75,#0ccd74,#0ccb6d,#0cc658,#12be3f,#20b62c,#34b122,#43b21f,#4eb31e,#52b41e,#52b41e,#51b41e)"></i><i style="background:linear-gradient(90deg,#0cc44f,#0dc34e,#0dc34d,#0dc34e,#0cc44f,#0cc450,#0cc553,#0cc556,#0cc658,#0cc75a,#0cc75c,#0cc75d,#0cc85e,#0cc85f,#0cc85f,#0cc860,#0cc862,#0cc964,#0cca68,#0ccb6b,#0ccc6f,#0ccd73,#0ccd75,#0ccd73,#0cca69,#0cc450,#15bb35,#2bb024,#47b21e,#68b91d,#78bc1c,#7ebd1b,#7fbd1b,#7dbd1b)"></i><i style="background:linear-gradient(90deg,#0dc34d,#0dc34c,#0ec24b,#0dc34c,#0dc34d,#0dc34e,#0cc450,#0cc553,#0cc656,#0cc659,#0cc75b,#0cc75d,#0cc75e,#0cc85f,#0cc85f,#0cc860,#0cc862,#0cc964,#0cca67,#0ccb6b,#0ccc6f,#0ccd72,#0ccd74,#0ccd72,#0cca66,#0ec24b,#1bb82f,#3bb121,#6ab91d,#98c218,#b1c714,#b7c914,#b8c914,#b6c814)"></i><i style="background:linear-gradient(90deg,#0ec24b,#0ec24a,#0ec24a,#0ec24a,#0ec24b,#0dc34d,#0dc34e,#0cc451,#0cc554,#0cc657,#0cc65a,#0cc75c,#0cc75e,#0cc85f,#0cc85f,#0cc860,#0cc861,#0cc964,#0cca67,#0ccb6b,#0ccc6f,#0ccd72,#0ccd74,#0ccc71,#0cc963,#10c045,#23b42a,#4db31e,#96c218,#cbcd14,#e3d314,#e8d313,#e8d313,#e7d414)"></i><i style="background:linear-gradient(90deg,#0ec24a,#0fc148,#0fc148,#0fc148,#0ec249,#0ec24b,#0dc34d,#0cc44f,#0cc452,#0cc556,#0cc659,#0cc75c,#0cc75e,#0cc85f,#0cc860,#0cc860,#0cc862,#0cc964,#0cca67,#0ccb6b,#0ccc6f,#0ccd73,#0ccd74,#0ccc71,#0cc860,#11bf40,#2bb025,#69b91d,#c2cb14,#eed011,#f9cb0d,#fac80c,#fac70c,#fac90c)"></i><i style="background:linear-gradient(90deg,#0fc148,#0fc147,#0fc146,#0fc147,#0fc148,#0ec249,#0ec24b,#0dc34e,#0cc450,#0cc554,#0cc658,#0cc75b,#0cc75e,#0cc85f,#0cc860,#0cc861,#0cc862,#0cc964,#0cca67,#0ccb6b,#0ccc6f,#0ccd73,#0ccd74,#0ccc70,#0cc75d,#13bd3b,#35b122,#88bf1a,#e7d314,#fbc20c,#fbbd0c,#fbbd0c,#fbbd0c,#fbbd0c)"></i><i style="background:linear-gradient(90deg,#0fc147,#10c045,#10c045,#10c045,#0fc146,#0fc148,#0ec24a,#0dc34d,#0cc44f,#0cc553,#0cc657,#0cc75b,#0cc75e,#0cc85f,#0cc860,#0cc861,#0cc962,#0cc965,#0cca68,#0ccb6c,#0ccc6f,#0ccd73,#0ccd74,#0ccc6f,#0cc65a,#15bb36,#3eb120,#a9c615,#f6cc0e,#fbbd0c,#fbbd0c,#fbbd0c,#fbbd0c,#fbbd0c)"></i><i style="background:linear-gradient(90deg,#0fc146,#10c044,#10c044,#10c044,#0fc146,#0fc147,#0ec249,#0dc34c,#0cc44f,#0cc552,#0cc657,#0cc75a,#0cc75e,#0cc860,#0cc861,#0cc862,#0cc963,#0cc965,#0cca68,#0ccb6c,#0ccc70,#0ccd73,#0ccd74,#0ccc6e,#0cc657,#17ba32,#47b21e,#c4cc14,#fbbd0c,#fbbd0c,#fbbd0c,#fbbd0c,#fbbd0c,#fbbd0c)"></i><i style="background:linear-gradient(90deg,#10c045,#10c043,#10c043,#10c043,#10c045,#0fc147,#0ec249,#0dc34c,#0cc44f,#0cc552,#0cc656,#0cc75a,#0cc75d,#0cc860,#0cc861,#0cc962,#0cc964,#0cca66,#0cca69,#0ccb6c,#0ccc70,#0ccd73,#0ccd74,#0ccb6d,#0cc554,#1ab82f,#55b51d,#dcd214,#fbbd0c,#fbbd0c,#fbbd0c,#fbbd0c,#fbbd0c,#fbbd0c)"></i><i style="background:linear-gradient(90deg,#10c044,#10c043,#11bf42,#10c043,#10c044,#0fc146,#0ec249,#0dc34c,#0cc44f,#0cc552,#0cc657,#0cc75a,#0cc75d,#0cc860,#0cc862,#0cc963,#0cc965,#0cca67,#0cca6a,#0ccb6d,#0ccc70,#0ccd72,#0ccd73,#0ccb6d,#0cc452,#1db72e,#61b71d,#ead212,#fbbd0c,#fbbd0c,#fbbd0c,#fbbd0c,#fbbd0c,#fbbd0c)"></i><i style="background:linear-gradient(90deg,#10c044,#11bf42,#11bf42,#11bf42,#10c044,#0fc146,#0ec249,#0dc34c,#0cc44f,#0cc553,#0cc657,#0cc75a,#0cc75d,#0cc860,#0cc862,#0cc964,#0cc966,#0cca68,#0ccb6b,#0ccb6d,#0ccc70,#0ccd72,#0ccd73,#0ccb6c,#0cc450,#1fb62c,#6cb91d,#f1ce0f,#fbbd0c,#fbbd0c,#fbbd0c,#fbbd0c,#fbbd0c,#fbbd0c)"></i><i style="background:linear-gradient(90deg,#10c044,#11bf42,#11bf41,#11bf42,#10c044,#0fc146,#0ec249,#0dc34c,#0cc44f,#0cc553,#0cc657,#0cc75a,#0cc75d,#0cc860,#0cc962,#0cc965,#0cca67,#0cca69,#0ccb6b,#0ccb6e,#0ccc70,#0ccd72,#0ccd73,#0ccb6b,#0cc44f,#21b52b,#74bb1c,#f7cb0d,#fbbd0c,#fbbd0c,#fbbd0c,#fbbd0c,#fbbd0c,#fbbd0c)"></i><i style="background:linear-gradient(90deg,#10c044,#11bf42,#11bf41,#11bf42,#10c044,#0fc146,#0ec249,#0dc34d,#0cc450,#0cc554,#0cc658,#0cc75b,#0cc75e,#0cc860,#0cc963,#0cc966,#0cca68,#0ccb6a,#0ccb6c,#0ccc6e,#0ccc70,#0ccd72,#0ccd73,#0ccb6b,#0dc34e,#23b42a,#7cbd1b,#fac70c,#fbbd0c,#fbbd0c,#fbbd0c,#fbbd0c,#fbbd0c,#fbbd0c)"></i><i style="background:linear-gradient(90deg,#10c044,#11bf42,#11bf41,#11bf42,#10c044,#0fc146,#0ec249,#0dc34d,#0cc450,#0cc554,#0cc658,#0cc75b,#0cc85e,#0cc861,#0cc964,#0cca66,#0cca69,#0ccb6b,#0ccb6d,#0ccc6f,#0ccc71,#0ccd73,#0ccd73,#0ccb6b,#0dc34d,#24b429,#83be1a,#fbc30c,#fbbd0c,#fbbd0c,#fbbd0c,#fbbd0c,#fbbd0c,#fbbd0c)"></i><i style="background:linear-gradient(90deg,#10c044,#11bf42,#11bf41,#11bf42,#10c044,#0fc146,#0ec24a,#0dc34d,#0cc450,#0cc555,#0cc658,#0cc75c,#0cc85f,#0cc862,#0cc965,#0cca67,#0cca6a,#0ccb6c,#0ccc6e,#0ccc70,#0ccc72,#0ccd74,#0ccd73,#0ccb6b,#0dc34d,#25b328,#88bf1a,#fbbf0c,#fbbd0c,#fbbd0c,#fbbd0c,#fbbd0c,#fbbd0c,#fbbd0c)"></i><i style="background:linear-gradient(90deg,#10c044,#11bf42,#11bf41,#11bf42,#10c044,#0fc146,#0ec249,#0dc34d,#0cc450,#0cc555,#0cc659,#0cc75d,#0cc860,#0cc963,#0cc966,#0cca68,#0ccb6b,#0ccb6d,#0ccc6f,#0ccc71,#0ccd73,#0ccd75,#0ccd74,#0ccb6b,#0dc34c,#26b328,#8cc019,#fbbd0c,#fbbd0c,#fbbd0c,#fbbd0c,#fbbd0c,#fbbd0c,#fbbd0c)"></i><i style="background:linear-gradient(90deg,#10c044,#11bf42,#11bf42,#11bf42,#10c044,#0fc146,#0ec249,#0dc34c,#0cc450,#0cc554,#0cc659,#0cc75d,#0cc861,#0cc964,#0cca67,#0cca69,#0ccb6b,#0ccb6e,#0ccc70,#0ccd72,#0ccd74,#0ccd76,#0ccd75,#0ccb6c,#0dc34c,#26b328,#8ec019,#fbbd0c,#fbbd0c,#fbbd0c,#fbbd0c,#fbbd0c,#fbbd0c,#fbbd0c)"></i></div>
<svg width="550" height="445" viewBox="0 0 550 445">
<path class="ct" d="M229.4 38.2L227.7 38.3L225.7 38.5L223.2 38.9L220.7 39.3L219.4 39.6L216.9 40.0L214.4 40.5L212.7 40.8L210.7 41.1L208.2 41.5L205.7 41.9L204.5 42.1L202.0 42.5L199.5 42.9L197.1 43.3L195.8 43.5L193.3 44.1L191.5 44.5L189.5 45.1L187.7 45.8L185.8 46.6L184.5 47.3L183.1 48.2L181.4 49.5L179.9 50.7L178.5 51.9L177.2 53.2L176.0 54.4L174.9 55.7L173.9 56.9L173.1 58.1L172.1 60.3L171.6 61.8L171.2 64.3L171.2 66.8L171.3 69.3L171.6 71.7L172.0 74.2L172.2 75.4L172.5 77.9L172.9 80.4L173.3 82.9L173.5 84.1L173.9 86.6L174.2 89.0L174.6 91.4L174.9 92.8L175.8 95.0L176.8 96.5L178.1 97.7L179.6 98.7L180.8 99.3L183.3 100.2L184.5 100.4L187.0 100.9L189.5 101.3L190.9 101.4L193.3 101.6L195.8 101.8L198.3 101.9L200.7 101.9L203.2 102.0L205.7 102.0L208.2 101.9L210.7 101.9L213.2 101.9L215.7 101.9L218.2 101.8L220.7 101.8L223.2 101.8L225.7 101.9L228.2 102.0L229.4 102.0M163.4 23.5L162.1 23.7L159.6 24.1L157.1 24.7L155.9 25.1L154.2 26.0L152.9 27.2L152.2 29.6L152.2 29.9L152.5 32.2L153.4 34.2L154.3 35.9L155.0 37.1L155.9 39.1L156.2 40.8L155.9 42.4L154.9 44.5L154.0 45.8L152.9 47.0L151.9 48.2L150.9 49.5L149.7 51.6L149.0 53.2L148.4 55.7L148.3 56.9L148.3 59.4L148.4 61.3L148.6 63.1L149.0 65.5L149.6 68.0L149.9 69.3L150.6 71.7L151.0 73.0L151.8 75.4L152.2 76.7L152.9 79.2L153.4 80.7L154.1 82.9L154.6 84.5L155.5 86.6L156.0 87.8L157.1 90.3L157.7 91.5L158.4 93.0L159.5 95.2L160.1 96.5L160.9 98.1L162.0 100.2L162.7 101.4L163.5 102.6L164.6 104.0L165.9 105.3L167.1 106.4L169.1 107.6L170.8 108.4L172.1 108.9L174.6 109.6L176.7 110.1L178.3 110.3L180.8 110.6L183.3 110.9L185.8 111.1L188.3 111.2L189.5 111.3L192.0 111.4L194.5 111.6L197.0 111.6L199.5 111.7L202.0 111.8L204.5 111.8L207.0 111.9L209.5 111.9L212.0 111.9L214.4 111.9L216.9 111.9L219.4 111.9L221.9 111.9L224.4 111.9L226.9 111.9L229.4 111.9L229.4 111.9M179.9 26.0L182.1 26.0L183.3 26.2L185.8 27.1L185.8 27.5L184.5 28.7L182.1 29.0L179.6 28.7L178.3 27.9L178.3 26.6L179.9 26.0L179.9 26.0M229.4 186.8L228.2 186.5L225.7 186.1L223.2 185.9L220.7 185.9L218.2 186.1L215.7 186.4L213.7 186.7L212.0 187.1L209.5 187.7L208.2 188.1L205.7 188.9L204.5 189.3L202.0 190.4L200.7 191.0L199.3 191.7L197.2 192.9L195.8 194.0L194.5 195.1L194.2 195.4M109.7 23.5L111.0 24.6L112.3 25.8L113.4 27.2L114.0 28.4L114.7 30.9L114.8 33.4L114.7 35.9L114.7 38.3L114.8 40.0L115.1 42.1L115.9 44.5L116.4 45.8L117.3 47.1L118.5 48.8L119.8 50.2L121.0 51.4L122.3 52.5L123.5 53.5L124.7 54.5L126.1 55.7L127.5 56.9L128.8 58.1L130.0 59.4L131.0 60.6L132.2 62.2L133.5 64.3L134.1 65.5L134.7 66.8L135.8 69.3L136.2 70.5L137.2 72.9L137.7 74.2L138.4 75.8L139.4 77.9L140.0 79.2L140.9 80.9L142.0 82.9L142.7 84.1L143.4 85.4L144.7 87.4L145.8 89.0L146.6 90.3L147.5 91.5L148.4 92.8L149.7 94.5L150.9 96.4L151.7 97.7L152.5 98.9L153.4 100.5L154.6 102.6L155.3 103.9L156.1 105.1L157.1 106.7L158.4 108.4L159.6 109.8L160.9 110.9L162.1 111.9L163.4 112.7L165.3 113.8L167.1 114.5L168.4 115.0L170.8 115.7L173.1 116.3L174.6 116.5L177.1 116.9L179.6 117.3L181.6 117.5L183.3 117.6L185.8 117.8L188.3 118.0L190.8 118.1L193.3 118.2L195.8 118.3L198.3 118.4L200.7 118.4L203.2 118.5L205.7 118.5L208.2 118.5L210.7 118.5L213.2 118.5L215.7 118.5L218.2 118.5L220.7 118.5L223.2 118.5L225.7 118.5L228.2 118.5L229.4 118.5M229.4 171.8L228.2 172.0L225.7 172.3L223.2 172.6L220.7 172.9L218.2 173.1L216.9 173.2L214.4 173.4L212.0 173.6L209.5 173.8L207.0 173.9L204.5 174.1L202.0 174.3L200.7 174.4L198.3 174.6L195.8 174.8L193.3 175.0L190.8 175.2L188.3 175.4L186.5 175.6L184.5 175.8L182.1 176.0L179.6 176.3L177.1 176.5L174.6 176.8L173.3 177.0L170.8 177.3L168.4 177.8L166.8 178.1L164.6 178.7L162.5 179.3L160.9 180.0L159.6 180.6L157.3 181.8L155.9 182.7L154.6 183.5L153.4 184.5L152.2 185.5L150.8 186.7L149.4 188.0L148.1 189.2L146.8 190.5L145.4 191.7L144.1 192.9L142.7 194.2L141.4 195.4L141.4 195.4M91.7 23.5L92.3 25.1L93.4 27.2L94.0 28.4L94.8 29.9L96.1 32.1L96.9 33.4L97.6 34.6L98.6 36.5L99.5 38.3L100.2 39.6L101.1 41.4L102.0 43.3L102.6 44.5L103.6 46.3L104.7 48.2L105.5 49.5L106.4 50.7L107.4 51.9L108.5 53.4L109.8 54.7L111.0 56.0L112.3 57.2L113.5 58.4L114.8 59.5L116.0 60.6L117.4 61.8L118.7 63.1L120.0 64.3L121.2 65.5L122.3 66.8L123.5 68.5L124.7 70.4L125.5 71.7L126.3 73.0L127.2 74.5L128.5 76.5L129.4 77.9L130.3 79.2L131.1 80.4L132.2 82.0L133.5 83.8L134.5 85.3L135.3 86.6L136.2 87.8L137.2 89.2L138.4 90.9L139.7 92.5L140.9 94.0L141.9 95.2L142.9 96.5L143.8 97.7L144.7 98.9L145.9 100.7L147.2 102.6L147.9 103.9L148.6 105.1L149.7 107.0L150.8 108.8L151.5 110.1L152.3 111.3L153.4 112.7L154.6 114.2L155.9 115.5L157.1 116.6L158.4 117.5L160.3 118.7L162.1 119.7L163.4 120.2L165.9 121.1L167.1 121.4L169.6 122.0L171.8 122.4L173.3 122.7L175.8 123.0L178.3 123.2L180.8 123.4L183.3 123.5L185.8 123.6L187.0 123.7L189.5 123.8L192.0 123.8L194.5 123.8L197.0 123.9L199.5 123.9L202.0 123.9L204.5 123.9L207.0 123.9L209.5 123.8L212.0 123.8L214.4 123.8L216.9 123.8L219.4 123.8L221.9 123.8L224.4 123.8L226.9 123.8L229.4 123.9L229.4 123.9M229.4 163.2L228.2 163.3L225.7 163.6L223.2 163.7L220.7 163.8L218.2 163.8L215.7 163.8L213.2 163.6L210.7 163.5L208.2 163.2L207.0 163.1L204.5 162.9L202.0 162.6L199.5 162.3L197.0 162.0L195.8 161.9L193.3 161.7L190.8 161.5L188.3 161.3L185.8 161.2L183.3 161.2L180.8 161.3L178.3 161.4L175.8 161.6L173.3 161.8L171.7 162.0L169.6 162.3L167.1 162.6L164.6 163.0L162.8 163.2L160.9 163.5L158.4 163.9L155.9 164.3L154.6 164.6L152.2 165.1L149.7 165.6L148.4 165.9L145.9 166.7L144.7 167.1L142.2 168.2L140.9 168.8L139.7 169.5L137.7 170.7L136.0 171.8L134.7 172.7L133.5 173.5L132.2 174.4L130.1 175.6L128.5 176.5L127.2 177.0L124.7 178.0L123.5 178.4L121.0 179.2L119.8 179.5L117.3 180.0L114.8 180.5L113.5 180.7L111.0 181.1L108.5 181.6L107.3 181.8L104.8 182.3L102.3 182.9L101.1 183.3L98.6 184.1L97.3 184.6L95.5 185.5L93.6 186.4L92.3 187.0L90.5 188.0L88.6 188.8L87.4 189.4L85.0 190.5L83.6 191.0L82.3 191.7L79.9 192.9L78.6 193.5L77.4 194.3L75.3 195.4L75.3 195.4M31.3 184.7L33.1 184.3L35.0 183.9L37.5 183.6L40.0 183.5L42.5 183.5L45.0 183.7L47.5 183.9L50.0 184.3L51.2 184.4L53.7 184.7L56.2 185.0L58.7 185.2L61.2 185.3L63.7 185.4L66.2 185.5L68.7 185.4L71.2 185.3L73.7 185.0L76.2 184.5L77.4 184.1L79.9 183.1L81.1 182.4L82.4 181.4L83.6 179.8L83.8 178.1L83.0 176.8L81.2 175.6L79.9 175.1L77.7 174.4L76.2 174.1L73.7 173.7L71.2 173.5L68.7 173.4L66.2 173.3L63.7 173.3L61.2 173.4L58.7 173.6L56.2 173.7L53.7 173.9L51.2 174.1L48.7 174.3L47.5 174.4L45.0 174.6L42.5 174.7L40.0 174.8L37.5 174.7L35.0 174.4L33.8 174.3L31.3 174.0L31.3 174.0M53.3 195.4L51.2 194.8L48.7 194.3L47.5 194.0L45.0 193.6L42.5 193.4L40.0 193.4L37.5 193.5L35.0 194.0L33.8 194.3L31.3 195.4L31.3 195.4M78.5 23.5L78.8 24.7L79.6 27.2L80.0 28.4L81.0 30.9L81.5 32.2L82.4 34.2L83.1 35.9L83.6 37.2L84.5 39.6L85.0 40.8L85.7 43.3L86.1 45.2L86.4 47.0L86.4 49.5L86.4 51.9L87.1 54.4L88.6 55.7L89.9 56.4L91.1 57.0L93.2 58.1L94.8 58.9L96.1 59.6L97.8 60.6L99.8 61.8L101.1 62.5L102.3 63.3L104.0 64.3L105.9 65.5L107.3 66.5L108.5 67.3L109.8 68.3L111.1 69.3L112.5 70.5L113.9 71.7L115.2 73.0L116.4 74.2L117.6 75.4L118.8 76.7L120.0 77.9L121.2 79.2L122.4 80.4L123.5 81.6L124.7 83.1L126.0 84.6L127.2 86.2L128.4 87.8L129.2 89.0L130.1 90.3L131.0 91.6L132.2 93.4L133.5 95.1L134.5 96.5L135.5 97.7L136.4 98.9L137.4 100.2L138.4 101.6L139.7 103.4L140.8 105.1L141.5 106.4L142.2 107.6L143.4 110.1L144.0 111.3L144.7 113.0L145.5 115.0L146.0 116.3L147.0 118.7L147.6 120.0L148.4 121.7L149.5 123.7L150.4 124.9L151.4 126.1L152.7 127.4L154.6 128.6L155.9 129.3L157.5 129.9L159.6 130.4L162.1 130.8L164.6 131.0L167.1 131.1L169.6 131.0L172.1 130.9L174.6 130.8L177.1 130.7L179.6 130.5L182.1 130.3L184.5 130.2L187.0 130.0L189.5 129.9L190.8 129.8L193.3 129.7L195.8 129.6L198.3 129.4L200.7 129.4L203.2 129.3L205.7 129.2L208.2 129.1L210.7 129.1L213.2 129.0L215.7 129.0L218.2 129.0L220.7 129.0L223.2 129.0L225.7 129.0L228.2 129.1L229.4 129.1M31.3 62.0L33.8 61.9L36.3 61.8L37.5 61.8L40.0 61.8L42.5 61.8L43.8 61.8L46.3 61.9L48.7 61.9L51.2 62.0L53.7 62.0L56.2 62.0L58.7 62.0L61.2 61.9L63.7 61.9L64.9 61.8L67.4 61.5L69.9 61.1L72.4 60.7L73.7 60.3L76.0 59.4L77.4 58.3L77.8 56.9L76.2 56.0L74.8 55.7L72.4 55.5L69.9 55.4L67.4 55.4L64.9 55.4L62.4 55.5L60.0 55.5L57.5 55.6L55.8 55.7L53.7 55.7L51.2 55.8L48.7 55.9L46.3 56.0L43.8 56.0L41.3 56.0L38.8 56.0L36.3 56.0L33.8 55.9L31.3 55.7L31.3 55.7M229.4 155.6L227.8 155.8L225.7 156.0L223.2 156.2L220.7 156.3L218.2 156.2L215.7 156.2L213.2 156.0L210.7 155.8L209.5 155.7L207.0 155.5L204.5 155.2L202.0 154.8L200.1 154.6L198.3 154.3L195.8 154.0L193.3 153.6L191.6 153.4L189.5 153.0L187.0 152.7L184.5 152.3L183.2 152.1L180.8 151.8L178.3 151.4L175.8 151.1L174.3 150.9L172.1 150.5L169.6 150.1L167.3 149.6L165.9 149.3L163.4 148.7L162.1 148.3L159.6 147.5L158.4 147.2L155.9 146.3L154.6 145.9L152.2 145.1L150.9 144.7L148.4 143.9L146.9 143.5L144.7 142.8L142.9 142.2L140.9 141.5L139.5 141.0L137.2 140.0L136.0 139.4L134.1 138.5L132.2 137.7L131.0 137.1L128.5 136.2L127.2 135.9L124.7 135.3L122.3 134.8L121.0 134.7L118.5 134.4L116.0 134.3L113.5 134.3L111.0 134.3L108.5 134.3L106.1 134.4L103.6 134.5L101.1 134.5L98.6 134.5L96.1 134.4L93.6 134.3L91.1 134.1L88.6 133.8L86.4 133.6L84.9 133.4L82.4 133.1L79.9 132.9L77.4 132.6L75.1 132.3L73.7 132.2L71.2 132.0L68.7 131.8L66.2 131.6L63.7 131.5L61.2 131.3L58.7 131.2L57.3 131.1L55.0 131.0L52.5 130.9L50.0 130.9L47.5 130.8L45.0 130.8L42.5 130.8L40.0 130.8L37.5 130.8L35.0 130.8L32.5 130.9L31.3 130.9M31.3 34.3L33.8 33.9L36.3 33.7L38.8 33.5L41.3 33.4L42.5 33.4L45.0 33.4L46.5 33.4L48.7 33.5L51.2 33.8L53.7 34.4L55.0 34.8L57.3 35.9L58.7 37.0L59.6 38.3L60.0 39.6L59.8 40.8L58.7 42.3L57.5 43.3L55.0 44.5L53.7 44.8L51.2 45.4L49.4 45.8L47.5 46.0L45.0 46.2L42.5 46.3L40.0 46.3L37.5 46.1L35.0 45.8L33.8 45.6L31.3 44.9L31.3 44.9M31.3 70.4L33.8 70.3L36.3 70.2L38.8 70.2L41.3 70.2L43.8 70.2L46.3 70.2L48.7 70.3L51.2 70.3L53.7 70.4L56.1 70.5L57.5 70.5L60.0 70.6L62.4 70.7L64.9 70.8L67.4 70.8L69.9 70.9L72.4 70.9L74.9 70.9L77.4 70.9L79.9 70.9L82.4 70.8L84.9 70.8L87.4 70.9L89.9 71.0L92.3 71.2L94.8 71.5L96.1 71.8L98.6 72.4L100.2 73.0L102.3 73.8L103.6 74.3L105.7 75.4L107.3 76.3L108.5 77.1L109.8 77.9L111.6 79.2L113.3 80.4L114.8 81.6L116.0 82.6L117.3 83.8L118.5 85.1L119.8 86.5L120.8 87.8L121.6 89.0L122.4 90.3L123.5 92.2L124.5 94.0L125.1 95.2L126.0 96.9L127.1 98.9L127.8 100.2L128.5 101.4L129.7 103.5L130.6 105.1L131.2 106.4L132.2 108.7L132.6 110.1L132.9 112.5L132.5 115.0L132.0 116.3L131.0 117.7L129.7 118.8L127.9 120.0L126.0 120.8L124.7 121.2L122.3 121.8L119.8 122.3L118.5 122.5L116.0 122.7L113.5 122.9L111.0 123.1L108.5 123.2L106.1 123.3L103.6 123.3L101.1 123.3L98.6 123.4L96.1 123.4L93.6 123.3L91.1 123.3L88.6 123.3L86.1 123.3L83.6 123.3L81.1 123.2L78.6 123.2L76.2 123.2L73.7 123.1L71.2 123.1L68.7 123.1L66.2 123.0L63.7 123.0L61.2 123.0L58.7 122.9L56.2 122.9L53.7 122.9L51.2 122.9L48.7 122.9L46.3 122.8L43.8 122.8L41.3 122.8L38.8 122.8L36.3 122.8L33.8 122.9L31.3 122.9L31.3 122.9M229.4 146.5L227.3 147.2L225.7 147.5L223.2 147.9L220.7 148.0L218.2 148.0L215.7 147.9L213.2 147.7L210.7 147.3L209.5 147.1L207.0 146.5L205.2 145.9L203.2 145.1L202.0 144.5L200.5 143.5L199.5 141.6L199.5 140.8L200.7 139.2L202.0 138.4L204.5 137.5L205.7 137.1L208.2 136.6L210.7 136.3L212.5 136.0L214.4 135.9L216.9 135.8L219.4 135.7L221.9 135.8L224.4 136.0L225.7 136.1L228.2 136.5L229.4 136.8M31.3 75.0L33.8 74.9L36.3 74.9L38.8 74.8L41.3 74.8L43.8 74.8L46.3 74.9L48.7 74.9L51.2 74.9L53.7 75.0L56.2 75.1L58.7 75.1L61.2 75.2L63.7 75.3L66.2 75.4L67.5 75.4L69.9 75.5L72.4 75.6L74.9 75.7L77.4 75.8L79.9 75.9L82.4 76.0L84.9 76.2L87.4 76.4L89.7 76.7L91.1 76.9L93.6 77.3L96.0 77.9L97.3 78.3L99.8 79.1L101.1 79.6L102.7 80.4L104.8 81.5L106.1 82.2L107.3 83.0L108.9 84.1L110.4 85.3L111.7 86.6L112.9 87.8L113.8 89.0L114.8 90.6L115.8 92.8L116.3 94.0L117.0 96.5L117.3 97.7L117.7 100.2L117.8 102.6L117.6 105.1L117.3 106.4L116.1 108.8L115.0 110.1L113.5 111.3L112.3 112.1L111.0 112.7L108.5 113.6L107.3 113.9L104.8 114.5L102.3 114.9L101.1 115.1L98.6 115.3L96.1 115.5L93.6 115.6L91.1 115.7L88.6 115.7L86.1 115.7L83.6 115.7L81.1 115.7L78.6 115.7L76.2 115.7L73.7 115.8L71.2 115.8L68.7 115.8L66.2 115.9L63.7 116.0L61.2 116.0L58.7 116.1L56.2 116.2L53.7 116.2L51.6 116.3L50.0 116.3L47.5 116.3L45.0 116.4L42.5 116.4L40.0 116.4L37.5 116.4L35.0 116.3L32.5 116.3L31.3 116.2L31.3 116.2M31.3 78.6L33.8 78.5L36.3 78.5L38.8 78.5L41.3 78.5L43.8 78.5L46.3 78.5L48.7 78.5L51.2 78.5L53.7 78.6L56.2 78.6L58.7 78.6L61.2 78.7L63.7 78.8L66.2 78.8L68.7 78.9L71.2 79.0L73.7 79.1L74.9 79.2L77.4 79.4L79.9 79.6L82.4 79.8L84.9 80.1L86.8 80.4L88.6 80.7L91.1 81.3L92.5 81.6L94.8 82.4L96.2 82.9L98.6 83.9L99.8 84.5L101.2 85.3L103.0 86.6L104.4 87.8L105.6 89.0L106.5 90.3L107.3 91.7L108.1 94.0L108.5 96.5L108.3 98.9L107.4 101.4L106.6 102.6L105.5 103.9L104.1 105.1L102.3 106.2L101.1 106.8L99.1 107.6L97.3 108.1L94.8 108.7L93.6 108.9L91.1 109.3L88.6 109.5L86.1 109.7L83.6 109.9L81.1 110.0L79.9 110.1L77.4 110.2L74.9 110.3L72.4 110.4L69.9 110.5L67.4 110.6L64.9 110.7L62.4 110.8L60.0 110.8L57.5 110.9L55.0 111.0L52.5 111.1L50.0 111.1L47.5 111.2L45.0 111.2L42.5 111.2L40.0 111.2L37.5 111.2L35.0 111.1L32.5 111.1L31.3 111.0M31.3 81.7L33.8 81.8L36.3 81.8L38.8 81.8L41.3 81.8L43.8 81.8L46.3 81.8L48.7 81.8L51.2 81.7L53.7 81.7L56.2 81.7L58.7 81.7L61.2 81.8L63.7 81.8L66.2 81.9L68.7 82.0L71.2 82.1L73.7 82.2L76.2 82.5L78.6 82.7L79.9 82.9L82.4 83.3L84.9 83.8L86.3 84.1L88.6 84.8L90.3 85.3L92.3 86.2L93.6 86.8L95.2 87.8L96.8 89.0L98.0 90.3L98.8 91.5L99.8 93.9L100.0 95.2L99.8 96.9L99.1 98.9L98.1 100.2L96.8 101.4L94.9 102.6L93.6 103.3L92.0 103.9L89.9 104.6L87.5 105.1L86.1 105.4L83.6 105.8L81.1 106.1L78.6 106.4L77.4 106.5L74.9 106.7L72.4 106.8L69.9 106.9L67.4 107.0L64.9 107.1L62.4 107.2L60.0 107.3L57.5 107.3L55.0 107.4L52.5 107.4L50.0 107.4L47.5 107.5L45.0 107.5L42.5 107.5L40.0 107.5L37.5 107.5L35.0 107.4L32.5 107.4L31.3 107.4M31.3 85.0L33.8 85.1L36.3 85.2L38.8 85.2L41.3 85.2L43.8 85.2L46.3 85.1L48.7 85.1L51.2 85.0L53.7 85.0L56.2 84.9L58.7 84.9L61.2 84.9L63.7 84.9L66.2 85.0L68.7 85.1L71.2 85.2L72.6 85.3L74.9 85.6L77.4 86.0L79.9 86.5L81.1 86.8L83.6 87.5L84.9 88.0L87.0 89.0L88.6 90.2L89.9 91.3L90.8 92.8L91.3 94.0L91.1 96.5L90.5 97.7L89.3 98.9L87.5 100.2L86.1 100.8L84.6 101.4L82.4 102.0L79.9 102.6L78.6 102.8L76.2 103.2L73.7 103.5L71.2 103.7L68.7 103.9L67.4 104.0L64.9 104.1L62.4 104.1L60.0 104.2L57.5 104.2L55.0 104.2L52.5 104.2L50.0 104.2L47.5 104.2L45.0 104.2L42.5 104.2L40.0 104.2L37.5 104.2L35.0 104.2L32.5 104.2L31.3 104.2M31.3 88.9L32.8 89.0L35.0 89.3L37.5 89.4L40.0 89.5L42.5 89.4L45.0 89.4L47.5 89.2L50.0 89.1L51.2 89.0L53.7 88.9L56.2 88.7L58.7 88.7L61.2 88.6L63.7 88.6L66.2 88.7L68.7 88.9L70.6 89.0L72.4 89.3L74.9 89.9L76.3 90.3L78.6 91.4L79.9 92.3L81.1 94.0L81.2 95.2L80.7 96.5L79.2 97.7L77.4 98.6L76.2 99.0L73.7 99.6L71.2 100.1L69.9 100.2L67.4 100.5L64.9 100.6L62.4 100.7L60.0 100.7L57.5 100.7L55.0 100.7L52.5 100.7L50.0 100.6L47.5 100.5L45.0 100.5L42.5 100.4L40.0 100.4L37.5 100.4L35.0 100.5L32.5 100.6L31.3 100.7"/>
<path class="ct" d="M419.4 23.5L419.1 26.0L419.0 28.4L419.1 30.9L419.2 33.4L419.3 35.9L419.3 38.3L418.9 40.8L418.6 42.1L417.7 43.7L416.4 45.4L415.2 46.8L414.0 48.2L412.7 49.5L411.6 50.7L410.5 51.9L409.4 53.2L408.3 54.4L407.2 55.7L406.0 56.9L404.7 58.1L403.4 59.4L402.2 60.6L401.1 61.8L400.1 63.1L399.0 64.7L397.9 66.8L397.6 68.0L397.3 70.5L397.8 72.8L398.4 74.2L399.2 75.4L400.2 76.7L401.6 77.9L403.3 79.2L405.2 80.4L406.5 81.1L407.7 81.8L409.6 82.9L411.5 83.8L412.7 84.4L414.7 85.3L416.4 86.0L418.0 86.6L420.2 87.2L422.7 87.8L423.9 88.0L426.4 88.2L428.9 88.3L431.4 88.3L433.9 88.2L436.4 88.1L438.9 88.0L441.4 87.9L443.9 87.9L446.4 87.9L448.9 87.9L451.4 87.9L453.8 88.0L456.3 88.0L458.8 87.9L461.3 87.9L463.8 87.8L465.1 87.8L467.6 87.8L469.0 87.8L471.3 87.9L473.8 88.0L476.3 88.2L478.8 88.5L481.3 88.9L482.5 89.1L485.0 89.5L487.5 90.0L489.1 90.3L491.2 90.6L493.7 91.1L496.2 91.5L497.5 91.6L500.0 91.9L502.5 92.1L505.0 92.2L506.2 92.2M390.6 23.5L391.5 25.0L392.4 27.2L392.5 29.7L391.8 32.2L391.1 33.4L390.3 34.7L389.0 36.2L387.8 37.5L386.5 38.7L385.3 40.0L384.0 41.2L382.8 42.4L381.5 43.6L380.3 44.8L379.1 46.0L377.8 47.1L376.6 48.2L375.1 49.5L373.7 50.7L372.3 51.9L371.0 53.2L369.7 54.4L368.4 55.7L367.3 56.9L366.2 58.1L365.1 59.4L364.1 60.6L362.8 62.4L361.7 64.3L361.1 65.5L360.4 67.4L359.9 69.3L359.7 71.7L360.0 74.2L360.4 75.6L361.3 77.9L362.1 79.2L362.9 80.4L364.1 81.9L365.3 83.3L366.6 84.5L367.8 85.7L369.1 86.7L370.5 87.8L372.3 89.0L374.1 90.1L375.3 90.8L376.7 91.5L379.1 92.6L380.3 93.1L382.8 94.0L384.0 94.4L386.5 95.2L387.8 95.6L390.3 96.3L391.5 96.7L394.0 97.4L395.3 97.8L397.8 98.5L399.3 98.9L401.5 99.5L404.0 100.1L405.2 100.4L407.7 100.9L410.2 101.3L411.5 101.5L414.0 101.9L416.4 102.1L418.9 102.3L421.4 102.5L423.9 102.6L425.2 102.7L427.7 102.7L430.2 102.7L432.7 102.7L435.1 102.7L437.6 102.7L440.1 102.7L441.4 102.6L443.9 102.6L446.4 102.6L448.9 102.5L451.4 102.5L453.8 102.5L456.3 102.5L458.8 102.5L461.3 102.6L462.6 102.6L465.1 102.7L467.6 102.9L470.1 103.0L472.5 103.1L475.0 103.3L477.5 103.5L480.0 103.7L482.5 103.9L483.8 104.0L486.3 104.2L488.7 104.5L491.2 104.8L493.5 105.1L495.0 105.4L497.5 105.9L499.4 106.4L501.2 106.9L502.9 107.6L505.0 108.7L506.2 109.4L506.2 109.4M365.4 23.5L364.5 24.7L363.7 26.0L362.8 27.8L362.2 29.7L361.6 31.6L361.1 33.4L360.6 35.9L360.3 37.1L359.6 39.6L359.1 41.1L358.3 43.3L357.8 44.5L356.6 46.9L356.0 48.2L355.4 49.5L354.2 51.9L353.7 53.2L352.9 55.1L352.2 56.9L351.6 58.4L350.9 60.6L350.4 62.1L349.8 64.3L349.2 66.8L348.9 68.0L348.4 70.5L348.1 73.0L348.0 75.4L348.3 77.9L348.9 80.4L349.4 81.6L350.4 84.1L350.9 85.3L351.6 86.9L352.6 89.0L353.1 90.3L354.1 92.2L355.4 94.0L356.5 95.2L357.9 96.3L359.1 97.1L360.4 97.9L362.7 98.9L364.1 99.5L366.1 100.2L367.8 100.7L370.1 101.4L371.6 101.8L374.1 102.4L375.3 102.7L377.8 103.3L380.3 103.8L381.5 104.1L384.0 104.6L386.5 105.1L387.8 105.3L390.3 105.9L392.5 106.4L394.0 106.7L396.5 107.3L398.0 107.6L400.2 108.1L402.7 108.6L404.0 108.9L406.5 109.3L409.0 109.8L411.0 110.1L412.7 110.3L415.2 110.6L417.7 110.9L420.2 111.1L422.7 111.3L423.9 111.3L426.4 111.4L428.9 111.4L431.4 111.4L433.9 111.4L436.4 111.3L438.0 111.3L440.1 111.3L442.6 111.2L445.1 111.2L447.6 111.2L450.1 111.2L452.6 111.3L453.8 111.4L456.3 111.5L458.8 111.8L461.3 112.2L463.6 112.5L465.1 112.8L467.6 113.3L470.0 113.8L471.3 114.0L473.8 114.6L475.8 115.0L477.5 115.4L480.0 116.1L481.3 116.5L483.8 117.3L485.0 117.8L487.0 118.7L488.7 119.7L490.0 120.4L491.3 121.2L493.2 122.4L494.9 123.7L496.2 124.7L497.5 125.6L498.7 126.6L500.0 127.6L501.4 128.6L503.3 129.9L505.0 130.8L506.2 131.0M506.2 137.4L505.5 139.7L506.2 141.6L506.2 141.6M506.2 168.2L505.0 168.3L502.5 168.8L500.4 169.4L498.7 170.1L497.4 170.7L495.0 171.8L493.7 172.3L491.7 173.1L490.0 173.8L488.4 174.4L486.3 175.2L485.0 175.6L482.5 176.7L481.3 177.3L479.8 178.1L478.1 179.3L476.8 180.6L475.6 181.8L474.6 183.0L473.5 184.3L472.1 185.5L470.1 186.6L468.8 187.1L466.3 187.8L465.1 188.1L462.6 189.0L461.3 189.6L459.9 190.5L458.5 191.7L457.6 192.9L456.7 195.4L456.7 195.4M346.7 23.5L346.8 26.0L346.7 28.4L346.6 29.7L346.3 32.2L345.9 34.6L345.4 36.7L345.0 38.3L344.4 40.8L344.1 42.1L343.5 44.5L342.9 47.0L342.7 48.2L342.1 50.7L341.7 52.9L341.3 54.4L340.8 56.9L340.4 58.5L339.9 60.6L339.3 63.1L338.9 64.3L338.0 66.8L337.4 68.0L336.7 69.6L335.5 71.7L334.8 73.0L334.1 74.2L333.2 76.7L333.0 79.2L333.6 81.6L334.2 82.9L335.4 85.3L335.9 86.6L336.7 88.7L336.9 90.3L337.3 92.8L337.9 94.7L338.8 96.5L339.9 97.7L341.3 98.9L342.9 100.0L344.1 100.7L345.6 101.4L347.9 102.5L349.1 103.0L351.5 103.9L352.9 104.4L354.9 105.1L356.6 105.7L358.6 106.4L360.4 106.9L362.4 107.6L364.1 108.2L366.1 108.8L367.8 109.4L369.7 110.1L371.6 110.7L373.4 111.3L375.3 111.9L377.4 112.5L379.1 113.0L381.5 113.7L382.8 114.0L385.3 114.6L387.0 115.0L389.0 115.5L391.5 116.1L392.8 116.4L395.3 117.0L397.0 117.5L399.0 118.0L401.5 118.7L402.7 119.0L405.2 119.7L406.5 120.0L409.0 120.7L411.3 121.2L412.7 121.5L415.2 121.9L417.7 122.2L420.1 122.4L421.4 122.5L423.9 122.6L426.4 122.7L428.9 122.7L431.4 122.8L433.9 122.8L436.4 122.9L438.9 123.1L441.4 123.5L442.6 123.7L445.1 124.3L447.4 124.9L448.9 125.3L451.4 126.0L452.6 126.3L455.1 126.8L457.6 127.2L459.1 127.4L461.3 127.7L463.8 128.0L466.3 128.3L467.7 128.6L470.1 129.3L471.4 129.9L473.3 131.1L474.4 132.3L475.0 133.6L475.3 136.0L475.0 137.4L474.2 139.7L473.6 141.0L472.5 142.7L471.3 144.4L470.1 145.9L469.0 147.2L467.8 148.4L466.5 149.6L465.1 150.9L463.8 151.8L462.6 152.7L461.3 153.5L459.5 154.6L457.6 155.5L456.3 156.1L454.2 157.1L452.6 157.8L451.4 158.3L448.9 159.4L447.6 160.0L445.8 160.8L443.9 161.6L442.6 162.2L440.1 163.2L438.9 163.6L436.4 164.4L435.1 164.8L432.7 165.5L431.4 165.8L428.9 166.3L426.4 166.9L425.2 167.2L422.7 167.8L421.3 168.2L418.9 168.9L417.5 169.4L415.2 170.3L414.0 170.8L411.5 171.9L410.2 172.4L408.7 173.1L406.5 174.2L405.2 174.8L403.7 175.6L401.5 176.7L400.2 177.4L399.0 178.2L397.2 179.3L395.5 180.6L394.0 181.7L392.8 182.8L391.5 183.9L390.3 184.9L389.0 185.9L387.8 186.9L386.1 188.0L384.1 189.2L382.8 190.0L381.5 190.7L379.7 191.7L377.8 192.8L376.6 193.6L375.3 194.5L374.1 195.4M334.1 23.5L334.2 24.7L334.4 27.2L334.5 29.7L334.5 32.2L334.3 34.6L334.2 36.1L333.9 38.3L333.4 40.8L332.9 42.7L332.3 44.5L331.7 46.0L330.4 48.1L329.3 49.5L328.1 50.7L326.7 51.8L325.5 52.5L324.1 53.2L321.7 54.0L320.3 54.4L318.0 54.9L315.5 55.2L313.0 55.5L310.5 55.6L309.2 55.7L308.0 55.7M308.0 107.3L310.5 107.4L313.0 107.5L315.5 107.5L318.0 107.5L320.5 107.6L321.8 107.6L324.2 107.7L326.7 107.8L329.2 107.9L331.7 108.1L334.2 108.3L336.7 108.7L337.9 108.9L340.4 109.3L342.9 109.9L344.1 110.2L346.6 110.9L347.9 111.3L350.4 112.3L351.6 112.8L353.7 113.8L355.4 114.7L356.6 115.5L357.9 116.4L359.3 117.5L360.7 118.7L361.9 120.0L362.9 121.2L364.1 122.9L365.3 124.7L366.4 126.1L367.5 127.4L369.0 128.6L370.3 129.4L371.6 130.0L374.1 130.9L375.3 131.3L377.8 132.1L379.1 132.4L381.5 133.1L383.2 133.6L385.3 134.1L387.8 134.7L389.0 134.9L391.5 135.4L394.0 135.9L395.3 136.0L397.8 136.4L400.2 136.6L402.7 136.8L405.2 137.0L407.7 137.2L409.0 137.3L411.5 137.6L414.0 137.9L416.4 138.3L417.7 138.5L420.2 139.4L421.4 139.9L423.0 141.0L424.0 142.2L424.0 144.7L423.1 145.9L421.8 147.2L420.2 148.2L418.9 148.9L417.5 149.6L415.2 150.5L414.0 151.0L411.5 151.6L409.2 152.1L407.7 152.3L405.2 152.6L402.7 152.7L400.2 152.7L397.8 152.7L395.3 152.6L392.8 152.5L390.3 152.4L387.8 152.5L385.3 152.6L382.8 152.8L380.3 152.9L377.8 152.8L375.3 152.6L372.8 152.2L371.6 151.8L369.1 151.0L367.8 150.4L366.1 149.6L364.1 148.7L362.8 148.1L360.8 147.2L359.1 146.4L357.9 145.9L355.4 144.9L354.1 144.5L351.6 143.7L350.4 143.3L347.9 142.7L345.6 142.2L344.1 142.0L341.7 141.7L339.2 141.6L336.7 141.5L334.2 141.5L331.7 141.5L329.2 141.6L326.7 141.6L324.2 141.7L321.7 141.8L319.2 141.8L316.7 141.9L314.2 141.9L311.7 141.8L309.2 141.8L308.0 141.7M321.3 23.5L320.5 25.6L320.1 27.2L320.2 29.7L320.5 31.1L320.9 33.4L321.2 35.9L321.1 38.3L320.5 40.7L319.6 42.1L318.3 43.3L316.7 44.1L314.8 44.5L313.7 44.5L311.7 44.1L310.4 43.3L309.2 41.8L308.4 39.6L308.0 37.2L308.0 37.2M308.0 34.3L308.2 32.2L308.5 29.7L308.6 27.2L308.3 24.7L308.0 23.5M308.0 115.7L310.5 115.6L313.0 115.5L315.5 115.4L318.0 115.4L320.5 115.4L323.0 115.4L325.5 115.6L327.9 115.7L330.4 116.0L331.9 116.3L334.2 116.7L336.7 117.4L337.9 118.0L339.4 118.7L340.8 120.0L341.5 122.4L340.4 124.3L339.2 125.3L337.7 126.1L335.4 127.0L334.2 127.4L331.7 128.0L329.2 128.4L326.9 128.6L325.5 128.7L323.0 128.9L320.5 129.0L318.0 129.0L315.5 129.0L313.0 129.0L310.5 128.9L308.0 128.8L308.0 128.8"/>
<path class="ct" d="M202.0 244.8L203.3 245.7L204.6 246.5L205.9 247.3L207.7 248.5L208.3 249.7L207.4 251.0L205.8 251.7L204.6 252.3L202.1 253.0L200.2 253.5L198.3 253.9L195.8 254.3L193.7 254.7L192.1 254.9L189.6 255.2L187.1 255.5L184.6 255.6L182.1 255.6L179.6 255.5L177.1 255.5L174.7 255.5L172.2 255.7L170.2 255.9L168.4 256.1L165.9 256.1L164.5 255.9L162.4 254.7L161.5 253.5L160.8 252.2L159.7 250.4L158.4 248.9L157.2 248.0L154.7 247.4L152.9 248.5L152.2 249.9L152.0 252.2L152.2 254.6L152.6 255.9L153.2 258.4L153.0 260.9L152.2 262.1L151.0 263.4L149.5 264.6L147.9 265.8L146.5 267.1L145.3 268.3L144.4 269.5L143.5 271.3L142.7 273.2L142.2 274.5L141.4 277.0L141.0 278.4L140.3 280.7L139.7 283.1L139.5 284.4L139.2 286.8L139.1 289.3L139.3 291.8L139.6 294.3L139.7 295.6L140.1 298.0L140.4 300.5L140.6 302.9L140.8 305.4L141.0 306.9L141.4 309.1L142.1 311.6L142.6 312.8L143.5 314.6L144.7 316.4L146.0 317.7L147.2 318.8L148.5 319.8L149.7 320.6L151.5 321.5L153.5 322.2L155.5 322.7L157.2 322.9L159.7 322.8L160.9 322.5L163.4 321.9L164.7 321.4L167.2 320.4L168.4 319.8L170.2 319.0L172.2 318.1L173.4 317.5L175.4 316.5L177.1 315.6L178.4 315.0L180.3 314.1L182.1 313.1L183.4 312.4L185.0 311.6L187.1 310.4L188.4 309.7L189.6 309.0L191.3 307.9L193.1 306.6L194.6 305.6L195.8 304.7L197.1 304.0L199.4 302.9L200.8 302.4L203.3 301.8L204.6 301.6L207.1 301.3L209.6 301.1L212.0 301.0L214.5 301.0L217.0 300.9L219.5 300.9L222.0 300.9L224.5 300.8L227.0 300.7L229.5 300.5L229.5 300.5M229.5 250.0L228.3 249.6L225.9 248.5L224.9 247.3L225.0 244.8L225.0 244.8M127.1 244.8L126.4 247.3L126.2 249.7L126.4 252.2L126.9 254.7L127.3 256.0L128.0 258.4L128.5 260.7L128.8 262.1L129.1 264.6L129.2 267.1L129.0 269.5L128.7 272.0L128.5 273.5L128.3 275.7L128.1 278.2L128.1 280.7L128.2 283.1L128.3 285.6L128.3 288.1L128.2 290.6L128.1 293.0L128.0 295.5L128.1 298.0L128.3 300.5L128.5 301.7L129.1 304.2L129.7 306.6L130.0 307.9L130.7 310.3L131.0 311.6L131.8 314.1L132.3 315.4L133.3 317.8L134.0 319.0L134.8 320.3L136.0 322.2L137.3 323.8L138.4 325.2L139.5 326.4L140.6 327.7L141.9 328.9L143.3 330.1L144.7 331.2L146.0 332.0L147.2 332.7L149.7 333.8L151.0 334.2L153.5 334.8L154.9 335.1L157.2 335.3L159.7 335.2L161.1 335.1L163.4 334.7L165.9 334.0L167.2 333.6L169.7 332.7L170.9 332.2L172.9 331.4L174.7 330.7L176.0 330.1L178.4 329.1L179.6 328.6L181.9 327.7L183.4 326.9L184.6 326.3L186.9 325.2L188.4 324.4L189.6 323.8L191.8 322.7L193.4 322.0L194.6 321.5L197.1 320.5L198.3 320.1L200.8 319.3L202.1 318.9L204.6 318.3L206.7 317.8L208.3 317.4L210.8 316.9L212.9 316.5L214.5 316.2L217.0 315.9L219.5 315.5L221.9 315.3L223.3 315.2L225.8 315.0L228.3 314.9L229.5 314.9M229.5 416.7L227.0 416.0L224.5 415.8L222.0 416.4L221.4 416.7M113.1 244.8L113.1 247.3L113.2 249.7L113.4 252.2L113.6 253.6L113.9 255.9L114.4 258.4L114.8 260.6L115.1 262.1L115.6 264.6L115.8 267.1L115.9 269.5L115.8 272.0L115.9 274.5L116.1 275.7L116.7 278.2L117.3 280.3L117.7 281.9L118.2 284.4L118.4 286.8L118.4 289.3L118.1 291.8L117.8 294.3L117.4 296.7L117.3 299.2L117.5 301.7L118.0 304.2L118.6 306.4L119.0 307.9L119.7 310.3L120.1 311.6L120.9 314.1L121.4 315.3L122.3 317.4L123.2 319.0L124.0 320.2L124.9 321.5L126.0 322.9L127.3 324.4L128.5 325.9L129.8 327.3L131.0 328.8L132.1 330.1L133.0 331.4L134.0 332.6L135.1 333.8L136.2 335.1L137.5 336.3L139.0 337.6L140.7 338.8L142.2 339.8L143.5 340.4L145.3 341.3L147.2 342.0L148.8 342.5L151.0 343.0L153.5 343.5L156.0 343.7L157.2 343.7L158.6 343.7L160.9 343.6L163.4 343.2L165.9 342.7L167.2 342.3L169.7 341.5L170.9 341.0L173.4 340.0L174.7 339.6L176.8 338.8L178.4 338.3L180.6 337.6L182.1 337.1L184.6 336.3L185.9 335.9L188.4 335.2L189.6 334.8L192.1 334.0L193.4 333.5L195.8 332.7L197.1 332.2L199.6 331.4L200.8 330.9L203.2 330.1L204.6 329.7L207.0 328.9L208.3 328.5L210.8 327.9L212.0 327.6L214.5 327.1L217.0 326.7L219.5 326.5L220.8 326.4L223.3 326.3L225.8 326.3L228.3 326.4L229.5 326.5L229.5 326.5M229.5 377.0L227.0 376.3L224.5 375.9L223.3 375.8L220.8 375.8L219.5 376.0L217.0 376.5L214.8 377.1L213.3 377.7L211.6 378.4L209.6 379.3L208.3 379.9L206.3 380.8L204.6 381.7L203.3 382.4L201.7 383.3L199.9 384.5L198.5 385.8L197.3 387.0L196.5 388.3L195.8 389.5L194.9 392.0L194.5 393.2L193.8 395.7L193.4 397.1L192.5 399.4L192.1 400.6L191.1 403.1L190.6 404.3L189.6 406.8L189.1 408.0L188.4 409.9L187.6 411.8L187.1 413.0L186.0 415.5L185.5 416.7L185.5 416.7M83.4 244.8L83.5 247.3L83.7 248.5L84.4 251.0L84.9 252.6L85.9 254.7L86.6 255.9L87.4 257.2L88.6 258.8L89.9 260.4L91.1 262.1L92.0 263.4L92.7 264.6L93.6 266.4L94.4 268.3L94.9 269.7L95.6 272.0L96.1 273.7L96.8 275.7L97.4 277.0L98.6 279.3L99.7 280.7L100.8 281.9L102.2 283.1L103.6 284.3L104.8 285.5L106.1 286.8L106.7 288.1L107.0 290.6L106.6 293.0L106.1 294.8L105.6 296.7L105.4 299.2L105.7 301.7L106.1 303.1L106.8 305.4L107.3 306.7L108.3 309.1L108.8 310.3L109.8 312.8L110.3 314.1L111.1 315.9L111.9 317.8L112.5 319.0L113.6 321.1L114.6 322.7L115.4 323.9L116.3 325.2L117.3 326.4L118.6 328.0L119.8 329.5L121.1 331.2L122.0 332.6L122.7 333.8L123.5 335.4L124.6 337.6L125.2 338.8L126.0 340.2L127.3 342.2L128.5 343.7L129.5 345.0L130.8 346.2L132.1 347.4L133.5 348.7L134.8 349.7L136.0 350.5L137.3 351.2L139.7 352.0L142.2 352.3L144.7 352.4L147.2 352.3L149.7 352.3L152.2 352.2L154.7 352.2L157.2 352.3L159.7 352.3L162.2 352.3L164.7 352.2L167.2 352.0L169.7 351.7L172.2 351.3L173.4 351.1L175.9 350.6L178.3 349.9L179.6 349.5L181.9 348.7L183.4 348.1L184.7 347.4L187.1 346.3L188.4 345.7L190.0 345.0L192.1 344.0L193.4 343.5L195.8 342.5L197.1 342.0L199.2 341.3L200.8 340.7L203.0 340.0L204.6 339.6L207.1 338.9L208.3 338.6L210.8 338.0L213.2 337.6L214.5 337.3L217.0 337.0L219.5 336.9L222.0 336.9L224.5 337.1L227.0 337.5L228.3 337.8L229.5 338.2M229.5 359.9L227.0 360.5L224.5 360.9L223.3 361.1L220.8 361.4L218.3 361.7L215.8 361.9L213.3 362.2L212.0 362.3L209.6 362.6L207.1 363.1L205.1 363.5L203.3 364.1L201.8 364.8L200.0 366.0L198.7 367.2L197.7 368.5L196.8 369.7L195.8 371.0L194.6 372.5L193.4 373.9L192.1 375.0L190.9 376.1L189.6 377.2L188.3 378.4L187.0 379.6L185.8 380.8L184.6 382.2L183.4 383.9L182.2 385.8L181.5 387.0L180.8 388.3L179.6 390.2L178.6 392.0L177.8 393.2L177.1 394.4L175.9 396.6L175.1 398.1L174.5 399.4L173.4 401.9L172.9 403.1L172.2 404.8L171.2 406.8L170.5 408.0L169.7 409.7L168.6 411.8L168.1 413.0L167.5 415.5L167.6 416.7M130.4 416.7L132.3 415.7L133.5 414.4L134.0 413.0L133.9 410.5L133.5 409.1L132.3 407.1L131.0 406.2L128.5 406.2L127.3 407.3L126.3 409.3L125.8 410.5L125.1 413.0L124.5 414.2L123.2 415.5L121.1 416.3L119.4 416.7L119.4 416.7M73.8 244.8L74.1 247.3L74.4 249.7L74.8 252.2L75.0 253.5L75.4 255.9L75.9 258.4L76.2 260.2L76.5 262.1L77.0 264.6L77.4 266.5L77.8 268.3L78.3 270.8L78.5 273.2L78.4 275.7L77.7 278.2L77.1 279.4L76.2 281.2L75.3 283.1L74.8 284.4L74.2 286.8L74.3 289.3L74.9 291.3L75.8 293.0L76.7 294.3L77.7 295.5L79.1 296.7L80.7 298.0L82.4 299.1L83.7 299.8L84.9 300.5L86.9 301.7L88.6 302.8L89.9 303.7L91.1 304.8L92.4 306.1L93.6 307.6L94.6 309.1L95.3 310.3L96.1 312.0L97.1 314.1L97.8 315.3L98.6 317.0L99.6 319.0L100.2 320.2L101.1 322.1L101.9 323.9L102.5 325.2L103.5 327.7L104.0 328.9L104.8 330.8L105.6 332.6L106.1 334.0L106.9 336.3L107.3 337.9L107.9 340.0L108.6 342.1L109.1 343.7L109.8 345.7L110.5 347.4L111.1 349.1L111.7 351.2L112.3 353.6L112.5 354.9L112.8 357.3L112.7 359.8L112.3 362.1L112.0 363.5L111.2 366.0L110.8 367.2L109.9 369.7L109.4 370.9L108.6 373.2L108.0 374.7L107.3 376.3L106.3 378.4L105.6 379.6L104.8 380.8L103.6 382.4L102.4 383.8L101.1 385.2L99.9 386.6L98.6 387.9L97.4 389.4L96.3 390.7L95.4 392.0L94.5 393.2L93.6 394.5L92.4 396.4L91.3 398.1L90.5 399.4L89.8 400.6L88.6 402.4L87.4 404.3L86.6 405.6L85.8 406.8L84.9 408.3L83.7 410.3L82.6 411.8L81.7 413.0L80.4 414.2L78.7 415.4L77.4 415.9L75.4 416.7L75.4 416.7M151.2 359.8L153.5 359.4L156.0 359.4L158.4 359.7L159.7 359.9L162.2 360.6L163.8 361.0L165.9 361.8L167.3 362.3L169.7 363.5L170.9 364.4L172.2 365.6L173.2 367.2L173.7 368.5L174.3 370.9L174.5 373.4L174.4 375.9L174.0 378.4L173.5 380.8L173.2 382.1L172.3 384.5L171.8 385.8L170.9 387.6L170.0 389.5L169.4 390.7L168.4 392.7L167.6 394.4L166.9 395.7L165.9 397.4L164.7 399.2L163.6 400.6L162.4 401.9L160.9 403.1L159.7 404.0L158.4 404.7L156.4 405.6L154.7 406.0L152.2 405.9L151.0 405.5L149.4 404.3L148.3 403.1L147.2 401.4L146.3 399.4L145.8 398.1L145.1 395.7L144.7 394.4L144.1 392.0L143.6 389.5L143.4 388.3L143.1 385.8L142.9 383.3L142.8 380.8L142.8 378.4L143.0 375.9L143.2 373.4L143.5 370.9L143.7 369.7L144.2 367.2L144.7 365.6L145.8 363.5L146.8 362.3L148.4 361.0L149.7 360.3L151.2 359.8L151.2 359.8M66.2 244.8L66.2 246.1L66.4 248.5L66.8 251.0L67.2 253.5L67.5 254.7L67.9 257.2L68.3 259.6L68.7 262.1L68.8 263.4L69.0 265.8L69.1 268.3L69.0 270.8L68.7 273.2L68.5 274.5L67.9 277.0L67.4 278.6L66.8 280.7L66.3 283.1L66.1 284.4L65.9 286.8L66.2 289.3L66.5 290.6L67.3 293.0L67.9 294.3L68.7 295.7L69.9 297.5L71.2 298.9L72.4 300.1L73.7 301.2L74.9 302.2L76.2 303.3L77.4 304.3L78.7 305.4L80.0 306.6L81.2 307.9L82.4 309.6L83.5 311.6L83.9 312.8L84.7 315.3L85.1 316.5L86.1 318.6L87.4 320.2L88.5 321.5L89.7 322.7L90.8 323.9L91.7 325.2L92.5 326.4L93.6 328.9L94.0 330.1L94.6 332.6L94.9 334.0L95.2 336.3L95.3 338.8L95.4 341.3L95.3 343.7L95.2 346.2L95.0 348.7L94.9 350.0L94.7 352.4L94.7 354.9L94.7 357.3L94.7 359.8L94.6 362.3L94.4 364.8L93.9 367.2L93.6 368.5L92.9 370.9L92.4 372.5L91.6 374.7L91.1 375.9L89.9 378.4L89.3 379.6L88.6 380.9L87.4 383.0L86.3 384.5L85.2 385.8L83.9 387.0L82.4 388.2L81.2 389.0L79.9 389.7L77.5 390.7L76.2 391.3L74.2 392.0L72.4 392.6L70.7 393.2L68.7 393.9L67.1 394.4L65.0 395.1L62.5 395.5L60.0 395.6L57.5 395.5L55.0 395.3L52.5 395.2L50.0 395.1L47.5 395.1L45.0 395.1L42.5 395.2L40.0 395.3L37.5 395.3L35.0 395.3L32.5 395.3L31.3 395.2M153.6 372.2L156.0 371.1L158.4 372.1L159.7 373.4L160.4 374.7L160.9 375.9L161.4 378.4L161.5 380.8L161.2 383.3L160.9 384.9L160.4 387.0L159.7 389.1L158.8 390.7L157.8 392.0L156.0 393.1L153.5 392.6L152.2 391.3L151.3 389.5L150.8 388.3L150.3 385.8L150.1 383.3L150.3 380.8L150.7 378.4L151.0 377.1L152.0 374.7L152.7 373.4L153.6 372.2L153.6 372.2M31.3 251.3L32.8 252.2L35.0 252.8L37.5 252.8L39.9 252.2L41.3 251.7L43.1 251.0L45.0 250.1L46.3 249.7L48.8 249.1L51.2 249.2L52.7 249.7L54.4 251.0L55.5 252.2L56.4 253.5L57.5 255.4L58.3 257.2L58.7 258.4L59.5 260.9L60.0 263.2L60.1 264.6L60.1 267.1L60.0 268.5L59.5 270.8L58.7 273.2L58.2 274.5L57.5 276.3L56.6 278.2L56.0 279.4L55.0 281.7L54.3 283.1L53.7 284.5L53.2 286.8L53.7 288.8L54.6 290.6L55.4 291.8L56.3 293.0L57.5 294.5L58.7 295.7L60.0 296.8L61.7 298.0L63.7 299.2L65.0 299.9L66.2 300.7L67.7 301.7L69.6 302.9L71.2 304.0L72.4 304.9L73.7 306.0L74.9 307.2L76.2 308.7L77.3 310.3L77.9 311.6L78.7 313.9L79.1 315.3L79.7 317.8L79.9 319.0L80.8 321.5L81.4 322.7L82.4 324.4L83.7 326.1L84.9 327.6L85.9 328.9L86.6 330.1L87.4 332.4L87.6 333.8L87.4 336.3L87.2 337.6L86.3 340.0L85.7 341.3L84.9 342.7L83.7 344.4L82.4 345.8L81.2 346.9L79.9 347.8L78.6 348.7L76.5 349.9L74.9 350.9L73.7 351.6L72.3 352.4L70.4 353.6L68.7 354.8L67.4 355.7L66.2 356.6L65.0 357.4L63.1 358.6L61.2 359.7L60.0 360.3L58.3 361.0L56.2 362.1L55.0 362.6L52.5 363.2L50.0 363.4L47.5 363.4L45.0 363.2L42.5 363.0L40.0 362.9L37.5 362.8L35.0 362.8L32.5 362.9L31.3 363.0M31.3 287.4L32.5 289.0L33.8 289.5L36.3 289.8L38.8 289.5L40.0 289.1L42.0 288.1L42.5 286.8L41.6 285.6L40.0 284.9L38.6 284.4L36.3 284.1L33.8 284.3L32.5 284.9L31.3 286.6L31.3 286.6M66.1 361.0L67.4 360.9L69.9 361.0L71.2 361.2L73.7 361.9L74.9 362.7L75.7 364.8L74.9 366.2L72.5 367.2L71.2 367.2L69.9 367.0L67.6 366.0L66.2 365.0L65.0 363.8L64.0 362.3L66.1 361.0L66.1 361.0M31.3 300.3L33.8 300.3L36.3 300.2L38.8 300.2L41.3 300.3L43.8 300.4L45.0 300.5L47.5 300.6L50.0 300.8L52.5 301.0L55.0 301.3L57.5 301.6L58.7 301.8L61.2 302.3L63.1 302.9L65.0 303.6L66.3 304.2L68.6 305.4L69.9 306.3L71.2 307.2L72.4 308.4L73.7 309.9L74.7 311.6L75.3 312.8L76.2 315.3L76.5 316.5L77.0 319.0L77.4 320.7L78.0 322.7L78.7 324.9L79.2 326.4L79.9 328.3L80.5 330.1L80.9 332.6L80.8 335.1L80.1 337.6L79.6 338.8L78.7 340.4L77.4 342.2L76.2 343.6L74.9 344.7L73.7 345.7L72.4 346.6L70.9 347.4L68.7 348.5L67.4 348.9L65.0 349.6L63.2 349.9L61.2 350.2L58.7 350.4L56.2 350.4L53.7 350.4L51.2 350.4L48.8 350.3L46.3 350.3L43.8 350.3L41.3 350.3L38.8 350.3L36.3 350.3L33.8 350.3L31.3 350.3L31.3 350.3M31.3 303.7L33.8 303.6L36.3 303.6L38.8 303.6L41.3 303.7L43.8 303.7L46.3 303.7L48.8 303.8L51.2 303.9L53.7 304.0L56.2 304.1L57.5 304.2L60.0 304.6L62.5 305.1L63.7 305.5L66.2 306.5L67.4 307.1L68.7 308.0L70.1 309.1L71.3 310.3L72.4 311.9L73.5 314.1L74.0 315.3L74.6 317.8L74.9 319.2L75.4 321.5L76.0 323.9L76.3 325.2L76.9 327.7L77.4 330.1L77.5 331.4L77.5 333.8L77.3 335.1L76.6 337.6L76.0 338.8L74.9 340.5L73.7 342.1L72.4 343.3L71.2 344.2L69.9 345.0L67.5 346.2L66.2 346.7L63.7 347.3L62.5 347.6L60.0 347.9L57.5 348.0L55.0 348.0L52.5 347.9L50.0 347.9L47.5 347.9L45.0 347.8L42.5 347.8L40.0 347.8L37.5 347.8L35.0 347.8L32.5 347.8L31.3 347.8M31.3 305.8L33.8 305.8L36.3 305.8L38.8 305.8L41.3 305.8L43.8 305.8L46.3 305.9L48.8 305.9L51.2 305.9L53.7 306.0L56.2 306.1L58.7 306.3L60.7 306.6L62.5 307.0L64.8 307.9L66.2 308.6L67.4 309.4L68.7 310.4L69.9 311.7L71.2 313.6L72.0 315.3L72.4 316.7L73.0 319.0L73.5 321.5L73.8 322.7L74.3 325.2L74.8 327.7L75.0 328.9L75.2 331.4L75.1 333.8L74.9 335.1L74.0 337.6L73.4 338.8L72.4 340.2L71.2 341.5L69.9 342.6L68.1 343.7L66.2 344.6L65.0 345.1L62.5 345.7L60.0 346.0L57.5 346.1L55.0 346.2L52.5 346.1L50.0 346.1L47.5 346.0L45.0 346.0L42.5 346.0L40.0 345.9L37.5 345.9L35.0 345.9L32.5 345.9L31.3 346.0M31.3 307.6L33.8 307.6L36.3 307.6L38.8 307.6L41.3 307.6L43.8 307.6L46.3 307.6L48.8 307.6L51.2 307.7L53.7 307.7L56.2 307.8L57.5 307.9L60.0 308.2L62.5 308.8L63.7 309.3L65.7 310.3L67.4 311.6L68.5 312.8L69.4 314.1L70.1 315.3L71.0 317.8L71.3 319.0L71.8 321.5L72.3 323.9L72.5 325.2L72.9 327.7L73.2 330.1L73.2 332.6L72.8 335.1L72.4 336.3L71.2 338.6L70.0 340.0L68.7 341.2L67.4 342.1L66.2 342.7L63.7 343.7L62.5 344.0L60.0 344.4L57.5 344.5L55.0 344.6L52.5 344.5L50.0 344.5L47.5 344.4L45.0 344.4L42.5 344.3L40.0 344.3L37.5 344.3L35.0 344.3L32.5 344.3L31.3 344.3M31.3 309.3L33.8 309.3L36.3 309.3L38.8 309.3L41.3 309.3L43.8 309.3L46.3 309.3L48.8 309.3L51.2 309.3L53.7 309.3L56.2 309.4L58.7 309.7L61.2 310.2L62.5 310.7L64.4 311.6L66.0 312.8L67.2 314.1L68.0 315.3L68.7 316.6L69.5 319.0L69.9 320.9L70.3 322.7L70.7 325.2L71.1 327.7L71.3 328.9L71.4 331.4L71.2 333.6L70.8 335.1L69.9 337.0L68.7 338.7L67.4 339.9L66.2 340.8L65.0 341.4L62.5 342.3L61.2 342.6L58.7 342.9L56.2 343.0L53.7 343.0L51.2 342.9L48.8 342.9L46.3 342.8L43.8 342.7L41.3 342.7L38.8 342.7L36.3 342.7L33.8 342.7L31.3 342.7L31.3 342.7M31.3 311.0L33.8 311.1L36.3 311.1L38.8 311.1L41.3 311.1L43.8 311.0L46.3 311.0L48.8 311.0L51.2 311.0L53.7 311.0L56.2 311.1L58.7 311.5L60.0 311.7L62.5 312.7L63.7 313.4L65.0 314.5L66.2 316.0L67.1 317.8L67.6 319.0L68.2 321.5L68.7 323.8L68.9 325.2L69.3 327.7L69.6 330.1L69.4 332.6L68.8 335.1L68.1 336.3L67.2 337.6L65.9 338.8L63.9 340.0L62.5 340.6L60.0 341.2L58.7 341.3L56.2 341.4L53.7 341.4L51.2 341.3L48.9 341.3L47.5 341.2L45.0 341.1L42.5 341.1L40.0 341.0L37.5 341.0L35.0 341.0L32.5 341.0L31.3 341.1M31.3 313.0L33.8 313.0L36.3 313.0L38.8 313.0L41.3 313.0L43.8 312.9L46.3 312.9L48.8 312.9L51.2 312.9L53.7 312.9L56.2 313.1L58.7 313.5L60.4 314.1L62.5 315.2L63.7 316.4L64.7 317.8L65.3 319.0L66.1 321.5L66.4 322.7L66.9 325.2L67.3 327.7L67.5 328.9L67.5 331.4L67.3 332.6L66.4 335.1L65.5 336.3L64.2 337.6L62.5 338.5L61.2 339.0L58.7 339.5L56.2 339.7L53.7 339.7L51.2 339.5L48.8 339.4L46.3 339.3L43.8 339.2L41.3 339.2L38.8 339.1L36.3 339.1L33.8 339.1L31.3 339.2L31.3 339.2M31.3 315.4L33.8 315.5L36.3 315.5L38.8 315.4L41.3 315.4L43.8 315.4L46.3 315.4L48.8 315.4L51.2 315.4L53.7 315.4L56.2 315.7L58.7 316.3L60.0 317.0L61.2 318.0L62.5 319.7L63.3 321.5L63.7 322.8L64.3 325.2L64.8 327.7L65.0 329.0L65.0 331.1L64.6 332.6L63.7 334.4L62.5 335.7L61.2 336.5L58.7 337.2L56.2 337.5L53.7 337.5L51.2 337.3L48.8 337.1L46.3 336.9L43.8 336.8L41.3 336.7L38.8 336.6L36.3 336.6L33.8 336.7L31.3 336.7L31.3 336.7M31.3 320.7L33.8 320.9L36.3 320.9L38.8 320.9L41.3 320.7L43.8 320.6L46.3 320.5L48.8 320.5L51.2 320.5L53.7 320.7L56.2 321.4L57.5 322.4L58.6 323.9L59.2 325.2L60.0 326.8L60.5 328.9L60.3 331.4L59.3 332.6L57.5 333.5L55.0 333.7L52.5 333.3L50.0 332.9L48.5 332.6L46.3 332.1L43.8 331.6L42.4 331.4L40.0 330.9L37.5 330.7L35.0 330.7L32.5 331.0L31.3 331.3"/>
<path class="ct" d="M459.2 244.8L458.6 246.0L457.6 248.5L457.2 249.7L456.7 252.2L456.4 254.7L456.3 256.1L456.1 258.4L455.6 260.9L455.1 262.7L454.2 264.6L453.4 265.8L452.4 267.1L451.3 268.3L449.9 269.5L448.3 270.8L446.6 272.0L445.1 273.0L443.8 273.7L442.5 274.5L440.2 275.7L438.9 276.3L437.4 277.0L435.1 277.8L433.9 278.3L431.4 279.1L430.1 279.5L427.6 280.3L426.4 280.7L423.9 281.6L422.6 282.0L420.1 283.0L418.9 283.5L417.0 284.4L415.2 285.3L413.9 286.1L412.7 287.0L411.3 288.1L410.0 289.3L408.9 290.6L407.7 292.6L407.2 294.3L407.7 296.6L408.8 298.0L410.2 298.9L411.4 299.6L413.1 300.5L415.2 301.3L416.4 301.8L418.9 302.6L420.1 303.0L422.6 303.8L423.9 304.2L426.4 304.9L428.4 305.4L430.1 305.9L432.6 306.4L433.9 306.7L436.4 307.3L438.9 307.7L440.1 308.0L442.6 308.5L445.1 308.9L446.3 309.2L448.8 309.8L451.3 310.3L452.6 310.7L455.1 311.4L456.3 311.8L458.8 312.6L460.1 313.0L462.5 313.9L463.8 314.2L466.3 314.8L468.5 315.3L470.0 315.5L472.5 315.8L475.0 316.1L477.5 316.3L480.0 316.5L481.3 316.6L483.8 316.7L486.2 316.8L488.7 316.9L491.2 316.9L493.7 317.0L496.2 317.0L498.7 317.0L501.2 317.0L503.7 317.0L506.2 317.0L506.2 317.0M359.6 244.8L360.6 246.0L361.5 248.1L361.8 249.7L361.5 251.5L360.8 253.5L360.2 254.7L359.0 256.4L357.8 257.9L356.5 259.2L355.3 260.4L354.0 261.6L352.8 262.7L351.6 263.8L350.3 264.9L349.1 265.9L347.8 267.1L346.4 268.3L344.9 269.5L343.3 270.8L341.6 272.0L340.3 272.7L339.1 273.3L336.6 274.4L335.3 274.8L332.8 275.5L331.6 275.7L329.1 276.2L326.6 276.5L324.1 276.7L321.6 276.8L319.1 276.9L316.6 276.8L314.1 276.7L311.6 276.4L309.1 276.0L307.9 275.8M307.9 320.0L310.4 319.9L312.9 320.0L315.4 320.1L316.7 320.2L319.1 320.5L321.6 320.8L324.1 321.3L325.4 321.5L327.9 322.0L330.3 322.6L331.6 322.9L334.1 323.7L335.3 324.0L337.8 324.9L339.1 325.3L341.6 326.2L342.8 326.7L345.3 327.6L346.6 328.1L348.6 328.9L350.3 329.5L351.9 330.1L354.0 330.9L355.3 331.4L357.8 332.2L359.0 332.6L361.5 333.5L362.8 333.9L365.3 334.8L366.5 335.2L369.0 336.2L370.3 336.7L372.0 337.6L374.0 338.6L375.2 339.3L376.5 340.1L378.3 341.3L380.0 342.5L381.5 343.7L382.7 344.6L384.0 345.5L385.2 346.3L387.2 347.4L389.0 348.3L390.2 348.9L392.7 349.8L394.0 350.1L396.4 350.7L398.6 351.2L400.2 351.4L402.7 351.8L405.2 352.0L407.7 352.3L408.9 352.4L411.4 352.6L413.9 352.8L416.4 352.9L418.9 353.0L421.4 353.0L423.9 353.0L426.4 352.8L428.9 352.6L430.7 352.4L432.6 352.0L435.1 351.5L436.4 351.1L438.9 350.2L440.1 349.8L442.5 348.7L443.8 348.0L445.1 347.3L447.1 346.2L448.8 345.2L450.1 344.5L451.6 343.7L453.8 342.6L455.1 342.1L456.9 341.3L458.8 340.6L460.4 340.0L462.5 339.4L464.9 338.8L466.3 338.5L468.8 338.0L471.3 337.6L472.5 337.4L475.0 337.1L477.5 336.8L480.0 336.6L482.5 336.4L484.2 336.3L486.2 336.2L488.7 336.1L491.2 336.1L493.7 336.1L496.2 336.1L498.7 336.1L501.2 336.2L503.7 336.3L505.0 336.4L506.2 336.5M342.7 244.8L343.5 246.0L344.1 247.9L344.1 249.7L343.8 251.0L342.8 253.0L341.6 254.7L340.4 255.9L339.1 257.0L337.8 258.0L336.6 258.9L335.3 259.6L333.1 260.9L331.6 261.6L330.3 262.2L327.9 263.1L326.6 263.5L324.1 264.2L322.4 264.6L320.4 264.9L317.9 265.2L315.4 265.2L312.9 265.0L310.9 264.6L309.1 264.0L307.9 263.5M307.9 334.2L309.4 333.8L311.6 333.4L314.1 333.1L316.6 332.9L319.1 332.9L321.6 333.1L324.1 333.3L326.6 333.7L327.9 333.9L330.3 334.5L332.8 335.1L334.1 335.4L336.6 336.1L337.8 336.4L340.3 337.2L341.6 337.6L344.1 338.4L345.3 338.8L347.8 339.7L349.1 340.2L351.6 341.2L352.8 341.7L354.5 342.5L356.5 343.6L357.8 344.3L359.0 345.0L360.8 346.2L362.4 347.4L363.9 348.7L365.3 349.8L366.5 350.9L367.8 352.0L369.0 353.0L370.3 354.0L371.5 354.9L373.5 356.1L375.2 357.1L376.5 357.8L378.2 358.6L380.2 359.4L381.5 359.9L384.0 360.7L385.2 361.1L387.7 361.8L389.6 362.3L391.5 362.8L394.0 363.3L395.2 363.6L397.7 364.1L400.2 364.6L401.4 364.8L403.9 365.3L406.4 365.8L407.7 366.0L410.2 366.5L412.7 367.0L413.9 367.3L416.4 367.8L418.9 368.3L420.1 368.6L422.6 369.1L425.1 369.7L426.4 369.9L428.9 370.5L431.3 370.9L432.6 371.2L435.1 371.6L437.6 372.0L439.2 372.2L441.3 372.4L443.8 372.5L446.3 372.4L448.6 372.2L450.1 371.9L452.6 371.3L453.9 370.9L456.3 370.2L457.8 369.7L460.1 369.0L461.8 368.5L463.8 367.9L466.3 367.2L467.5 366.9L470.0 366.4L472.0 366.0L473.8 365.7L476.3 365.3L478.8 365.0L481.3 364.8L482.5 364.7L485.0 364.6L487.5 364.4L490.0 364.4L492.5 364.3L495.0 364.3L497.5 364.3L500.0 364.4L502.5 364.4L505.0 364.5L506.2 364.5M307.9 352.4L308.7 349.9L309.7 348.7L311.4 347.4L312.9 346.8L314.4 346.2L316.6 345.7L319.1 345.4L321.6 345.3L324.1 345.4L326.6 345.7L329.1 346.1L330.3 346.4L332.8 347.0L334.3 347.4L336.6 348.3L337.8 348.9L339.9 349.9L341.6 351.0L342.8 352.0L344.1 353.3L345.1 354.9L345.6 356.1L345.7 358.6L345.3 359.8L344.1 361.1L341.6 362.2L340.3 362.6L337.8 362.9L335.3 363.0L332.8 363.0L330.3 362.8L327.9 362.6L325.7 362.3L324.1 362.0L321.6 361.6L319.5 361.0L317.9 360.6L315.6 359.8L314.1 359.2L312.9 358.6L311.0 357.3L309.6 356.1L308.7 354.9L307.9 352.4L307.9 352.4M307.9 384.5L310.4 383.8L312.9 383.3L314.1 383.2L316.6 383.0L319.1 383.0L321.6 383.0L324.1 383.2L325.5 383.3L327.9 383.6L330.3 384.0L332.8 384.5L334.1 384.8L336.6 385.5L337.8 385.9L340.3 386.6L341.6 387.1L344.1 388.0L345.3 388.5L347.8 389.5L349.1 390.0L350.6 390.7L352.8 391.8L354.0 392.6L355.3 393.4L356.6 394.4L357.8 395.7L358.9 398.1L359.0 400.6L358.4 403.1L357.8 404.9L357.1 406.8L356.5 408.3L356.0 410.5L355.9 413.0L356.5 415.1L357.4 416.7L357.4 416.7M451.4 416.7L451.4 414.2L451.4 411.8L451.5 409.3L451.7 406.8L452.0 404.3L452.3 401.9L452.6 400.4L453.0 398.1L453.6 395.7L454.0 394.4L454.8 392.0L455.3 390.7L456.3 388.7L457.3 387.0L458.1 385.8L459.1 384.5L460.1 383.3L461.4 382.1L462.8 380.8L464.5 379.6L466.3 378.5L467.5 377.8L468.9 377.1L471.3 376.2L472.5 375.7L475.0 375.0L476.8 374.7L478.8 374.3L481.3 373.9L483.8 373.7L486.2 373.5L487.8 373.4L490.0 373.3L492.5 373.3L495.0 373.3L497.5 373.3L500.0 373.3L502.5 373.3L505.0 373.3L506.2 373.3M455.8 416.7L455.9 414.2L456.0 411.8L456.1 409.3L456.3 407.0L456.5 405.6L456.8 403.1L457.3 400.6L457.6 399.4L458.2 396.9L458.8 395.3L459.7 393.2L460.3 392.0L461.3 390.1L462.5 388.3L463.6 387.0L464.8 385.8L466.2 384.5L467.5 383.5L468.8 382.7L470.0 382.0L472.4 380.8L473.8 380.3L475.9 379.6L477.5 379.1L480.0 378.6L481.8 378.4L483.8 378.1L486.2 377.9L488.7 377.7L491.2 377.7L493.7 377.6L496.2 377.6L498.7 377.6L501.2 377.6L503.7 377.6L506.2 377.7L506.2 377.7M458.8 416.7L458.9 414.2L459.0 411.8L459.2 409.3L459.4 406.8L459.8 404.3L460.1 402.7L460.5 400.6L461.3 398.1L461.7 396.9L462.5 394.9L463.4 393.2L464.2 392.0L465.1 390.7L466.3 389.2L467.5 388.0L468.8 386.9L470.3 385.8L472.5 384.5L473.8 383.9L475.2 383.3L477.5 382.5L479.4 382.1L481.3 381.7L483.8 381.3L486.2 381.1L488.7 380.9L490.6 380.8L492.5 380.8L495.0 380.8L497.5 380.8L500.0 380.8L502.5 380.8L505.0 380.8L506.2 380.8M461.2 416.7L461.3 414.7L461.4 413.0L461.5 410.5L461.8 408.0L462.1 405.6L462.5 403.2L462.9 401.9L463.6 399.4L464.1 398.1L465.0 396.0L465.9 394.4L466.7 393.2L467.7 392.0L468.8 390.7L470.1 389.5L471.7 388.3L473.7 387.0L475.0 386.4L476.4 385.8L478.8 385.0L480.5 384.5L482.5 384.1L485.0 383.8L487.5 383.6L490.0 383.4L492.5 383.4L495.0 383.3L497.5 383.3L500.0 383.3L502.5 383.3L505.0 383.3L506.2 383.4M463.4 416.7L463.4 414.2L463.6 411.8L463.8 409.3L463.9 408.0L464.3 405.6L464.9 403.1L465.2 401.9L466.1 399.4L466.6 398.1L467.5 396.4L468.8 394.5L469.9 393.2L471.1 392.0L472.5 390.7L473.8 389.9L475.0 389.1L476.8 388.3L478.8 387.5L480.4 387.0L482.5 386.5L485.0 386.1L487.5 385.8L488.7 385.8L491.2 385.6L493.7 385.6L496.2 385.6L498.7 385.6L501.2 385.6L503.7 385.6L506.2 385.6L506.2 385.6M465.3 416.7L465.4 414.2L465.6 411.8L465.8 409.3L466.2 406.8L466.4 405.6L467.1 403.1L467.5 401.6L468.5 399.4L469.1 398.1L470.0 396.7L471.3 395.0L472.5 393.7L473.8 392.7L475.0 391.8L476.8 390.7L478.8 389.9L480.0 389.4L482.5 388.7L485.0 388.3L486.2 388.1L488.7 387.9L491.2 387.7L493.7 387.7L496.2 387.6L498.7 387.6L501.2 387.6L503.7 387.7L506.2 387.7L506.2 387.7M467.2 416.7L467.3 414.2L467.5 411.8L467.6 410.5L467.9 408.0L468.5 405.6L468.8 404.3L469.7 401.9L470.2 400.6L471.3 398.7L472.5 397.0L473.7 395.7L475.0 394.5L476.3 393.6L477.5 392.8L479.3 392.0L481.3 391.2L483.1 390.7L485.0 390.3L487.5 390.0L490.0 389.8L492.5 389.7L495.0 389.6L497.5 389.6L500.0 389.6L502.5 389.6L505.0 389.7L506.2 389.7M469.1 416.7L469.2 414.2L469.4 411.8L469.7 409.3L470.0 407.4L470.5 405.6L471.3 403.3L471.9 401.9L472.6 400.6L473.8 398.8L475.0 397.4L476.3 396.3L477.5 395.3L479.0 394.4L481.3 393.5L482.5 393.0L485.0 392.4L487.5 392.0L488.7 391.9L491.2 391.7L493.7 391.6L496.2 391.6L498.7 391.6L501.2 391.6L503.7 391.6L506.2 391.7L506.2 391.7"/>
<path fill="#fff" d="M30.0 132.0L32.0 136.0L36.0 140.0L42.0 143.0L50.0 144.5L82.0 144.5L83.5 143.0L87.0 143.0L87.7 147.0L88.2 156.0L91.0 162.0L96.0 168.0L103.0 172.0L112.0 175.0L118.0 175.7L144.0 175.7L145.0 180.0L147.0 188.0L149.3 197.0L30.0 197.0 Z"/>
<path class="st" d="M65.9 23.5V141.7"/>
<path class="st" d="M88.5 23.5V122.3"/>
<path class="st" d="M112.3 23.5V130.9"/>
<path class="st" d="M135.4 23.5V143.8"/>
<path class="st" d="M159.2 23.5V152.4"/>
<path class="st" d="M183.2 23.5V169.6"/>
<path class="st" d="M207.4 23.5V161.0"/>
<path fill="#fff" d="M306.0 161.0L312.0 162.5L315.0 165.0L316.0 173.0L320.4 184.0L328.0 190.5L341.5 197.0L306.0 197.0 Z"/>
<path class="st" d="M332.8 23.5V140.6"/>
<path class="st" d="M366.8 23.5V170.7"/>
<path class="st" d="M438.5 23.5V171.8"/>
<path class="st" d="M473.5 23.5V171.8"/>
<path fill="#fff" d="M30.0 338.6L37.0 343.0L44.0 346.5L45.0 352.0L46.5 365.0L50.0 372.0L58.0 378.0L70.0 384.5L85.0 390.5L90.0 397.0L100.0 405.0L110.0 409.5L125.0 412.0L213.0 413.0L222.0 410.0L227.0 403.0L229.5 392.0L231.0 392.0L231.0 418.0L30.0 418.0 Z"/>
<path class="st" d="M59.3 244.8V345.8"/>
<path class="st" d="M82.8 244.8V378.0"/>
<path class="st" d="M106.8 244.8V386.6"/>
<path class="st" d="M130.8 244.8V390.9"/>
<path class="st" d="M155.3 244.8V390.9"/>
<path class="st" d="M179.7 244.8V390.9"/>
<path class="st" d="M203.5 244.8V390.9"/>
<path fill="#fff" d="M306.0 395.2L309.0 399.0L313.0 403.0L322.4 407.5L336.0 409.8L343.0 411.0L346.0 413.0L349.5 418.0L306.0 418.0 Z"/>
<path fill="#fff" d="M507.0 400.0L498.3 418.0L507.0 418.0 Z"/>
<path class="st" d="M334.1 244.8V399.5"/>
<path class="st" d="M382.6 244.8V386.6"/>
<path class="st" d="M432.6 244.8V390.9"/>
<path class="st" d="M481.6 244.8V378.0"/>
<path class="fr" d="M31.3 23.5H229.4V195.4"/>
<path class="ax" d="M31.4 23.2V195.4H229.7"/>
<path class="tk" d="M31.4 23.5h-3.4M31.4 66.5h-3.4M31.4 109.5h-3.4M31.4 152.4h-3.4M31.4 195.4h-3.4M53.3 195.4v2.6M97.3 195.4v2.6M141.4 195.4v2.6M185.4 195.4v2.6M229.4 195.4v2.6M31.3 195.4v1.5M75.3 195.4v1.5M119.3 195.4v1.5M163.4 195.4v1.5M207.4 195.4v1.5"/>
<text class="tl" text-anchor="end" transform="translate(25.9 25.8) scale(0.87 1)">0</text>
<text class="tl" text-anchor="end" transform="translate(25.9 68.8) scale(0.87 1)">20</text>
<text class="tl" text-anchor="end" transform="translate(25.9 111.8) scale(0.87 1)">40</text>
<text class="tl" text-anchor="end" transform="translate(25.9 154.7) scale(0.87 1)">60</text>
<text class="tl" text-anchor="end" transform="translate(25.9 197.7) scale(0.87 1)">80</text>
<text class="tl" text-anchor="middle" transform="translate(53.3 206.0) scale(0.87 1)">20</text>
<text class="tl" text-anchor="middle" transform="translate(97.3 206.0) scale(0.87 1)">40</text>
<text class="tl" text-anchor="middle" transform="translate(141.4 206.0) scale(0.87 1)">60</text>
<text class="tl" text-anchor="middle" transform="translate(185.4 206.0) scale(0.87 1)">80</text>
<text class="tl" text-anchor="middle" transform="translate(229.4 206.0) scale(0.87 1)">100</text>
<text class="al" text-anchor="middle" transform="translate(14.9 118.5) rotate(-90)">Depth (m)</text>
<text class="al" text-anchor="middle" x="139.0" y="217.4">Section Distance (km)</text>
<text class="ti" text-anchor="end" x="246.7" y="11.7"><tspan font-style="italic">K</tspan><tspan font-style="italic" font-size="5.2" dy="1.6">d</tspan><tspan dy="-1.6">(z,490) (m</tspan><tspan font-size="5.2" dy="-3.2">-1</tspan><tspan dy="3.2">)</tspan></text>
<text class="pl" text-anchor="middle" x="199.0" y="185.5">(a)</text>
<text class="cl" text-anchor="middle" transform="translate(35.5 33.8) rotate(0)">075</text>
<text class="cl" text-anchor="middle" transform="translate(102.9 31.4) rotate(65)">0.065</text>
<text class="cl" text-anchor="middle" transform="translate(164.8 37.1) rotate(35)">0.06</text>
<text class="cl" text-anchor="middle" transform="translate(188.0 28.8) rotate(35)">0.06</text>
<text class="cl" text-anchor="middle" transform="translate(211.0 43.6) rotate(0)">0.055</text>
<text class="cl" text-anchor="middle" transform="translate(134.1 71.5) rotate(30)">0.07</text>
<text class="cl" text-anchor="middle" transform="translate(227.0 67.2) rotate(0)">0.0</text>
<text class="cl" text-anchor="middle" transform="translate(61.0 95.1) rotate(0)">0.105</text>
<text class="cl" text-anchor="middle" transform="translate(89.3 95.1) rotate(-90)">0.090</text>
<text class="cl" text-anchor="middle" transform="translate(33.0 105.3) rotate(0)">1</text>
<text class="cl" text-anchor="middle" transform="translate(75.0 111.3) rotate(0)">0.09</text>
<text class="cl" text-anchor="middle" transform="translate(109.2 114.8) rotate(-50)">0.085</text>
<text class="cl" text-anchor="middle" transform="translate(139.0 121.3) rotate(-60)">0.08</text>
<text class="cl" text-anchor="middle" transform="translate(59.8 135.0) rotate(-45)">0.075</text>
<text class="cl" text-anchor="middle" transform="translate(188.4 127.8) rotate(10)">0.075</text>
<text class="cl" text-anchor="middle" transform="translate(193.0 152.0) rotate(25)">0.075</text>
<text class="cl" text-anchor="middle" transform="translate(226.5 138.0) rotate(0)">0.0</text>
<text class="cl" text-anchor="middle" transform="translate(224.6 180.5) rotate(20)">0.06</text>
<text class="cl" text-anchor="middle" transform="translate(128.7 175.3) rotate(-25)">0.07</text>
<linearGradient id="cb0" x1="0" y1="0" x2="0" y2="1"><stop offset="0" stop-color="#FABC88"/><stop offset="0.0130" stop-color="#FABC88"/><stop offset="0.0505" stop-color="#F29070"/><stop offset="0.0879" stop-color="#E45C68"/><stop offset="0.1253" stop-color="#D82C40"/><stop offset="0.1628" stop-color="#DA2626"/><stop offset="0.2002" stop-color="#E64A10"/><stop offset="0.2377" stop-color="#F8840C"/><stop offset="0.2751" stop-color="#FCB00C"/><stop offset="0.3126" stop-color="#FACA0C"/><stop offset="0.3500" stop-color="#E6D414"/><stop offset="0.3875" stop-color="#B4C814"/><stop offset="0.4249" stop-color="#78BC1C"/><stop offset="0.4623" stop-color="#48B21E"/><stop offset="0.4998" stop-color="#2CB024"/><stop offset="0.5372" stop-color="#16BA32"/><stop offset="0.5747" stop-color="#0CC450"/><stop offset="0.6121" stop-color="#0CD080"/><stop offset="0.6496" stop-color="#10D2B0"/><stop offset="0.6870" stop-color="#14C8E0"/><stop offset="0.7245" stop-color="#20ACF4"/><stop offset="0.7619" stop-color="#2E8AF6"/><stop offset="0.7993" stop-color="#4470F4"/><stop offset="0.8368" stop-color="#5C58F0"/><stop offset="0.8742" stop-color="#7048F0"/><stop offset="0.9117" stop-color="#8440F0"/><stop offset="0.9491" stop-color="#A444F0"/><stop offset="0.9866" stop-color="#D468F0"/></linearGradient>
<path d="M237.3 23.8L243.3 21.0L249.3 23.8L249.3 194.1L243.3 197.8L237.3 194.1Z" fill="url(#cb0)"/>
<text class="tl" text-anchor="start" transform="translate(251.3 25.6) scale(0.87 1)">0.15</text>
<path class="tk" d="M237.3 56.4h2.2M249.3 56.4h-2.2"/>
<text class="tl" text-anchor="start" transform="translate(251.3 58.7) scale(0.87 1)">0.125</text>
<path class="tk" d="M237.3 89.5h2.2M249.3 89.5h-2.2"/>
<text class="tl" text-anchor="start" transform="translate(251.3 91.8) scale(0.87 1)">0.1</text>
<path class="tk" d="M237.3 122.6h2.2M249.3 122.6h-2.2"/>
<text class="tl" text-anchor="start" transform="translate(251.3 124.9) scale(0.87 1)">0.075</text>
<path class="tk" d="M237.3 155.7h2.2M249.3 155.7h-2.2"/>
<text class="tl" text-anchor="start" transform="translate(251.3 158.0) scale(0.87 1)">0.05</text>
<path class="tk" d="M237.3 188.8h2.2M249.3 188.8h-2.2"/>
<text class="tl" text-anchor="start" transform="translate(251.3 191.1) scale(0.87 1)">0.025</text>
<path class="fr" d="M308.0 23.5H506.2V195.4"/>
<path class="ax" d="M308.1 23.2V195.4H506.5"/>
<path class="tk" d="M308.1 23.5h-3.4M308.1 66.5h-3.4M308.1 109.5h-3.4M308.1 152.4h-3.4M308.1 195.4h-3.4M308.0 195.4v2.6M374.1 195.4v2.6M440.1 195.4v2.6M506.2 195.4v2.6M341.0 195.4v1.5M407.1 195.4v1.5M473.2 195.4v1.5"/>
<text class="tl" text-anchor="end" transform="translate(302.6 25.8) scale(0.87 1)">0</text>
<text class="tl" text-anchor="end" transform="translate(302.6 68.8) scale(0.87 1)">20</text>
<text class="tl" text-anchor="end" transform="translate(302.6 111.8) scale(0.87 1)">40</text>
<text class="tl" text-anchor="end" transform="translate(302.6 154.7) scale(0.87 1)">60</text>
<text class="tl" text-anchor="end" transform="translate(302.6 197.7) scale(0.87 1)">80</text>
<text class="tl" text-anchor="middle" transform="translate(308.0 206.0) scale(0.87 1)">40</text>
<text class="tl" text-anchor="middle" transform="translate(374.1 206.0) scale(0.87 1)">60</text>
<text class="tl" text-anchor="middle" transform="translate(440.1 206.0) scale(0.87 1)">80</text>
<text class="tl" text-anchor="middle" transform="translate(506.2 206.0) scale(0.87 1)">100</text>
<text class="al" text-anchor="middle" transform="translate(291.6 118.5) rotate(-90)">Depth (m)</text>
<text class="al" text-anchor="middle" x="415.7" y="217.4">Section Distance (km)</text>
<text class="ti" text-anchor="end" x="523.5" y="11.7"><tspan font-style="italic">K</tspan><tspan font-style="italic" font-size="5.2" dy="1.6">d</tspan><tspan dy="-1.6">(z,490) (m</tspan><tspan font-size="5.2" dy="-3.2">-1</tspan><tspan dy="3.2">)</tspan></text>
<text class="pl" text-anchor="middle" x="465.0" y="180.5">(b)</text>
<text class="cl" text-anchor="middle" transform="translate(332.5 51.3) rotate(-10)">0.075</text>
<text class="cl" text-anchor="middle" transform="translate(393.6 38.3) rotate(-90)">0.06</text>
<text class="cl" text-anchor="middle" transform="translate(504.0 38.8) rotate(0)">0.</text>
<text class="cl" text-anchor="middle" transform="translate(447.5 91.3) rotate(0)">0.055</text>
<text class="cl" text-anchor="middle" transform="translate(504.0 110.3) rotate(0)">0.</text>
<text class="cl" text-anchor="middle" transform="translate(327.5 125.3) rotate(0)">0.08</text>
<text class="cl" text-anchor="middle" transform="translate(351.0 118.8) rotate(75)">0.075</text>
<text class="cl" text-anchor="middle" transform="translate(390.0 116.3) rotate(10)">0.07</text>
<text class="cl" text-anchor="middle" transform="translate(470.0 147.3) rotate(-35)">0.07</text>
<text class="cl" text-anchor="middle" transform="translate(457.5 191.3) rotate(-90)">0.065</text>
<linearGradient id="cb1" x1="0" y1="0" x2="0" y2="1"><stop offset="0" stop-color="#FABC88"/><stop offset="0.0130" stop-color="#FABC88"/><stop offset="0.0505" stop-color="#F29070"/><stop offset="0.0879" stop-color="#E45C68"/><stop offset="0.1253" stop-color="#D82C40"/><stop offset="0.1628" stop-color="#DA2626"/><stop offset="0.2002" stop-color="#E64A10"/><stop offset="0.2377" stop-color="#F8840C"/><stop offset="0.2751" stop-color="#FCB00C"/><stop offset="0.3126" stop-color="#FACA0C"/><stop offset="0.3500" stop-color="#E6D414"/><stop offset="0.3875" stop-color="#B4C814"/><stop offset="0.4249" stop-color="#78BC1C"/><stop offset="0.4623" stop-color="#48B21E"/><stop offset="0.4998" stop-color="#2CB024"/><stop offset="0.5372" stop-color="#16BA32"/><stop offset="0.5747" stop-color="#0CC450"/><stop offset="0.6121" stop-color="#0CD080"/><stop offset="0.6496" stop-color="#10D2B0"/><stop offset="0.6870" stop-color="#14C8E0"/><stop offset="0.7245" stop-color="#20ACF4"/><stop offset="0.7619" stop-color="#2E8AF6"/><stop offset="0.7993" stop-color="#4470F4"/><stop offset="0.8368" stop-color="#5C58F0"/><stop offset="0.8742" stop-color="#7048F0"/><stop offset="0.9117" stop-color="#8440F0"/><stop offset="0.9491" stop-color="#A444F0"/><stop offset="0.9866" stop-color="#D468F0"/></linearGradient>
<path d="M514.1 23.8L520.1 21.0L526.1 23.8L526.1 194.1L520.1 197.8L514.1 194.1Z" fill="url(#cb1)"/>
<text class="tl" text-anchor="start" transform="translate(528.1 25.6) scale(0.87 1)">0.15</text>
<path class="tk" d="M514.1 56.4h2.2M526.1 56.4h-2.2"/>
<text class="tl" text-anchor="start" transform="translate(528.1 58.7) scale(0.87 1)">0.125</text>
<path class="tk" d="M514.1 89.5h2.2M526.1 89.5h-2.2"/>
<text class="tl" text-anchor="start" transform="translate(528.1 91.8) scale(0.87 1)">0.1</text>
<path class="tk" d="M514.1 122.6h2.2M526.1 122.6h-2.2"/>
<text class="tl" text-anchor="start" transform="translate(528.1 124.9) scale(0.87 1)">0.075</text>
<path class="tk" d="M514.1 155.7h2.2M526.1 155.7h-2.2"/>
<text class="tl" text-anchor="start" transform="translate(528.1 158.0) scale(0.87 1)">0.05</text>
<path class="tk" d="M514.1 188.8h2.2M526.1 188.8h-2.2"/>
<text class="tl" text-anchor="start" transform="translate(528.1 191.1) scale(0.87 1)">0.025</text>
<path class="fr" d="M31.3 244.8H229.5V416.7"/>
<path class="ax" d="M31.4 244.5V416.7H229.8"/>
<path class="tk" d="M31.4 244.8h-3.4M31.4 287.8h-3.4M31.4 330.8h-3.4M31.4 373.7h-3.4M31.4 416.7h-3.4M53.3 416.7v2.6M97.4 416.7v2.6M141.4 416.7v2.6M185.5 416.7v2.6M229.5 416.7v2.6M31.3 416.7v1.5M75.3 416.7v1.5M119.4 416.7v1.5M163.4 416.7v1.5M207.5 416.7v1.5"/>
<text class="tl" text-anchor="end" transform="translate(25.9 247.1) scale(0.87 1)">0</text>
<text class="tl" text-anchor="end" transform="translate(25.9 290.1) scale(0.87 1)">20</text>
<text class="tl" text-anchor="end" transform="translate(25.9 333.1) scale(0.87 1)">40</text>
<text class="tl" text-anchor="end" transform="translate(25.9 376.0) scale(0.87 1)">60</text>
<text class="tl" text-anchor="end" transform="translate(25.9 419.0) scale(0.87 1)">80</text>
<text class="tl" text-anchor="middle" transform="translate(53.3 427.3) scale(0.87 1)">20</text>
<text class="tl" text-anchor="middle" transform="translate(97.4 427.3) scale(0.87 1)">40</text>
<text class="tl" text-anchor="middle" transform="translate(141.4 427.3) scale(0.87 1)">60</text>
<text class="tl" text-anchor="middle" transform="translate(185.5 427.3) scale(0.87 1)">80</text>
<text class="tl" text-anchor="middle" transform="translate(229.5 427.3) scale(0.87 1)">100</text>
<text class="al" text-anchor="middle" transform="translate(14.9 339.8) rotate(-90)">Depth (m)</text>
<text class="al" text-anchor="middle" x="139.0" y="438.7">Section Distance (km)</text>
<text class="ti" text-anchor="end" x="246.8" y="233.0"><tspan font-style="italic">K</tspan><tspan font-style="italic" font-size="5.2" dy="1.6">d</tspan><tspan dy="-1.6">(z,490) (m</tspan><tspan font-size="5.2" dy="-3.2">-1</tspan><tspan dy="3.2">)</tspan></text>
<text class="pl" text-anchor="middle" x="198.4" y="405.0">(c)</text>
<text class="cl" text-anchor="middle" transform="translate(34.5 267.3) rotate(0)">09</text>
<text class="cl" text-anchor="middle" transform="translate(55.0 295.8) rotate(15)">0.09</text>
<text class="cl" text-anchor="middle" transform="translate(41.0 306.8) rotate(5)">0.105</text>
<text class="cl" text-anchor="middle" transform="translate(35.0 314.3) rotate(0)">25</text>
<text class="cl" text-anchor="middle" transform="translate(57.5 315.8) rotate(30)">0.12</text>
<text class="cl" text-anchor="middle" transform="translate(67.5 320.8) rotate(65)">0.11</text>
<text class="cl" text-anchor="middle" transform="translate(76.5 325.8) rotate(-90)">0.095</text>
<text class="cl" text-anchor="middle" transform="translate(64.0 330.8) rotate(-80)">0.115</text>
<text class="cl" text-anchor="middle" transform="translate(52.5 337.3) rotate(-5)">0.135</text>
<text class="cl" text-anchor="middle" transform="translate(37.5 343.3) rotate(10)">12</text>
<text class="cl" text-anchor="middle" transform="translate(45.0 345.8) rotate(10)">11</text>
<text class="cl" text-anchor="middle" transform="translate(84.0 372.3) rotate(-25)">0.085</text>
<text class="cl" text-anchor="middle" transform="translate(107.5 374.8) rotate(-50)">0.08</text>
<text class="cl" text-anchor="middle" transform="translate(125.0 260.8) rotate(75)">0.065</text>
<text class="cl" text-anchor="middle" transform="translate(130.0 348.3) rotate(70)">0.075</text>
<text class="cl" text-anchor="middle" transform="translate(162.5 248.3) rotate(-50)">0.06</text>
<text class="cl" text-anchor="middle" transform="translate(201.5 259.3) rotate(-15)">0.06</text>
<text class="cl" text-anchor="middle" transform="translate(226.5 330.8) rotate(0)">0.0</text>
<text class="cl" text-anchor="middle" transform="translate(203.5 340.8) rotate(10)">0.075</text>
<text class="cl" text-anchor="middle" transform="translate(165.9 374.0) rotate(-85)">0.08</text>
<text class="cl" text-anchor="middle" transform="translate(205.0 374.8) rotate(-5)">0.07</text>
<text class="cl" text-anchor="middle" transform="translate(169.0 412.3) rotate(-90)">0.0</text>
<linearGradient id="cb2" x1="0" y1="0" x2="0" y2="1"><stop offset="0" stop-color="#FABC88"/><stop offset="0.0130" stop-color="#FABC88"/><stop offset="0.0505" stop-color="#F29070"/><stop offset="0.0879" stop-color="#E45C68"/><stop offset="0.1253" stop-color="#D82C40"/><stop offset="0.1628" stop-color="#DA2626"/><stop offset="0.2002" stop-color="#E64A10"/><stop offset="0.2377" stop-color="#F8840C"/><stop offset="0.2751" stop-color="#FCB00C"/><stop offset="0.3126" stop-color="#FACA0C"/><stop offset="0.3500" stop-color="#E6D414"/><stop offset="0.3875" stop-color="#B4C814"/><stop offset="0.4249" stop-color="#78BC1C"/><stop offset="0.4623" stop-color="#48B21E"/><stop offset="0.4998" stop-color="#2CB024"/><stop offset="0.5372" stop-color="#16BA32"/><stop offset="0.5747" stop-color="#0CC450"/><stop offset="0.6121" stop-color="#0CD080"/><stop offset="0.6496" stop-color="#10D2B0"/><stop offset="0.6870" stop-color="#14C8E0"/><stop offset="0.7245" stop-color="#20ACF4"/><stop offset="0.7619" stop-color="#2E8AF6"/><stop offset="0.7993" stop-color="#4470F4"/><stop offset="0.8368" stop-color="#5C58F0"/><stop offset="0.8742" stop-color="#7048F0"/><stop offset="0.9117" stop-color="#8440F0"/><stop offset="0.9491" stop-color="#A444F0"/><stop offset="0.9866" stop-color="#D468F0"/></linearGradient>
<path d="M237.4 245.1L243.4 242.3L249.4 245.1L249.4 415.4L243.4 419.1L237.4 415.4Z" fill="url(#cb2)"/>
<text class="tl" text-anchor="start" transform="translate(251.4 246.9) scale(0.87 1)">0.15</text>
<path class="tk" d="M237.4 277.7h2.2M249.4 277.7h-2.2"/>
<text class="tl" text-anchor="start" transform="translate(251.4 280.0) scale(0.87 1)">0.125</text>
<path class="tk" d="M237.4 310.8h2.2M249.4 310.8h-2.2"/>
<text class="tl" text-anchor="start" transform="translate(251.4 313.1) scale(0.87 1)">0.1</text>
<path class="tk" d="M237.4 343.9h2.2M249.4 343.9h-2.2"/>
<text class="tl" text-anchor="start" transform="translate(251.4 346.2) scale(0.87 1)">0.075</text>
<path class="tk" d="M237.4 377.0h2.2M249.4 377.0h-2.2"/>
<text class="tl" text-anchor="start" transform="translate(251.4 379.3) scale(0.87 1)">0.05</text>
<path class="tk" d="M237.4 410.1h2.2M249.4 410.1h-2.2"/>
<text class="tl" text-anchor="start" transform="translate(251.4 412.4) scale(0.87 1)">0.025</text>
<path class="fr" d="M307.9 244.8H506.2V416.7"/>
<path class="ax" d="M308.0 244.5V416.7H506.5"/>
<path class="tk" d="M308.0 244.8h-3.4M308.0 287.8h-3.4M308.0 330.8h-3.4M308.0 373.7h-3.4M308.0 416.7h-3.4M332.6 416.7v2.6M382.1 416.7v2.6M431.6 416.7v2.6M481.1 416.7v2.6M357.4 416.7v1.5M406.9 416.7v1.5M456.4 416.7v1.5"/>
<text class="tl" text-anchor="end" transform="translate(302.5 247.1) scale(0.87 1)">0</text>
<text class="tl" text-anchor="end" transform="translate(302.5 290.1) scale(0.87 1)">20</text>
<text class="tl" text-anchor="end" transform="translate(302.5 333.1) scale(0.87 1)">40</text>
<text class="tl" text-anchor="end" transform="translate(302.5 376.0) scale(0.87 1)">60</text>
<text class="tl" text-anchor="end" transform="translate(302.5 419.0) scale(0.87 1)">80</text>
<text class="tl" text-anchor="middle" transform="translate(332.6 427.3) scale(0.87 1)">110</text>
<text class="tl" text-anchor="middle" transform="translate(382.1 427.3) scale(0.87 1)">120</text>
<text class="tl" text-anchor="middle" transform="translate(431.6 427.3) scale(0.87 1)">130</text>
<text class="tl" text-anchor="middle" transform="translate(481.1 427.3) scale(0.87 1)">140</text>
<text class="al" text-anchor="middle" transform="translate(291.5 339.8) rotate(-90)">Depth (m)</text>
<text class="al" text-anchor="middle" x="415.6" y="438.7">Section Distance (km)</text>
<text class="ti" text-anchor="end" x="523.5" y="233.0"><tspan font-style="italic">K</tspan><tspan font-style="italic" font-size="5.2" dy="1.6">d</tspan><tspan dy="-1.6">(z,490) (m</tspan><tspan font-size="5.2" dy="-3.2">-1</tspan><tspan dy="3.2">)</tspan></text>
<text class="pl" text-anchor="middle" x="478.6" y="405.5">(d)</text>
<text class="cl" text-anchor="middle" transform="translate(327.5 248.3) rotate(15)">0.07</text>
<text class="cl" text-anchor="middle" transform="translate(355.0 249.3) rotate(-90)">0.065</text>
<text class="cl" text-anchor="middle" transform="translate(458.5 260.8) rotate(-90)">0.06</text>
<text class="cl" text-anchor="middle" transform="translate(314.0 314.3) rotate(0)">0.065</text>
<text class="cl" text-anchor="middle" transform="translate(325.0 346.8) rotate(-15)">0.075</text>
<text class="cl" text-anchor="middle" transform="translate(381.5 364.3) rotate(-5)">0.07</text>
<text class="cl" text-anchor="middle" transform="translate(330.0 380.8) rotate(-5)">0.075</text>
<text class="cl" text-anchor="middle" transform="translate(464.0 383.3) rotate(-30)">0.075</text>
<text class="cl" text-anchor="middle" transform="translate(469.0 393.3) rotate(-60)">0.095</text>
<text class="cl" text-anchor="middle" transform="translate(491.0 383.3) rotate(-5)">0.085</text>
<text class="cl" text-anchor="middle" transform="translate(481.5 390.8) rotate(0)">0.11</text>
<text class="cl" text-anchor="middle" transform="translate(503.0 389.3) rotate(0)">0.1</text>
<text class="cl" text-anchor="middle" transform="translate(504.0 382.3) rotate(0)">0.0</text>
<text class="cl" text-anchor="middle" transform="translate(452.5 412.3) rotate(-80)">0.08</text>
<linearGradient id="cb3" x1="0" y1="0" x2="0" y2="1"><stop offset="0" stop-color="#FABC88"/><stop offset="0.0130" stop-color="#FABC88"/><stop offset="0.0505" stop-color="#F29070"/><stop offset="0.0879" stop-color="#E45C68"/><stop offset="0.1253" stop-color="#D82C40"/><stop offset="0.1628" stop-color="#DA2626"/><stop offset="0.2002" stop-color="#E64A10"/><stop offset="0.2377" stop-color="#F8840C"/><stop offset="0.2751" stop-color="#FCB00C"/><stop offset="0.3126" stop-color="#FACA0C"/><stop offset="0.3500" stop-color="#E6D414"/><stop offset="0.3875" stop-color="#B4C814"/><stop offset="0.4249" stop-color="#78BC1C"/><stop offset="0.4623" stop-color="#48B21E"/><stop offset="0.4998" stop-color="#2CB024"/><stop offset="0.5372" stop-color="#16BA32"/><stop offset="0.5747" stop-color="#0CC450"/><stop offset="0.6121" stop-color="#0CD080"/><stop offset="0.6496" stop-color="#10D2B0"/><stop offset="0.6870" stop-color="#14C8E0"/><stop offset="0.7245" stop-color="#20ACF4"/><stop offset="0.7619" stop-color="#2E8AF6"/><stop offset="0.7993" stop-color="#4470F4"/><stop offset="0.8368" stop-color="#5C58F0"/><stop offset="0.8742" stop-color="#7048F0"/><stop offset="0.9117" stop-color="#8440F0"/><stop offset="0.9491" stop-color="#A444F0"/><stop offset="0.9866" stop-color="#D468F0"/></linearGradient>
<path d="M514.1 245.1L520.1 242.3L526.1 245.1L526.1 415.4L520.1 419.1L514.1 415.4Z" fill="url(#cb3)"/>
<text class="tl" text-anchor="start" transform="translate(528.1 246.9) scale(0.87 1)">0.15</text>
<path class="tk" d="M514.1 277.7h2.2M526.1 277.7h-2.2"/>
<text class="tl" text-anchor="start" transform="translate(528.1 280.0) scale(0.87 1)">0.125</text>
<path class="tk" d="M514.1 310.8h2.2M526.1 310.8h-2.2"/>
<text class="tl" text-anchor="start" transform="translate(528.1 313.1) scale(0.87 1)">0.1</text>
<path class="tk" d="M514.1 343.9h2.2M526.1 343.9h-2.2"/>
<text class="tl" text-anchor="start" transform="translate(528.1 346.2) scale(0.87 1)">0.075</text>
<path class="tk" d="M514.1 377.0h2.2M526.1 377.0h-2.2"/>
<text class="tl" text-anchor="start" transform="translate(528.1 379.3) scale(0.87 1)">0.05</text>
<path class="tk" d="M514.1 410.1h2.2M526.1 410.1h-2.2"/>
<text class="tl" text-anchor="start" transform="translate(528.1 412.4) scale(0.87 1)">0.025</text>
</svg>
</div>
</body></html>
